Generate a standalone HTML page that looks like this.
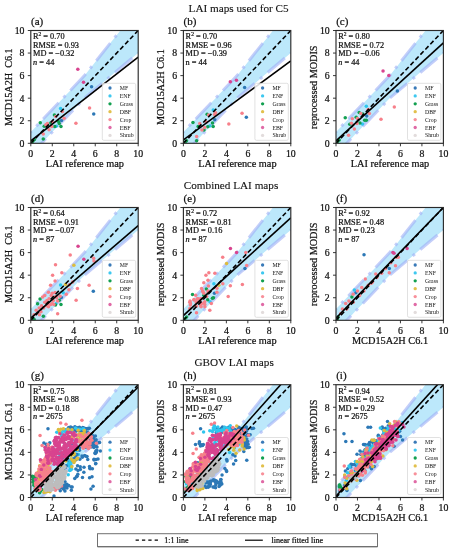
<!DOCTYPE html>
<html><head><meta charset="utf-8"><title>LAI scatter comparison</title>
<style>
html,body{margin:0;padding:0;background:#fff;}
body{width:451px;height:550px;overflow:hidden;}
svg{display:block;filter:blur(0.35px);}
text{font-family:'Liberation Serif', 'DejaVu Serif', serif;fill:#111;stroke:#111;stroke-width:0.22px;}
</style></head><body>
<svg width="451" height="550" viewBox="0 0 451 550">
<rect width="451" height="550" fill="#fff"/>

<text x="188.6" y="11.6" font-size="11.2" style="stroke-width:0.1px">LAI maps used for C5</text>
<text x="183.8" y="188.7" font-size="11.2" style="stroke-width:0.1px">Combined LAI maps</text>
<text x="194.4" y="365.7" font-size="11.2" style="stroke-width:0.1px">GBOV LAI maps</text>
<defs>
<clipPath id="c0"><rect x="30.8" y="30.5" width="107.4" height="112.8"/></clipPath>
<clipPath id="c1"><rect x="183.4" y="30.5" width="107.4" height="112.8"/></clipPath>
<clipPath id="c2"><rect x="336" y="30.5" width="107.4" height="112.8"/></clipPath>
<clipPath id="c3"><rect x="30.8" y="207.5" width="107.4" height="112.8"/></clipPath>
<clipPath id="c4"><rect x="183.4" y="207.5" width="107.4" height="112.8"/></clipPath>
<clipPath id="c5"><rect x="336" y="207.5" width="107.4" height="112.8"/></clipPath>
<clipPath id="c6"><rect x="30.8" y="384.7" width="107.4" height="112.8"/></clipPath>
<clipPath id="c7"><rect x="183.4" y="384.7" width="107.4" height="112.8"/></clipPath>
<clipPath id="c8"><rect x="336" y="384.7" width="107.4" height="112.8"/></clipPath>
</defs>
<g clip-path="url(#c0)">
<polygon points="30.8,132.02 33.48,129.2 36.17,126.38 38.86,123.56 41.54,120.74 44.23,117.92 46.91,115.1 49.59,112.28 52.28,109.46 54.97,106.64 57.65,103.82 60.34,101 63.02,98.18 65.7,95.36 68.39,92.54 71.08,89.72 73.76,86.9 76.45,84.08 79.13,81.26 81.81,78.44 84.5,75.62 87.19,72.24 89.87,68.85 92.56,65.47 95.24,62.08 97.92,58.7 100.61,55.32 103.3,51.93 105.98,48.55 108.67,45.16 111.35,41.78 114.03,38.4 116.72,35.01 119.41,31.63 122.09,28.24 124.77,24.86 127.46,21.48 130.15,18.09 132.83,14.71 135.52,11.32 138.2,7.94 138.2,53.06 135.52,55.32 132.83,57.57 130.15,59.83 127.46,62.08 124.77,64.34 122.09,66.6 119.41,68.85 116.72,71.11 114.03,73.36 111.35,75.62 108.67,77.88 105.98,80.13 103.3,82.39 100.61,84.64 97.92,86.9 95.24,89.16 92.56,91.41 89.87,93.67 87.19,95.92 84.5,98.18 81.81,101 79.13,103.82 76.45,106.64 73.76,109.46 71.08,112.28 68.39,115.1 65.7,117.92 63.02,120.74 60.34,123.56 57.65,126.38 54.97,129.2 52.28,132.02 49.59,134.84 46.91,137.66 44.23,140.48 41.54,143.3 38.86,146.12 36.17,148.94 33.48,151.76 30.8,154.58" fill="#bce8fb"/>
<path d="M30.8,132.02 L84.5,75.62 L138.2,7.94" fill="none" stroke="#9fb0f5" stroke-opacity="0.62" stroke-width="3" stroke-dasharray="22.5 7 3 7" stroke-dashoffset="21.6"/>
<path d="M30.8,154.58 L84.5,98.18 L138.2,53.06" fill="none" stroke="#9fb0f5" stroke-opacity="0.62" stroke-width="3" stroke-dasharray="22.5 7 3 7" stroke-dashoffset="0.7"/>
<circle cx="61.52" cy="120.4" r="1.75" fill="#2c78b6"/>
<circle cx="91.59" cy="86.67" r="1.75" fill="#2c78b6"/>
<circle cx="93.74" cy="114.08" r="1.75" fill="#2c78b6"/>
<circle cx="60.55" cy="108.44" r="1.75" fill="#2ec6ee"/>
<circle cx="56.25" cy="126.15" r="1.75" fill="#2ec6ee"/>
<circle cx="54.43" cy="115.1" r="1.75" fill="#13a052"/>
<circle cx="40.25" cy="122.66" r="1.75" fill="#13a052"/>
<circle cx="50.78" cy="123.11" r="1.75" fill="#13a052"/>
<circle cx="59.26" cy="123.56" r="1.75" fill="#13a052"/>
<circle cx="44.23" cy="126.15" r="1.75" fill="#13a052"/>
<circle cx="54.75" cy="126.61" r="1.75" fill="#13a052"/>
<circle cx="60.98" cy="126.61" r="1.75" fill="#13a052"/>
<circle cx="43.26" cy="139.01" r="1.75" fill="#13a052"/>
<circle cx="34.45" cy="139.46" r="1.75" fill="#13a052"/>
<circle cx="32.73" cy="141.16" r="1.75" fill="#13a052"/>
<circle cx="31.87" cy="142.74" r="1.75" fill="#13a052"/>
<circle cx="58.19" cy="121.3" r="1.75" fill="#13a052"/>
<circle cx="62.38" cy="111.49" r="1.75" fill="#f7808a"/>
<circle cx="55.72" cy="116.45" r="1.75" fill="#f7808a"/>
<circle cx="64.09" cy="118.26" r="1.75" fill="#f7808a"/>
<circle cx="47.34" cy="123.56" r="1.75" fill="#f7808a"/>
<circle cx="51.74" cy="126.61" r="1.75" fill="#f7808a"/>
<circle cx="49.06" cy="129.65" r="1.75" fill="#f7808a"/>
<circle cx="43.26" cy="134.05" r="1.75" fill="#f7808a"/>
<circle cx="89.55" cy="108.11" r="1.75" fill="#f7808a"/>
<circle cx="75.91" cy="123.22" r="1.75" fill="#f7808a"/>
<circle cx="45.84" cy="124.69" r="1.75" fill="#f7808a"/>
<circle cx="52.28" cy="121.87" r="1.75" fill="#f7808a"/>
<circle cx="77.84" cy="69.19" r="1.75" fill="#d8448f"/>
<circle cx="83.53" cy="82.28" r="1.75" fill="#d8448f"/>
<line x1="30.8" y1="143.3" x2="138.2" y2="30.5" stroke="#000" stroke-width="1.6" stroke-dasharray="4.6 2.6"/>
<line x1="30.8" y1="140.93" x2="138.2" y2="57.01" stroke="#000" stroke-width="1.6"/>
</g>
<rect x="102.3" y="83.3" width="33.4" height="57" rx="1.5" fill="#fff" fill-opacity="0.85" stroke="#d4d4d4" stroke-width="0.7"/>
<circle cx="110" cy="88" r="1.65" fill="#3a7ab8"/>
<text x="119.8" y="90" font-size="5.8" style="stroke:none" fill="#333">MF</text>
<circle cx="110" cy="95.9" r="1.65" fill="#3ec8f0"/>
<text x="119.8" y="97.9" font-size="5.8" style="stroke:none" fill="#333">ENF</text>
<circle cx="110" cy="103.8" r="1.65" fill="#12a050"/>
<text x="119.8" y="105.8" font-size="5.8" style="stroke:none" fill="#333">Grass</text>
<circle cx="110" cy="111.7" r="1.65" fill="#e2c04c"/>
<text x="119.8" y="113.7" font-size="5.8" style="stroke:none" fill="#333">DBF</text>
<circle cx="110" cy="119.6" r="1.65" fill="#f8909a"/>
<text x="119.8" y="121.6" font-size="5.8" style="stroke:none" fill="#333">Crop</text>
<circle cx="110" cy="127.5" r="1.65" fill="#e06aa6"/>
<text x="119.8" y="129.5" font-size="5.8" style="stroke:none" fill="#333">EBF</text>
<circle cx="110" cy="135.4" r="1.65" fill="#e2dcdc"/>
<text x="119.8" y="137.4" font-size="5.8" style="stroke:none" fill="#333">Shrub</text>
<text x="33" y="39.3" font-size="8.3">R<tspan font-size="5.5" dy="-3.2">2</tspan><tspan dy="3.2"> = 0.70</tspan></text>
<text x="33" y="47.8" font-size="8.3">RMSE = 0.93</text>
<text x="33" y="56.4" font-size="8.3">MD = −0.32</text>
<text x="33" y="65.1" font-size="8.3"><tspan font-style="italic">n</tspan> = 44</text>
<rect x="30.8" y="30.5" width="107.4" height="112.8" fill="none" stroke="#2a2a2a" stroke-width="1.15"/>
<line x1="30.8" y1="143.3" x2="30.8" y2="146.3" stroke="#222" stroke-width="0.9"/>
<line x1="27.8" y1="143.3" x2="30.8" y2="143.3" stroke="#222" stroke-width="0.9"/>
<text x="30.8" y="156.5" font-size="9.8" text-anchor="middle">0</text>
<text x="24.5" y="146.7" font-size="9.8" text-anchor="end">0</text>
<line x1="52.28" y1="143.3" x2="52.28" y2="146.3" stroke="#222" stroke-width="0.9"/>
<line x1="27.8" y1="120.74" x2="30.8" y2="120.74" stroke="#222" stroke-width="0.9"/>
<text x="52.28" y="156.5" font-size="9.8" text-anchor="middle">2</text>
<text x="24.5" y="124.14" font-size="9.8" text-anchor="end">2</text>
<line x1="73.76" y1="143.3" x2="73.76" y2="146.3" stroke="#222" stroke-width="0.9"/>
<line x1="27.8" y1="98.18" x2="30.8" y2="98.18" stroke="#222" stroke-width="0.9"/>
<text x="73.76" y="156.5" font-size="9.8" text-anchor="middle">4</text>
<text x="24.5" y="101.58" font-size="9.8" text-anchor="end">4</text>
<line x1="95.24" y1="143.3" x2="95.24" y2="146.3" stroke="#222" stroke-width="0.9"/>
<line x1="27.8" y1="75.62" x2="30.8" y2="75.62" stroke="#222" stroke-width="0.9"/>
<text x="95.24" y="156.5" font-size="9.8" text-anchor="middle">6</text>
<text x="24.5" y="79.02" font-size="9.8" text-anchor="end">6</text>
<line x1="116.72" y1="143.3" x2="116.72" y2="146.3" stroke="#222" stroke-width="0.9"/>
<line x1="27.8" y1="53.06" x2="30.8" y2="53.06" stroke="#222" stroke-width="0.9"/>
<text x="116.72" y="156.5" font-size="9.8" text-anchor="middle">8</text>
<text x="24.5" y="56.46" font-size="9.8" text-anchor="end">8</text>
<line x1="138.2" y1="143.3" x2="138.2" y2="146.3" stroke="#222" stroke-width="0.9"/>
<line x1="27.8" y1="30.5" x2="30.8" y2="30.5" stroke="#222" stroke-width="0.9"/>
<text x="138.2" y="156.5" font-size="9.8" text-anchor="middle">10</text>
<text x="24.5" y="33.9" font-size="9.8" text-anchor="end">10</text>
<text x="84.8" y="166.8" font-size="10.3" text-anchor="middle">LAI reference map</text>
<text transform="translate(11.8,87.2) rotate(-90)" font-size="10.2" text-anchor="middle" xml:space="preserve">MCD15A2H  C6.1</text>
<text x="31" y="24.7" font-size="11">(a)</text>
<g clip-path="url(#c1)">
<polygon points="183.4,132.02 186.09,129.2 188.77,126.38 191.46,123.56 194.14,120.74 196.83,117.92 199.51,115.1 202.19,112.28 204.88,109.46 207.56,106.64 210.25,103.82 212.94,101 215.62,98.18 218.31,95.36 220.99,92.54 223.68,89.72 226.36,86.9 229.05,84.08 231.73,81.26 234.42,78.44 237.1,75.62 239.79,72.24 242.47,68.85 245.16,65.47 247.84,62.08 250.53,58.7 253.21,55.32 255.9,51.93 258.58,48.55 261.26,45.16 263.95,41.78 266.63,38.4 269.32,35.01 272,31.63 274.69,28.24 277.38,24.86 280.06,21.48 282.75,18.09 285.43,14.71 288.12,11.32 290.8,7.94 290.8,53.06 288.12,55.32 285.43,57.57 282.75,59.83 280.06,62.08 277.38,64.34 274.69,66.6 272,68.85 269.32,71.11 266.63,73.36 263.95,75.62 261.26,77.88 258.58,80.13 255.9,82.39 253.21,84.64 250.53,86.9 247.84,89.16 245.16,91.41 242.47,93.67 239.79,95.92 237.1,98.18 234.42,101 231.73,103.82 229.05,106.64 226.36,109.46 223.68,112.28 220.99,115.1 218.31,117.92 215.62,120.74 212.94,123.56 210.25,126.38 207.56,129.2 204.88,132.02 202.19,134.84 199.51,137.66 196.83,140.48 194.14,143.3 191.46,146.12 188.77,148.94 186.09,151.76 183.4,154.58" fill="#bce8fb"/>
<path d="M183.4,132.02 L237.1,75.62 L290.8,7.94" fill="none" stroke="#9fb0f5" stroke-opacity="0.62" stroke-width="3" stroke-dasharray="22.5 7 3 7" stroke-dashoffset="21.6"/>
<path d="M183.4,154.58 L237.1,98.18 L290.8,53.06" fill="none" stroke="#9fb0f5" stroke-opacity="0.62" stroke-width="3" stroke-dasharray="22.5 7 3 7" stroke-dashoffset="0.7"/>
<circle cx="244.62" cy="87.58" r="1.75" fill="#2c78b6"/>
<circle cx="246.34" cy="117.36" r="1.75" fill="#2c78b6"/>
<circle cx="214.76" cy="119.84" r="1.75" fill="#2c78b6"/>
<circle cx="213.26" cy="110.02" r="1.75" fill="#2ec6ee"/>
<circle cx="209.82" cy="126.04" r="1.75" fill="#2ec6ee"/>
<circle cx="207.14" cy="114.31" r="1.75" fill="#13a052"/>
<circle cx="192.96" cy="122.43" r="1.75" fill="#13a052"/>
<circle cx="212.51" cy="122.88" r="1.75" fill="#13a052"/>
<circle cx="207.78" cy="126.72" r="1.75" fill="#13a052"/>
<circle cx="213.15" cy="126.38" r="1.75" fill="#13a052"/>
<circle cx="198.11" cy="126.38" r="1.75" fill="#13a052"/>
<circle cx="204.02" cy="129.99" r="1.75" fill="#13a052"/>
<circle cx="196.61" cy="140.71" r="1.75" fill="#13a052"/>
<circle cx="186.51" cy="140.71" r="1.75" fill="#13a052"/>
<circle cx="185.01" cy="142.17" r="1.75" fill="#13a052"/>
<circle cx="242.04" cy="113.18" r="1.75" fill="#f7808a"/>
<circle cx="228.83" cy="124.12" r="1.75" fill="#f7808a"/>
<circle cx="208.64" cy="115.1" r="1.75" fill="#f7808a"/>
<circle cx="215.62" cy="112.84" r="1.75" fill="#f7808a"/>
<circle cx="214.55" cy="114.54" r="1.75" fill="#f7808a"/>
<circle cx="199.72" cy="123.56" r="1.75" fill="#f7808a"/>
<circle cx="206.28" cy="122.09" r="1.75" fill="#f7808a"/>
<circle cx="201.98" cy="129.99" r="1.75" fill="#f7808a"/>
<circle cx="204.67" cy="127.62" r="1.75" fill="#f7808a"/>
<circle cx="196.61" cy="136.42" r="1.75" fill="#f7808a"/>
<circle cx="230.33" cy="81.71" r="1.75" fill="#d8448f"/>
<circle cx="236.46" cy="80.24" r="1.75" fill="#d8448f"/>
<line x1="183.4" y1="143.3" x2="290.8" y2="30.5" stroke="#000" stroke-width="1.6" stroke-dasharray="4.6 2.6"/>
<line x1="183.4" y1="139.92" x2="290.8" y2="60.96" stroke="#000" stroke-width="1.6"/>
</g>
<rect x="254.9" y="83.3" width="33.4" height="57" rx="1.5" fill="#fff" fill-opacity="0.85" stroke="#d4d4d4" stroke-width="0.7"/>
<circle cx="262.6" cy="88" r="1.65" fill="#3a7ab8"/>
<text x="272.4" y="90" font-size="5.8" style="stroke:none" fill="#333">MF</text>
<circle cx="262.6" cy="95.9" r="1.65" fill="#3ec8f0"/>
<text x="272.4" y="97.9" font-size="5.8" style="stroke:none" fill="#333">ENF</text>
<circle cx="262.6" cy="103.8" r="1.65" fill="#12a050"/>
<text x="272.4" y="105.8" font-size="5.8" style="stroke:none" fill="#333">Grass</text>
<circle cx="262.6" cy="111.7" r="1.65" fill="#e2c04c"/>
<text x="272.4" y="113.7" font-size="5.8" style="stroke:none" fill="#333">DBF</text>
<circle cx="262.6" cy="119.6" r="1.65" fill="#f8909a"/>
<text x="272.4" y="121.6" font-size="5.8" style="stroke:none" fill="#333">Crop</text>
<circle cx="262.6" cy="127.5" r="1.65" fill="#e06aa6"/>
<text x="272.4" y="129.5" font-size="5.8" style="stroke:none" fill="#333">EBF</text>
<circle cx="262.6" cy="135.4" r="1.65" fill="#e2dcdc"/>
<text x="272.4" y="137.4" font-size="5.8" style="stroke:none" fill="#333">Shrub</text>
<text x="185.6" y="39.3" font-size="8.3">R<tspan font-size="5.5" dy="-3.2">2</tspan><tspan dy="3.2"> = 0.70</tspan></text>
<text x="185.6" y="47.8" font-size="8.3">RMSE = 0.96</text>
<text x="185.6" y="56.4" font-size="8.3">MD = −0.39</text>
<text x="185.6" y="65.1" font-size="8.3">n = 44</text>
<rect x="183.4" y="30.5" width="107.4" height="112.8" fill="none" stroke="#2a2a2a" stroke-width="1.15"/>
<line x1="183.4" y1="143.3" x2="183.4" y2="146.3" stroke="#222" stroke-width="0.9"/>
<line x1="180.4" y1="143.3" x2="183.4" y2="143.3" stroke="#222" stroke-width="0.9"/>
<text x="183.4" y="156.5" font-size="9.8" text-anchor="middle">0</text>
<text x="177.1" y="146.7" font-size="9.8" text-anchor="end">0</text>
<line x1="204.88" y1="143.3" x2="204.88" y2="146.3" stroke="#222" stroke-width="0.9"/>
<line x1="180.4" y1="120.74" x2="183.4" y2="120.74" stroke="#222" stroke-width="0.9"/>
<text x="204.88" y="156.5" font-size="9.8" text-anchor="middle">2</text>
<text x="177.1" y="124.14" font-size="9.8" text-anchor="end">2</text>
<line x1="226.36" y1="143.3" x2="226.36" y2="146.3" stroke="#222" stroke-width="0.9"/>
<line x1="180.4" y1="98.18" x2="183.4" y2="98.18" stroke="#222" stroke-width="0.9"/>
<text x="226.36" y="156.5" font-size="9.8" text-anchor="middle">4</text>
<text x="177.1" y="101.58" font-size="9.8" text-anchor="end">4</text>
<line x1="247.84" y1="143.3" x2="247.84" y2="146.3" stroke="#222" stroke-width="0.9"/>
<line x1="180.4" y1="75.62" x2="183.4" y2="75.62" stroke="#222" stroke-width="0.9"/>
<text x="247.84" y="156.5" font-size="9.8" text-anchor="middle">6</text>
<text x="177.1" y="79.02" font-size="9.8" text-anchor="end">6</text>
<line x1="269.32" y1="143.3" x2="269.32" y2="146.3" stroke="#222" stroke-width="0.9"/>
<line x1="180.4" y1="53.06" x2="183.4" y2="53.06" stroke="#222" stroke-width="0.9"/>
<text x="269.32" y="156.5" font-size="9.8" text-anchor="middle">8</text>
<text x="177.1" y="56.46" font-size="9.8" text-anchor="end">8</text>
<line x1="290.8" y1="143.3" x2="290.8" y2="146.3" stroke="#222" stroke-width="0.9"/>
<line x1="180.4" y1="30.5" x2="183.4" y2="30.5" stroke="#222" stroke-width="0.9"/>
<text x="290.8" y="156.5" font-size="9.8" text-anchor="middle">10</text>
<text x="177.1" y="33.9" font-size="9.8" text-anchor="end">10</text>
<text x="237.4" y="166.8" font-size="10.3" text-anchor="middle">LAI reference map</text>
<text transform="translate(164.4,87.2) rotate(-90)" font-size="10.2" text-anchor="middle" xml:space="preserve">MOD15A2H C6.1</text>
<text x="183.6" y="24.7" font-size="11">(b)</text>
<g clip-path="url(#c2)">
<polygon points="336,132.02 338.69,129.2 341.37,126.38 344.06,123.56 346.74,120.74 349.43,117.92 352.11,115.1 354.8,112.28 357.48,109.46 360.17,106.64 362.85,103.82 365.54,101 368.22,98.18 370.9,95.36 373.59,92.54 376.27,89.72 378.96,86.9 381.64,84.08 384.33,81.26 387.01,78.44 389.7,75.62 392.38,72.24 395.07,68.85 397.75,65.47 400.44,62.08 403.12,58.7 405.81,55.32 408.5,51.93 411.18,48.55 413.87,45.16 416.55,41.78 419.24,38.4 421.92,35.01 424.61,31.63 427.29,28.24 429.98,24.86 432.66,21.48 435.35,18.09 438.03,14.71 440.72,11.32 443.4,7.94 443.4,53.06 440.72,55.32 438.03,57.57 435.35,59.83 432.66,62.08 429.98,64.34 427.29,66.6 424.61,68.85 421.92,71.11 419.24,73.36 416.55,75.62 413.87,77.88 411.18,80.13 408.5,82.39 405.81,84.64 403.12,86.9 400.44,89.16 397.75,91.41 395.07,93.67 392.38,95.92 389.7,98.18 387.01,101 384.33,103.82 381.64,106.64 378.96,109.46 376.27,112.28 373.59,115.1 370.9,117.92 368.22,120.74 365.54,123.56 362.85,126.38 360.17,129.2 357.48,132.02 354.8,134.84 352.11,137.66 349.43,140.48 346.74,143.3 344.06,146.12 341.37,148.94 338.69,151.76 336,154.58" fill="#bce8fb"/>
<path d="M336,132.02 L389.7,75.62 L443.4,7.94" fill="none" stroke="#9fb0f5" stroke-opacity="0.62" stroke-width="3" stroke-dasharray="22.5 7 3 7" stroke-dashoffset="21.6"/>
<path d="M336,154.58 L389.7,98.18 L443.4,53.06" fill="none" stroke="#9fb0f5" stroke-opacity="0.62" stroke-width="3" stroke-dasharray="22.5 7 3 7" stroke-dashoffset="0.7"/>
<circle cx="397.33" cy="90.96" r="1.75" fill="#2c78b6"/>
<circle cx="366.72" cy="115.89" r="1.75" fill="#2c78b6"/>
<circle cx="366.29" cy="106.3" r="1.75" fill="#2ec6ee"/>
<circle cx="362.42" cy="124.12" r="1.75" fill="#2ec6ee"/>
<circle cx="359.2" cy="112.51" r="1.75" fill="#13a052"/>
<circle cx="356.19" cy="117.36" r="1.75" fill="#13a052"/>
<circle cx="345.24" cy="117.69" r="1.75" fill="#13a052"/>
<circle cx="364.68" cy="120.18" r="1.75" fill="#13a052"/>
<circle cx="366.29" cy="120.18" r="1.75" fill="#13a052"/>
<circle cx="359.95" cy="122.88" r="1.75" fill="#13a052"/>
<circle cx="349.75" cy="124.35" r="1.75" fill="#13a052"/>
<circle cx="339.22" cy="139.92" r="1.75" fill="#13a052"/>
<circle cx="337.61" cy="141.61" r="1.75" fill="#13a052"/>
<circle cx="362.85" cy="113.97" r="1.75" fill="#13a052"/>
<circle cx="394.32" cy="106.98" r="1.75" fill="#f7808a"/>
<circle cx="381" cy="119.27" r="1.75" fill="#f7808a"/>
<circle cx="360.81" cy="113.52" r="1.75" fill="#f7808a"/>
<circle cx="369.4" cy="113.52" r="1.75" fill="#f7808a"/>
<circle cx="352.32" cy="118.71" r="1.75" fill="#f7808a"/>
<circle cx="351.47" cy="123.33" r="1.75" fill="#f7808a"/>
<circle cx="356.94" cy="123.56" r="1.75" fill="#f7808a"/>
<circle cx="354.37" cy="129.09" r="1.75" fill="#f7808a"/>
<circle cx="348.57" cy="135.29" r="1.75" fill="#f7808a"/>
<circle cx="368.22" cy="109.46" r="1.75" fill="#f7808a"/>
<circle cx="357.48" cy="118.48" r="1.75" fill="#f7808a"/>
<circle cx="383.04" cy="70.88" r="1.75" fill="#d8448f"/>
<circle cx="388.84" cy="75.51" r="1.75" fill="#d8448f"/>
<line x1="336" y1="143.3" x2="443.4" y2="30.5" stroke="#000" stroke-width="1.6" stroke-dasharray="4.6 2.6"/>
<line x1="336" y1="140.82" x2="443.4" y2="42.91" stroke="#000" stroke-width="1.6"/>
</g>
<rect x="407.5" y="83.3" width="33.4" height="57" rx="1.5" fill="#fff" fill-opacity="0.85" stroke="#d4d4d4" stroke-width="0.7"/>
<circle cx="415.2" cy="88" r="1.65" fill="#3a7ab8"/>
<text x="425" y="90" font-size="5.8" style="stroke:none" fill="#333">MF</text>
<circle cx="415.2" cy="95.9" r="1.65" fill="#3ec8f0"/>
<text x="425" y="97.9" font-size="5.8" style="stroke:none" fill="#333">ENF</text>
<circle cx="415.2" cy="103.8" r="1.65" fill="#12a050"/>
<text x="425" y="105.8" font-size="5.8" style="stroke:none" fill="#333">Grass</text>
<circle cx="415.2" cy="111.7" r="1.65" fill="#e2c04c"/>
<text x="425" y="113.7" font-size="5.8" style="stroke:none" fill="#333">DBF</text>
<circle cx="415.2" cy="119.6" r="1.65" fill="#f8909a"/>
<text x="425" y="121.6" font-size="5.8" style="stroke:none" fill="#333">Crop</text>
<circle cx="415.2" cy="127.5" r="1.65" fill="#e06aa6"/>
<text x="425" y="129.5" font-size="5.8" style="stroke:none" fill="#333">EBF</text>
<circle cx="415.2" cy="135.4" r="1.65" fill="#e2dcdc"/>
<text x="425" y="137.4" font-size="5.8" style="stroke:none" fill="#333">Shrub</text>
<text x="338.2" y="39.3" font-size="8.3">R<tspan font-size="5.5" dy="-3.2">2</tspan><tspan dy="3.2"> = 0.80</tspan></text>
<text x="338.2" y="47.8" font-size="8.3">RMSE = 0.72</text>
<text x="338.2" y="56.4" font-size="8.3">MD = −0.06</text>
<text x="338.2" y="65.1" font-size="8.3"><tspan font-style="italic">n</tspan> = 44</text>
<rect x="336" y="30.5" width="107.4" height="112.8" fill="none" stroke="#2a2a2a" stroke-width="1.15"/>
<line x1="336" y1="143.3" x2="336" y2="146.3" stroke="#222" stroke-width="0.9"/>
<line x1="333" y1="143.3" x2="336" y2="143.3" stroke="#222" stroke-width="0.9"/>
<text x="336" y="156.5" font-size="9.8" text-anchor="middle">0</text>
<text x="329.7" y="146.7" font-size="9.8" text-anchor="end">0</text>
<line x1="357.48" y1="143.3" x2="357.48" y2="146.3" stroke="#222" stroke-width="0.9"/>
<line x1="333" y1="120.74" x2="336" y2="120.74" stroke="#222" stroke-width="0.9"/>
<text x="357.48" y="156.5" font-size="9.8" text-anchor="middle">2</text>
<text x="329.7" y="124.14" font-size="9.8" text-anchor="end">2</text>
<line x1="378.96" y1="143.3" x2="378.96" y2="146.3" stroke="#222" stroke-width="0.9"/>
<line x1="333" y1="98.18" x2="336" y2="98.18" stroke="#222" stroke-width="0.9"/>
<text x="378.96" y="156.5" font-size="9.8" text-anchor="middle">4</text>
<text x="329.7" y="101.58" font-size="9.8" text-anchor="end">4</text>
<line x1="400.44" y1="143.3" x2="400.44" y2="146.3" stroke="#222" stroke-width="0.9"/>
<line x1="333" y1="75.62" x2="336" y2="75.62" stroke="#222" stroke-width="0.9"/>
<text x="400.44" y="156.5" font-size="9.8" text-anchor="middle">6</text>
<text x="329.7" y="79.02" font-size="9.8" text-anchor="end">6</text>
<line x1="421.92" y1="143.3" x2="421.92" y2="146.3" stroke="#222" stroke-width="0.9"/>
<line x1="333" y1="53.06" x2="336" y2="53.06" stroke="#222" stroke-width="0.9"/>
<text x="421.92" y="156.5" font-size="9.8" text-anchor="middle">8</text>
<text x="329.7" y="56.46" font-size="9.8" text-anchor="end">8</text>
<line x1="443.4" y1="143.3" x2="443.4" y2="146.3" stroke="#222" stroke-width="0.9"/>
<line x1="333" y1="30.5" x2="336" y2="30.5" stroke="#222" stroke-width="0.9"/>
<text x="443.4" y="156.5" font-size="9.8" text-anchor="middle">10</text>
<text x="329.7" y="33.9" font-size="9.8" text-anchor="end">10</text>
<text x="390" y="166.8" font-size="10.3" text-anchor="middle">LAI reference map</text>
<text transform="translate(317,87.2) rotate(-90)" font-size="10.2" text-anchor="middle" xml:space="preserve">reprocessed MODIS</text>
<text x="336.2" y="24.7" font-size="11">(c)</text>
<g clip-path="url(#c3)">
<polygon points="30.8,309.02 33.48,306.2 36.17,303.38 38.86,300.56 41.54,297.74 44.23,294.92 46.91,292.1 49.59,289.28 52.28,286.46 54.97,283.64 57.65,280.82 60.34,278 63.02,275.18 65.7,272.36 68.39,269.54 71.08,266.72 73.76,263.9 76.45,261.08 79.13,258.26 81.81,255.44 84.5,252.62 87.19,249.24 89.87,245.85 92.56,242.47 95.24,239.08 97.92,235.7 100.61,232.32 103.3,228.93 105.98,225.55 108.67,222.16 111.35,218.78 114.03,215.4 116.72,212.01 119.41,208.63 122.09,205.24 124.77,201.86 127.46,198.48 130.15,195.09 132.83,191.71 135.52,188.32 138.2,184.94 138.2,230.06 135.52,232.32 132.83,234.57 130.15,236.83 127.46,239.08 124.77,241.34 122.09,243.6 119.41,245.85 116.72,248.11 114.03,250.36 111.35,252.62 108.67,254.88 105.98,257.13 103.3,259.39 100.61,261.64 97.92,263.9 95.24,266.16 92.56,268.41 89.87,270.67 87.19,272.92 84.5,275.18 81.81,278 79.13,280.82 76.45,283.64 73.76,286.46 71.08,289.28 68.39,292.1 65.7,294.92 63.02,297.74 60.34,300.56 57.65,303.38 54.97,306.2 52.28,309.02 49.59,311.84 46.91,314.66 44.23,317.48 41.54,320.3 38.86,323.12 36.17,325.94 33.48,328.76 30.8,331.58" fill="#bce8fb"/>
<path d="M30.8,309.02 L84.5,252.62 L138.2,184.94" fill="none" stroke="#9fb0f5" stroke-opacity="0.62" stroke-width="3" stroke-dasharray="22.5 7 3 7" stroke-dashoffset="21.6"/>
<path d="M30.8,331.58 L84.5,275.18 L138.2,230.06" fill="none" stroke="#9fb0f5" stroke-opacity="0.62" stroke-width="3" stroke-dasharray="22.5 7 3 7" stroke-dashoffset="0.7"/>
<circle cx="93.31" cy="291.31" r="1.75" fill="#2c78b6"/>
<circle cx="61.3" cy="297.51" r="1.75" fill="#2c78b6"/>
<circle cx="60.55" cy="284.99" r="1.75" fill="#2ec6ee"/>
<circle cx="63.23" cy="292.78" r="1.75" fill="#2ec6ee"/>
<circle cx="56.04" cy="303.72" r="1.75" fill="#2ec6ee"/>
<circle cx="40.04" cy="298.98" r="1.75" fill="#13a052"/>
<circle cx="59.26" cy="300.33" r="1.75" fill="#13a052"/>
<circle cx="60.98" cy="304.51" r="1.75" fill="#13a052"/>
<circle cx="55.5" cy="305.07" r="1.75" fill="#13a052"/>
<circle cx="37.57" cy="303.72" r="1.75" fill="#13a052"/>
<circle cx="43.37" cy="316.35" r="1.75" fill="#13a052"/>
<circle cx="32.41" cy="318.04" r="1.75" fill="#13a052"/>
<circle cx="34.02" cy="319.17" r="1.75" fill="#13a052"/>
<circle cx="73.87" cy="265.25" r="1.75" fill="#dcbc3e"/>
<circle cx="65.49" cy="284.43" r="1.75" fill="#dcbc3e"/>
<circle cx="70.22" cy="255.1" r="1.75" fill="#f7808a"/>
<circle cx="93.63" cy="258.15" r="1.75" fill="#f7808a"/>
<circle cx="93.95" cy="260.97" r="1.75" fill="#f7808a"/>
<circle cx="55.5" cy="264.69" r="1.75" fill="#f7808a"/>
<circle cx="61.84" cy="272.7" r="1.75" fill="#f7808a"/>
<circle cx="52.6" cy="275.18" r="1.75" fill="#f7808a"/>
<circle cx="55.07" cy="281.05" r="1.75" fill="#f7808a"/>
<circle cx="50.56" cy="285.33" r="1.75" fill="#f7808a"/>
<circle cx="69.46" cy="284.77" r="1.75" fill="#f7808a"/>
<circle cx="89.12" cy="285.33" r="1.75" fill="#f7808a"/>
<circle cx="77.41" cy="288.6" r="1.75" fill="#f7808a"/>
<circle cx="68.93" cy="289.84" r="1.75" fill="#f7808a"/>
<circle cx="55.07" cy="292.55" r="1.75" fill="#f7808a"/>
<circle cx="52.28" cy="293.23" r="1.75" fill="#f7808a"/>
<circle cx="48.41" cy="292.33" r="1.75" fill="#f7808a"/>
<circle cx="44.76" cy="295.48" r="1.75" fill="#f7808a"/>
<circle cx="60.12" cy="296.16" r="1.75" fill="#f7808a"/>
<circle cx="55.5" cy="296.61" r="1.75" fill="#f7808a"/>
<circle cx="76.12" cy="300.33" r="1.75" fill="#f7808a"/>
<circle cx="42.61" cy="296.95" r="1.75" fill="#f7808a"/>
<circle cx="52.28" cy="303.38" r="1.75" fill="#f7808a"/>
<circle cx="50.67" cy="304.51" r="1.75" fill="#f7808a"/>
<circle cx="53.89" cy="304.51" r="1.75" fill="#f7808a"/>
<circle cx="48.52" cy="306.76" r="1.75" fill="#f7808a"/>
<circle cx="43.69" cy="307.89" r="1.75" fill="#f7808a"/>
<circle cx="46.37" cy="305.64" r="1.75" fill="#f7808a"/>
<circle cx="39.18" cy="307.89" r="1.75" fill="#f7808a"/>
<circle cx="57.65" cy="313.64" r="1.75" fill="#f7808a"/>
<circle cx="34.02" cy="314.66" r="1.75" fill="#f7808a"/>
<circle cx="46.91" cy="300.56" r="1.75" fill="#f7808a"/>
<circle cx="57.65" cy="301.12" r="1.75" fill="#f7808a"/>
<circle cx="66.24" cy="294.36" r="1.75" fill="#f7808a"/>
<circle cx="72.69" cy="281.95" r="1.75" fill="#f7808a"/>
<circle cx="41" cy="311.84" r="1.75" fill="#f7808a"/>
<circle cx="44.76" cy="302.25" r="1.75" fill="#f7808a"/>
<circle cx="49.06" cy="298.87" r="1.75" fill="#f7808a"/>
<circle cx="53.35" cy="300.56" r="1.75" fill="#f7808a"/>
<circle cx="56.58" cy="297.74" r="1.75" fill="#f7808a"/>
<circle cx="41.54" cy="305.64" r="1.75" fill="#f7808a"/>
<circle cx="36.17" cy="310.15" r="1.75" fill="#f7808a"/>
<circle cx="39.39" cy="314.66" r="1.75" fill="#f7808a"/>
<circle cx="51.21" cy="295.48" r="1.75" fill="#f7808a"/>
<circle cx="47.45" cy="303.94" r="1.75" fill="#f7808a"/>
<circle cx="78.06" cy="246.19" r="1.75" fill="#d8448f"/>
<circle cx="83.86" cy="259.28" r="1.75" fill="#d8448f"/>
<line x1="30.8" y1="320.3" x2="138.2" y2="207.5" stroke="#000" stroke-width="1.6" stroke-dasharray="4.6 2.6"/>
<line x1="30.8" y1="318.04" x2="138.2" y2="225.55" stroke="#000" stroke-width="1.6"/>
</g>
<rect x="102.3" y="260.3" width="33.4" height="57" rx="1.5" fill="#fff" fill-opacity="0.85" stroke="#d4d4d4" stroke-width="0.7"/>
<circle cx="110" cy="265" r="1.65" fill="#3a7ab8"/>
<text x="119.8" y="267" font-size="5.8" style="stroke:none" fill="#333">MF</text>
<circle cx="110" cy="272.9" r="1.65" fill="#3ec8f0"/>
<text x="119.8" y="274.9" font-size="5.8" style="stroke:none" fill="#333">ENF</text>
<circle cx="110" cy="280.8" r="1.65" fill="#12a050"/>
<text x="119.8" y="282.8" font-size="5.8" style="stroke:none" fill="#333">Grass</text>
<circle cx="110" cy="288.7" r="1.65" fill="#e2c04c"/>
<text x="119.8" y="290.7" font-size="5.8" style="stroke:none" fill="#333">DBF</text>
<circle cx="110" cy="296.6" r="1.65" fill="#f8909a"/>
<text x="119.8" y="298.6" font-size="5.8" style="stroke:none" fill="#333">Crop</text>
<circle cx="110" cy="304.5" r="1.65" fill="#e06aa6"/>
<text x="119.8" y="306.5" font-size="5.8" style="stroke:none" fill="#333">EBF</text>
<circle cx="110" cy="312.4" r="1.65" fill="#e2dcdc"/>
<text x="119.8" y="314.4" font-size="5.8" style="stroke:none" fill="#333">Shrub</text>
<text x="33" y="216.3" font-size="8.3">R<tspan font-size="5.5" dy="-3.2">2</tspan><tspan dy="3.2"> = 0.64</tspan></text>
<text x="33" y="224.8" font-size="8.3">RMSE = 0.91</text>
<text x="33" y="233.4" font-size="8.3">MD = −0.07</text>
<text x="33" y="242.1" font-size="8.3"><tspan font-style="italic">n</tspan> = 87</text>
<rect x="30.8" y="207.5" width="107.4" height="112.8" fill="none" stroke="#2a2a2a" stroke-width="1.15"/>
<line x1="30.8" y1="320.3" x2="30.8" y2="323.3" stroke="#222" stroke-width="0.9"/>
<line x1="27.8" y1="320.3" x2="30.8" y2="320.3" stroke="#222" stroke-width="0.9"/>
<text x="30.8" y="333.5" font-size="9.8" text-anchor="middle">0</text>
<text x="24.5" y="323.7" font-size="9.8" text-anchor="end">0</text>
<line x1="52.28" y1="320.3" x2="52.28" y2="323.3" stroke="#222" stroke-width="0.9"/>
<line x1="27.8" y1="297.74" x2="30.8" y2="297.74" stroke="#222" stroke-width="0.9"/>
<text x="52.28" y="333.5" font-size="9.8" text-anchor="middle">2</text>
<text x="24.5" y="301.14" font-size="9.8" text-anchor="end">2</text>
<line x1="73.76" y1="320.3" x2="73.76" y2="323.3" stroke="#222" stroke-width="0.9"/>
<line x1="27.8" y1="275.18" x2="30.8" y2="275.18" stroke="#222" stroke-width="0.9"/>
<text x="73.76" y="333.5" font-size="9.8" text-anchor="middle">4</text>
<text x="24.5" y="278.58" font-size="9.8" text-anchor="end">4</text>
<line x1="95.24" y1="320.3" x2="95.24" y2="323.3" stroke="#222" stroke-width="0.9"/>
<line x1="27.8" y1="252.62" x2="30.8" y2="252.62" stroke="#222" stroke-width="0.9"/>
<text x="95.24" y="333.5" font-size="9.8" text-anchor="middle">6</text>
<text x="24.5" y="256.02" font-size="9.8" text-anchor="end">6</text>
<line x1="116.72" y1="320.3" x2="116.72" y2="323.3" stroke="#222" stroke-width="0.9"/>
<line x1="27.8" y1="230.06" x2="30.8" y2="230.06" stroke="#222" stroke-width="0.9"/>
<text x="116.72" y="333.5" font-size="9.8" text-anchor="middle">8</text>
<text x="24.5" y="233.46" font-size="9.8" text-anchor="end">8</text>
<line x1="138.2" y1="320.3" x2="138.2" y2="323.3" stroke="#222" stroke-width="0.9"/>
<line x1="27.8" y1="207.5" x2="30.8" y2="207.5" stroke="#222" stroke-width="0.9"/>
<text x="138.2" y="333.5" font-size="9.8" text-anchor="middle">10</text>
<text x="24.5" y="210.9" font-size="9.8" text-anchor="end">10</text>
<text x="84.8" y="343.8" font-size="10.3" text-anchor="middle">LAI reference map</text>
<text transform="translate(11.8,264.2) rotate(-90)" font-size="10.2" text-anchor="middle" xml:space="preserve">MCD15A2H  C6.1</text>
<text x="31" y="201.7" font-size="11">(d)</text>
<g clip-path="url(#c4)">
<polygon points="183.4,309.02 186.09,306.2 188.77,303.38 191.46,300.56 194.14,297.74 196.83,294.92 199.51,292.1 202.19,289.28 204.88,286.46 207.56,283.64 210.25,280.82 212.94,278 215.62,275.18 218.31,272.36 220.99,269.54 223.68,266.72 226.36,263.9 229.05,261.08 231.73,258.26 234.42,255.44 237.1,252.62 239.79,249.24 242.47,245.85 245.16,242.47 247.84,239.08 250.53,235.7 253.21,232.32 255.9,228.93 258.58,225.55 261.26,222.16 263.95,218.78 266.63,215.4 269.32,212.01 272,208.63 274.69,205.24 277.38,201.86 280.06,198.48 282.75,195.09 285.43,191.71 288.12,188.32 290.8,184.94 290.8,230.06 288.12,232.32 285.43,234.57 282.75,236.83 280.06,239.08 277.38,241.34 274.69,243.6 272,245.85 269.32,248.11 266.63,250.36 263.95,252.62 261.26,254.88 258.58,257.13 255.9,259.39 253.21,261.64 250.53,263.9 247.84,266.16 245.16,268.41 242.47,270.67 239.79,272.92 237.1,275.18 234.42,278 231.73,280.82 229.05,283.64 226.36,286.46 223.68,289.28 220.99,292.1 218.31,294.92 215.62,297.74 212.94,300.56 210.25,303.38 207.56,306.2 204.88,309.02 202.19,311.84 199.51,314.66 196.83,317.48 194.14,320.3 191.46,323.12 188.77,325.94 186.09,328.76 183.4,331.58" fill="#bce8fb"/>
<path d="M183.4,309.02 L237.1,252.62 L290.8,184.94" fill="none" stroke="#9fb0f5" stroke-opacity="0.62" stroke-width="3" stroke-dasharray="22.5 7 3 7" stroke-dashoffset="21.6"/>
<path d="M183.4,331.58 L237.1,275.18 L290.8,230.06" fill="none" stroke="#9fb0f5" stroke-opacity="0.62" stroke-width="3" stroke-dasharray="22.5 7 3 7" stroke-dashoffset="0.7"/>
<circle cx="244.94" cy="268.52" r="1.75" fill="#2c78b6"/>
<circle cx="214.44" cy="293.34" r="1.75" fill="#2c78b6"/>
<circle cx="213.9" cy="283.64" r="1.75" fill="#2ec6ee"/>
<circle cx="209.93" cy="301.69" r="1.75" fill="#2ec6ee"/>
<circle cx="206.38" cy="288.94" r="1.75" fill="#13a052"/>
<circle cx="192.53" cy="294.47" r="1.75" fill="#13a052"/>
<circle cx="203.91" cy="295.26" r="1.75" fill="#13a052"/>
<circle cx="213.47" cy="297.85" r="1.75" fill="#13a052"/>
<circle cx="212.4" cy="298.3" r="1.75" fill="#13a052"/>
<circle cx="207.67" cy="299.77" r="1.75" fill="#13a052"/>
<circle cx="185.01" cy="318.61" r="1.75" fill="#13a052"/>
<circle cx="186.62" cy="316.92" r="1.75" fill="#13a052"/>
<circle cx="226.57" cy="263.45" r="1.75" fill="#dcbc3e"/>
<circle cx="218.84" cy="285.33" r="1.75" fill="#dcbc3e"/>
<circle cx="245.8" cy="252.62" r="1.75" fill="#f7808a"/>
<circle cx="222.71" cy="257.13" r="1.75" fill="#f7808a"/>
<circle cx="246.66" cy="265.48" r="1.75" fill="#f7808a"/>
<circle cx="208.85" cy="272.7" r="1.75" fill="#f7808a"/>
<circle cx="205.95" cy="275.18" r="1.75" fill="#f7808a"/>
<circle cx="214.87" cy="273.26" r="1.75" fill="#f7808a"/>
<circle cx="207.99" cy="280.14" r="1.75" fill="#f7808a"/>
<circle cx="203.81" cy="282.85" r="1.75" fill="#f7808a"/>
<circle cx="222.82" cy="283.64" r="1.75" fill="#f7808a"/>
<circle cx="242.36" cy="284.43" r="1.75" fill="#f7808a"/>
<circle cx="230.33" cy="285.78" r="1.75" fill="#f7808a"/>
<circle cx="208.53" cy="286.12" r="1.75" fill="#f7808a"/>
<circle cx="201.55" cy="288.6" r="1.75" fill="#f7808a"/>
<circle cx="216.91" cy="288.26" r="1.75" fill="#f7808a"/>
<circle cx="202.73" cy="291.54" r="1.75" fill="#f7808a"/>
<circle cx="208.1" cy="292.1" r="1.75" fill="#f7808a"/>
<circle cx="203.81" cy="293.23" r="1.75" fill="#f7808a"/>
<circle cx="216.91" cy="292.33" r="1.75" fill="#f7808a"/>
<circle cx="195.64" cy="295.26" r="1.75" fill="#f7808a"/>
<circle cx="206.49" cy="296.61" r="1.75" fill="#f7808a"/>
<circle cx="228.19" cy="296.61" r="1.75" fill="#f7808a"/>
<circle cx="197.36" cy="298.87" r="1.75" fill="#f7808a"/>
<circle cx="200.58" cy="298.87" r="1.75" fill="#f7808a"/>
<circle cx="194.14" cy="300" r="1.75" fill="#f7808a"/>
<circle cx="189.84" cy="302.25" r="1.75" fill="#f7808a"/>
<circle cx="196.29" cy="302.82" r="1.75" fill="#f7808a"/>
<circle cx="199.51" cy="302.25" r="1.75" fill="#f7808a"/>
<circle cx="203.81" cy="302.82" r="1.75" fill="#f7808a"/>
<circle cx="190.38" cy="305.07" r="1.75" fill="#f7808a"/>
<circle cx="200.58" cy="305.64" r="1.75" fill="#f7808a"/>
<circle cx="196.29" cy="306.2" r="1.75" fill="#f7808a"/>
<circle cx="189.84" cy="308.46" r="1.75" fill="#f7808a"/>
<circle cx="209.82" cy="310.26" r="1.75" fill="#f7808a"/>
<circle cx="196.5" cy="312.74" r="1.75" fill="#f7808a"/>
<circle cx="204.88" cy="306.76" r="1.75" fill="#f7808a"/>
<circle cx="211.32" cy="303.38" r="1.75" fill="#f7808a"/>
<circle cx="190.06" cy="301.12" r="1.75" fill="#f7808a"/>
<circle cx="196.4" cy="301.69" r="1.75" fill="#f7808a"/>
<circle cx="199.72" cy="302.03" r="1.75" fill="#f7808a"/>
<circle cx="204.77" cy="301.69" r="1.75" fill="#f7808a"/>
<circle cx="190.49" cy="303.72" r="1.75" fill="#f7808a"/>
<circle cx="201.44" cy="303.72" r="1.75" fill="#f7808a"/>
<circle cx="204.77" cy="304.51" r="1.75" fill="#f7808a"/>
<circle cx="201.12" cy="306.65" r="1.75" fill="#f7808a"/>
<circle cx="202.73" cy="291.08" r="1.75" fill="#f7808a"/>
<circle cx="208.1" cy="291.08" r="1.75" fill="#f7808a"/>
<circle cx="198.11" cy="298.64" r="1.75" fill="#f7808a"/>
<circle cx="201.44" cy="298.64" r="1.75" fill="#f7808a"/>
<circle cx="193.93" cy="299.54" r="1.75" fill="#f7808a"/>
<circle cx="206.49" cy="296.16" r="1.75" fill="#f7808a"/>
<circle cx="230.44" cy="248.45" r="1.75" fill="#d8448f"/>
<circle cx="236.56" cy="252.62" r="1.75" fill="#d8448f"/>
<line x1="183.4" y1="320.3" x2="290.8" y2="207.5" stroke="#000" stroke-width="1.6" stroke-dasharray="4.6 2.6"/>
<line x1="183.4" y1="315.56" x2="290.8" y2="217.88" stroke="#000" stroke-width="1.6"/>
</g>
<rect x="254.9" y="260.3" width="33.4" height="57" rx="1.5" fill="#fff" fill-opacity="0.85" stroke="#d4d4d4" stroke-width="0.7"/>
<circle cx="262.6" cy="265" r="1.65" fill="#3a7ab8"/>
<text x="272.4" y="267" font-size="5.8" style="stroke:none" fill="#333">MF</text>
<circle cx="262.6" cy="272.9" r="1.65" fill="#3ec8f0"/>
<text x="272.4" y="274.9" font-size="5.8" style="stroke:none" fill="#333">ENF</text>
<circle cx="262.6" cy="280.8" r="1.65" fill="#12a050"/>
<text x="272.4" y="282.8" font-size="5.8" style="stroke:none" fill="#333">Grass</text>
<circle cx="262.6" cy="288.7" r="1.65" fill="#e2c04c"/>
<text x="272.4" y="290.7" font-size="5.8" style="stroke:none" fill="#333">DBF</text>
<circle cx="262.6" cy="296.6" r="1.65" fill="#f8909a"/>
<text x="272.4" y="298.6" font-size="5.8" style="stroke:none" fill="#333">Crop</text>
<circle cx="262.6" cy="304.5" r="1.65" fill="#e06aa6"/>
<text x="272.4" y="306.5" font-size="5.8" style="stroke:none" fill="#333">EBF</text>
<circle cx="262.6" cy="312.4" r="1.65" fill="#e2dcdc"/>
<text x="272.4" y="314.4" font-size="5.8" style="stroke:none" fill="#333">Shrub</text>
<text x="185.6" y="216.3" font-size="8.3">R<tspan font-size="5.5" dy="-3.2">2</tspan><tspan dy="3.2"> = 0.72</tspan></text>
<text x="185.6" y="224.8" font-size="8.3">RMSE = 0.81</text>
<text x="185.6" y="233.4" font-size="8.3">MD = 0.16</text>
<text x="185.6" y="242.1" font-size="8.3"><tspan font-style="italic">n</tspan> = 87</text>
<rect x="183.4" y="207.5" width="107.4" height="112.8" fill="none" stroke="#2a2a2a" stroke-width="1.15"/>
<line x1="183.4" y1="320.3" x2="183.4" y2="323.3" stroke="#222" stroke-width="0.9"/>
<line x1="180.4" y1="320.3" x2="183.4" y2="320.3" stroke="#222" stroke-width="0.9"/>
<text x="183.4" y="333.5" font-size="9.8" text-anchor="middle">0</text>
<text x="177.1" y="323.7" font-size="9.8" text-anchor="end">0</text>
<line x1="204.88" y1="320.3" x2="204.88" y2="323.3" stroke="#222" stroke-width="0.9"/>
<line x1="180.4" y1="297.74" x2="183.4" y2="297.74" stroke="#222" stroke-width="0.9"/>
<text x="204.88" y="333.5" font-size="9.8" text-anchor="middle">2</text>
<text x="177.1" y="301.14" font-size="9.8" text-anchor="end">2</text>
<line x1="226.36" y1="320.3" x2="226.36" y2="323.3" stroke="#222" stroke-width="0.9"/>
<line x1="180.4" y1="275.18" x2="183.4" y2="275.18" stroke="#222" stroke-width="0.9"/>
<text x="226.36" y="333.5" font-size="9.8" text-anchor="middle">4</text>
<text x="177.1" y="278.58" font-size="9.8" text-anchor="end">4</text>
<line x1="247.84" y1="320.3" x2="247.84" y2="323.3" stroke="#222" stroke-width="0.9"/>
<line x1="180.4" y1="252.62" x2="183.4" y2="252.62" stroke="#222" stroke-width="0.9"/>
<text x="247.84" y="333.5" font-size="9.8" text-anchor="middle">6</text>
<text x="177.1" y="256.02" font-size="9.8" text-anchor="end">6</text>
<line x1="269.32" y1="320.3" x2="269.32" y2="323.3" stroke="#222" stroke-width="0.9"/>
<line x1="180.4" y1="230.06" x2="183.4" y2="230.06" stroke="#222" stroke-width="0.9"/>
<text x="269.32" y="333.5" font-size="9.8" text-anchor="middle">8</text>
<text x="177.1" y="233.46" font-size="9.8" text-anchor="end">8</text>
<line x1="290.8" y1="320.3" x2="290.8" y2="323.3" stroke="#222" stroke-width="0.9"/>
<line x1="180.4" y1="207.5" x2="183.4" y2="207.5" stroke="#222" stroke-width="0.9"/>
<text x="290.8" y="333.5" font-size="9.8" text-anchor="middle">10</text>
<text x="177.1" y="210.9" font-size="9.8" text-anchor="end">10</text>
<text x="237.4" y="343.8" font-size="10.3" text-anchor="middle">LAI reference map</text>
<text transform="translate(164.4,264.2) rotate(-90)" font-size="10.2" text-anchor="middle" xml:space="preserve">reprocessed MODIS</text>
<text x="183.6" y="201.7" font-size="11">(e)</text>
<g clip-path="url(#c5)">
<polygon points="336,309.02 338.69,306.2 341.37,303.38 344.06,300.56 346.74,297.74 349.43,294.92 352.11,292.1 354.8,289.28 357.48,286.46 360.17,283.64 362.85,280.82 365.54,278 368.22,275.18 370.9,272.36 373.59,269.54 376.27,266.72 378.96,263.9 381.64,261.08 384.33,258.26 387.01,255.44 389.7,252.62 392.38,249.24 395.07,245.85 397.75,242.47 400.44,239.08 403.12,235.7 405.81,232.32 408.5,228.93 411.18,225.55 413.87,222.16 416.55,218.78 419.24,215.4 421.92,212.01 424.61,208.63 427.29,205.24 429.98,201.86 432.66,198.48 435.35,195.09 438.03,191.71 440.72,188.32 443.4,184.94 443.4,230.06 440.72,232.32 438.03,234.57 435.35,236.83 432.66,239.08 429.98,241.34 427.29,243.6 424.61,245.85 421.92,248.11 419.24,250.36 416.55,252.62 413.87,254.88 411.18,257.13 408.5,259.39 405.81,261.64 403.12,263.9 400.44,266.16 397.75,268.41 395.07,270.67 392.38,272.92 389.7,275.18 387.01,278 384.33,280.82 381.64,283.64 378.96,286.46 376.27,289.28 373.59,292.1 370.9,294.92 368.22,297.74 365.54,300.56 362.85,303.38 360.17,306.2 357.48,309.02 354.8,311.84 352.11,314.66 349.43,317.48 346.74,320.3 344.06,323.12 341.37,325.94 338.69,328.76 336,331.58" fill="#bce8fb"/>
<path d="M336,309.02 L389.7,252.62 L443.4,184.94" fill="none" stroke="#9fb0f5" stroke-opacity="0.62" stroke-width="3" stroke-dasharray="22.5 7 3 7" stroke-dashoffset="21.6"/>
<path d="M336,331.58 L389.7,275.18 L443.4,230.06" fill="none" stroke="#9fb0f5" stroke-opacity="0.62" stroke-width="3" stroke-dasharray="22.5 7 3 7" stroke-dashoffset="0.7"/>
<circle cx="364.03" cy="254.76" r="1.75" fill="#2c78b6"/>
<circle cx="389.27" cy="268.52" r="1.75" fill="#2c78b6"/>
<circle cx="355.87" cy="292.66" r="1.75" fill="#2c78b6"/>
<circle cx="354.37" cy="289.96" r="1.75" fill="#2ec6ee"/>
<circle cx="351.9" cy="296.95" r="1.75" fill="#13a052"/>
<circle cx="338.15" cy="316.92" r="1.75" fill="#13a052"/>
<circle cx="337.07" cy="319.17" r="1.75" fill="#13a052"/>
<circle cx="398.29" cy="257.13" r="1.75" fill="#f7808a"/>
<circle cx="395.5" cy="265.7" r="1.75" fill="#f7808a"/>
<circle cx="389.27" cy="272.7" r="1.75" fill="#f7808a"/>
<circle cx="381.64" cy="273.15" r="1.75" fill="#f7808a"/>
<circle cx="375.74" cy="274.05" r="1.75" fill="#f7808a"/>
<circle cx="365.32" cy="278.9" r="1.75" fill="#f7808a"/>
<circle cx="371.23" cy="283.3" r="1.75" fill="#f7808a"/>
<circle cx="361.78" cy="287.59" r="1.75" fill="#f7808a"/>
<circle cx="357.48" cy="290.97" r="1.75" fill="#f7808a"/>
<circle cx="353.18" cy="294.36" r="1.75" fill="#f7808a"/>
<circle cx="348.89" cy="301.12" r="1.75" fill="#f7808a"/>
<circle cx="345.67" cy="303.38" r="1.75" fill="#f7808a"/>
<circle cx="351.04" cy="302.82" r="1.75" fill="#f7808a"/>
<circle cx="342.44" cy="309.02" r="1.75" fill="#f7808a"/>
<circle cx="340.83" cy="313.53" r="1.75" fill="#f7808a"/>
<circle cx="368.22" cy="285.33" r="1.75" fill="#f7808a"/>
<circle cx="376.81" cy="277.44" r="1.75" fill="#f7808a"/>
<circle cx="385.4" cy="268.41" r="1.75" fill="#f7808a"/>
<circle cx="359.63" cy="295.48" r="1.75" fill="#f7808a"/>
<circle cx="353.18" cy="302.25" r="1.75" fill="#f7808a"/>
<circle cx="346.74" cy="309.02" r="1.75" fill="#f7808a"/>
<circle cx="390.77" cy="262.77" r="1.75" fill="#f7808a"/>
<circle cx="396.14" cy="257.13" r="1.75" fill="#f7808a"/>
<circle cx="372.52" cy="281.95" r="1.75" fill="#f7808a"/>
<circle cx="363.92" cy="290.97" r="1.75" fill="#f7808a"/>
<circle cx="392.92" cy="252.62" r="1.75" fill="#d8448f"/>
<circle cx="394" cy="253.18" r="1.75" fill="#d8448f"/>
<circle cx="407.1" cy="248.56" r="1.75" fill="#d8448f"/>
<line x1="336" y1="320.3" x2="443.4" y2="207.5" stroke="#000" stroke-width="1.6" stroke-dasharray="4.6 2.6"/>
<line x1="336" y1="318.27" x2="443.4" y2="207.5" stroke="#000" stroke-width="1.6"/>
</g>
<rect x="407.5" y="260.3" width="33.4" height="57" rx="1.5" fill="#fff" fill-opacity="0.85" stroke="#d4d4d4" stroke-width="0.7"/>
<circle cx="415.2" cy="265" r="1.65" fill="#3a7ab8"/>
<text x="425" y="267" font-size="5.8" style="stroke:none" fill="#333">MF</text>
<circle cx="415.2" cy="272.9" r="1.65" fill="#3ec8f0"/>
<text x="425" y="274.9" font-size="5.8" style="stroke:none" fill="#333">ENF</text>
<circle cx="415.2" cy="280.8" r="1.65" fill="#12a050"/>
<text x="425" y="282.8" font-size="5.8" style="stroke:none" fill="#333">Grass</text>
<circle cx="415.2" cy="288.7" r="1.65" fill="#e2c04c"/>
<text x="425" y="290.7" font-size="5.8" style="stroke:none" fill="#333">DBF</text>
<circle cx="415.2" cy="296.6" r="1.65" fill="#f8909a"/>
<text x="425" y="298.6" font-size="5.8" style="stroke:none" fill="#333">Crop</text>
<circle cx="415.2" cy="304.5" r="1.65" fill="#e06aa6"/>
<text x="425" y="306.5" font-size="5.8" style="stroke:none" fill="#333">EBF</text>
<circle cx="415.2" cy="312.4" r="1.65" fill="#e2dcdc"/>
<text x="425" y="314.4" font-size="5.8" style="stroke:none" fill="#333">Shrub</text>
<text x="338.2" y="216.3" font-size="8.3">R<tspan font-size="5.5" dy="-3.2">2</tspan><tspan dy="3.2"> = 0.92</tspan></text>
<text x="338.2" y="224.8" font-size="8.3">RMSE = 0.48</text>
<text x="338.2" y="233.4" font-size="8.3">MD = 0.23</text>
<text x="338.2" y="242.1" font-size="8.3"><tspan font-style="italic">n</tspan> = 87</text>
<rect x="336" y="207.5" width="107.4" height="112.8" fill="none" stroke="#2a2a2a" stroke-width="1.15"/>
<line x1="336" y1="320.3" x2="336" y2="323.3" stroke="#222" stroke-width="0.9"/>
<line x1="333" y1="320.3" x2="336" y2="320.3" stroke="#222" stroke-width="0.9"/>
<text x="336" y="333.5" font-size="9.8" text-anchor="middle">0</text>
<text x="329.7" y="323.7" font-size="9.8" text-anchor="end">0</text>
<line x1="357.48" y1="320.3" x2="357.48" y2="323.3" stroke="#222" stroke-width="0.9"/>
<line x1="333" y1="297.74" x2="336" y2="297.74" stroke="#222" stroke-width="0.9"/>
<text x="357.48" y="333.5" font-size="9.8" text-anchor="middle">2</text>
<text x="329.7" y="301.14" font-size="9.8" text-anchor="end">2</text>
<line x1="378.96" y1="320.3" x2="378.96" y2="323.3" stroke="#222" stroke-width="0.9"/>
<line x1="333" y1="275.18" x2="336" y2="275.18" stroke="#222" stroke-width="0.9"/>
<text x="378.96" y="333.5" font-size="9.8" text-anchor="middle">4</text>
<text x="329.7" y="278.58" font-size="9.8" text-anchor="end">4</text>
<line x1="400.44" y1="320.3" x2="400.44" y2="323.3" stroke="#222" stroke-width="0.9"/>
<line x1="333" y1="252.62" x2="336" y2="252.62" stroke="#222" stroke-width="0.9"/>
<text x="400.44" y="333.5" font-size="9.8" text-anchor="middle">6</text>
<text x="329.7" y="256.02" font-size="9.8" text-anchor="end">6</text>
<line x1="421.92" y1="320.3" x2="421.92" y2="323.3" stroke="#222" stroke-width="0.9"/>
<line x1="333" y1="230.06" x2="336" y2="230.06" stroke="#222" stroke-width="0.9"/>
<text x="421.92" y="333.5" font-size="9.8" text-anchor="middle">8</text>
<text x="329.7" y="233.46" font-size="9.8" text-anchor="end">8</text>
<line x1="443.4" y1="320.3" x2="443.4" y2="323.3" stroke="#222" stroke-width="0.9"/>
<line x1="333" y1="207.5" x2="336" y2="207.5" stroke="#222" stroke-width="0.9"/>
<text x="443.4" y="333.5" font-size="9.8" text-anchor="middle">10</text>
<text x="329.7" y="210.9" font-size="9.8" text-anchor="end">10</text>
<text x="390" y="343.8" font-size="10.3" text-anchor="middle">MCD15A2H C6.1</text>
<text transform="translate(317,264.2) rotate(-90)" font-size="10.2" text-anchor="middle" xml:space="preserve">reprocessed MODIS</text>
<text x="336.2" y="201.7" font-size="11">(f)</text>
<g clip-path="url(#c6)">
<polygon points="30.8,486.22 33.48,483.4 36.17,480.58 38.86,477.76 41.54,474.94 44.23,472.12 46.91,469.3 49.59,466.48 52.28,463.66 54.97,460.84 57.65,458.02 60.34,455.2 63.02,452.38 65.7,449.56 68.39,446.74 71.08,443.92 73.76,441.1 76.45,438.28 79.13,435.46 81.81,432.64 84.5,429.82 87.19,426.44 89.87,423.05 92.56,419.67 95.24,416.28 97.92,412.9 100.61,409.52 103.3,406.13 105.98,402.75 108.67,399.36 111.35,395.98 114.03,392.6 116.72,389.21 119.41,385.83 122.09,382.44 124.77,379.06 127.46,375.68 130.15,372.29 132.83,368.91 135.52,365.52 138.2,362.14 138.2,407.26 135.52,409.52 132.83,411.77 130.15,414.03 127.46,416.28 124.77,418.54 122.09,420.8 119.41,423.05 116.72,425.31 114.03,427.56 111.35,429.82 108.67,432.08 105.98,434.33 103.3,436.59 100.61,438.84 97.92,441.1 95.24,443.36 92.56,445.61 89.87,447.87 87.19,450.12 84.5,452.38 81.81,455.2 79.13,458.02 76.45,460.84 73.76,463.66 71.08,466.48 68.39,469.3 65.7,472.12 63.02,474.94 60.34,477.76 57.65,480.58 54.97,483.4 52.28,486.22 49.59,489.04 46.91,491.86 44.23,494.68 41.54,497.5 38.86,500.32 36.17,503.14 33.48,505.96 30.8,508.78" fill="#bce8fb"/>
<path d="M30.8,486.22 L84.5,429.82 L138.2,362.14" fill="none" stroke="#9fb0f5" stroke-opacity="0.62" stroke-width="3" stroke-dasharray="22.5 7 3 7" stroke-dashoffset="21.6"/>
<path d="M30.8,508.78 L84.5,452.38 L138.2,407.26" fill="none" stroke="#9fb0f5" stroke-opacity="0.62" stroke-width="3" stroke-dasharray="22.5 7 3 7" stroke-dashoffset="0.7"/>
<circle cx="77.48" cy="428.51" r="1.75" fill="#2c78b6"/>
<circle cx="77.67" cy="429.72" r="1.75" fill="#2c78b6"/>
<circle cx="73.14" cy="429.57" r="1.75" fill="#2c78b6"/>
<circle cx="86.3" cy="428.63" r="1.75" fill="#2c78b6"/>
<circle cx="85.81" cy="428.89" r="1.75" fill="#2c78b6"/>
<circle cx="81.67" cy="428.98" r="1.75" fill="#2c78b6"/>
<circle cx="68.39" cy="428" r="1.75" fill="#2c78b6"/>
<circle cx="82.39" cy="428.52" r="1.75" fill="#2c78b6"/>
<circle cx="68.23" cy="431.81" r="1.75" fill="#2c78b6"/>
<circle cx="73.4" cy="429.94" r="1.75" fill="#2c78b6"/>
<circle cx="81.1" cy="429.32" r="1.75" fill="#2c78b6"/>
<circle cx="82.49" cy="430.2" r="1.75" fill="#2c78b6"/>
<circle cx="81.12" cy="428.68" r="1.75" fill="#2c78b6"/>
<circle cx="74.87" cy="426.74" r="1.75" fill="#2c78b6"/>
<circle cx="82.72" cy="427.5" r="1.75" fill="#2c78b6"/>
<circle cx="75.13" cy="430.34" r="1.75" fill="#2c78b6"/>
<circle cx="76.91" cy="429.41" r="1.75" fill="#2c78b6"/>
<circle cx="83.2" cy="428.89" r="1.75" fill="#2c78b6"/>
<circle cx="76.25" cy="430.66" r="1.75" fill="#2c78b6"/>
<circle cx="75.78" cy="427.47" r="1.75" fill="#2c78b6"/>
<circle cx="73.92" cy="428.9" r="1.75" fill="#2c78b6"/>
<circle cx="81.88" cy="431.44" r="1.75" fill="#2c78b6"/>
<circle cx="79.44" cy="427.34" r="1.75" fill="#2c78b6"/>
<circle cx="66.15" cy="429.73" r="1.75" fill="#2c78b6"/>
<circle cx="78.45" cy="430.45" r="1.75" fill="#2c78b6"/>
<circle cx="82.34" cy="429.35" r="1.75" fill="#2c78b6"/>
<circle cx="69.69" cy="428.04" r="1.75" fill="#2c78b6"/>
<circle cx="83.44" cy="427.87" r="1.75" fill="#2c78b6"/>
<circle cx="88.41" cy="428.72" r="1.75" fill="#2c78b6"/>
<circle cx="79.9" cy="431.16" r="1.75" fill="#2c78b6"/>
<circle cx="83.1" cy="430.15" r="1.75" fill="#2c78b6"/>
<circle cx="76.21" cy="431.11" r="1.75" fill="#2c78b6"/>
<circle cx="72.89" cy="430.03" r="1.75" fill="#2c78b6"/>
<circle cx="87.44" cy="432.24" r="1.75" fill="#2c78b6"/>
<circle cx="69.74" cy="428.91" r="1.75" fill="#2c78b6"/>
<circle cx="88.43" cy="428.41" r="1.75" fill="#2c78b6"/>
<circle cx="66.89" cy="432.95" r="1.75" fill="#2c78b6"/>
<circle cx="81.43" cy="430.34" r="1.75" fill="#2c78b6"/>
<circle cx="71.91" cy="427.82" r="1.75" fill="#2c78b6"/>
<circle cx="86.23" cy="429.03" r="1.75" fill="#2c78b6"/>
<circle cx="80.71" cy="428.62" r="1.75" fill="#2c78b6"/>
<circle cx="89.4" cy="428.35" r="1.75" fill="#2c78b6"/>
<circle cx="82.47" cy="428.45" r="1.75" fill="#2c78b6"/>
<circle cx="69.02" cy="427.38" r="1.75" fill="#2c78b6"/>
<circle cx="85.28" cy="428.48" r="1.75" fill="#2c78b6"/>
<circle cx="66.41" cy="430.19" r="1.75" fill="#2c78b6"/>
<circle cx="84.56" cy="431.91" r="1.75" fill="#2c78b6"/>
<circle cx="77.94" cy="427.76" r="1.75" fill="#2c78b6"/>
<circle cx="70.68" cy="426.89" r="1.75" fill="#2c78b6"/>
<circle cx="82.69" cy="429.48" r="1.75" fill="#2c78b6"/>
<circle cx="93.96" cy="440.82" r="1.75" fill="#2c78b6"/>
<circle cx="93.42" cy="438.02" r="1.75" fill="#2c78b6"/>
<circle cx="91.32" cy="446.82" r="1.75" fill="#2c78b6"/>
<circle cx="95.89" cy="444.33" r="1.75" fill="#2c78b6"/>
<circle cx="90.73" cy="439.15" r="1.75" fill="#2c78b6"/>
<circle cx="97.03" cy="446.99" r="1.75" fill="#2c78b6"/>
<circle cx="89.39" cy="445.24" r="1.75" fill="#2c78b6"/>
<circle cx="92.69" cy="446.16" r="1.75" fill="#2c78b6"/>
<circle cx="96.86" cy="450.28" r="1.75" fill="#2c78b6"/>
<circle cx="96.48" cy="451.64" r="1.75" fill="#2c78b6"/>
<circle cx="90.98" cy="440.92" r="1.75" fill="#2c78b6"/>
<circle cx="96.12" cy="439.64" r="1.75" fill="#2c78b6"/>
<circle cx="94.02" cy="443.68" r="1.75" fill="#2c78b6"/>
<circle cx="93.5" cy="441.24" r="1.75" fill="#2c78b6"/>
<circle cx="92.62" cy="442.92" r="1.75" fill="#2c78b6"/>
<circle cx="94.63" cy="444.48" r="1.75" fill="#2c78b6"/>
<circle cx="95.14" cy="441.29" r="1.75" fill="#2c78b6"/>
<circle cx="98.49" cy="442.65" r="1.75" fill="#2c78b6"/>
<circle cx="91.94" cy="446.59" r="1.75" fill="#2c78b6"/>
<circle cx="93.06" cy="439.27" r="1.75" fill="#2c78b6"/>
<circle cx="92.19" cy="442.31" r="1.75" fill="#2c78b6"/>
<circle cx="98.03" cy="458.95" r="1.75" fill="#2c78b6"/>
<circle cx="90.07" cy="443.11" r="1.75" fill="#2c78b6"/>
<circle cx="94.16" cy="443.14" r="1.75" fill="#2c78b6"/>
<circle cx="91.93" cy="440.79" r="1.75" fill="#2c78b6"/>
<circle cx="93.85" cy="447.43" r="1.75" fill="#2c78b6"/>
<circle cx="99.62" cy="442.48" r="1.75" fill="#2c78b6"/>
<circle cx="91.6" cy="445.04" r="1.75" fill="#2c78b6"/>
<circle cx="92.49" cy="444.84" r="1.75" fill="#2c78b6"/>
<circle cx="85.77" cy="447.23" r="1.75" fill="#2c78b6"/>
<circle cx="95.8" cy="451.07" r="1.75" fill="#2c78b6"/>
<circle cx="92.91" cy="439.11" r="1.75" fill="#2c78b6"/>
<circle cx="95.39" cy="436.07" r="1.75" fill="#2c78b6"/>
<circle cx="88.52" cy="446.48" r="1.75" fill="#2c78b6"/>
<circle cx="92.18" cy="440.97" r="1.75" fill="#2c78b6"/>
<circle cx="96.02" cy="459.62" r="1.75" fill="#2c78b6"/>
<circle cx="96.02" cy="452.65" r="1.75" fill="#2c78b6"/>
<circle cx="94.93" cy="452.9" r="1.75" fill="#2c78b6"/>
<circle cx="93.56" cy="437.75" r="1.75" fill="#2c78b6"/>
<circle cx="92.69" cy="443.41" r="1.75" fill="#2c78b6"/>
<circle cx="95.23" cy="443.69" r="1.75" fill="#2c78b6"/>
<circle cx="92.85" cy="435.84" r="1.75" fill="#2c78b6"/>
<circle cx="95.91" cy="446.14" r="1.75" fill="#2c78b6"/>
<circle cx="100.46" cy="450.95" r="1.75" fill="#2c78b6"/>
<circle cx="95.55" cy="445.98" r="1.75" fill="#2c78b6"/>
<circle cx="77.06" cy="476.18" r="1.75" fill="#2c78b6"/>
<circle cx="76.47" cy="476.84" r="1.75" fill="#2c78b6"/>
<circle cx="87.03" cy="456.43" r="1.75" fill="#2c78b6"/>
<circle cx="92.37" cy="468.77" r="1.75" fill="#2c78b6"/>
<circle cx="87.74" cy="459.38" r="1.75" fill="#2c78b6"/>
<circle cx="94.09" cy="459.89" r="1.75" fill="#2c78b6"/>
<circle cx="90.14" cy="468.82" r="1.75" fill="#2c78b6"/>
<circle cx="76.02" cy="459.69" r="1.75" fill="#2c78b6"/>
<circle cx="79.83" cy="459.35" r="1.75" fill="#2c78b6"/>
<circle cx="89.52" cy="477.85" r="1.75" fill="#2c78b6"/>
<circle cx="74.75" cy="478.4" r="1.75" fill="#2c78b6"/>
<circle cx="93.96" cy="459.18" r="1.75" fill="#2c78b6"/>
<circle cx="95.83" cy="463.56" r="1.75" fill="#2c78b6"/>
<circle cx="80.27" cy="466.74" r="1.75" fill="#2c78b6"/>
<circle cx="95.59" cy="463.78" r="1.75" fill="#2c78b6"/>
<circle cx="84.62" cy="455.45" r="1.75" fill="#2c78b6"/>
<circle cx="82.33" cy="457.27" r="1.75" fill="#2c78b6"/>
<circle cx="92.02" cy="476.65" r="1.75" fill="#2c78b6"/>
<circle cx="77.83" cy="474.24" r="1.75" fill="#2c78b6"/>
<circle cx="77.55" cy="465.64" r="1.75" fill="#2c78b6"/>
<circle cx="78.02" cy="470.55" r="1.75" fill="#2c78b6"/>
<circle cx="80.35" cy="469.4" r="1.75" fill="#2c78b6"/>
<circle cx="86.02" cy="456.31" r="1.75" fill="#2c78b6"/>
<circle cx="82" cy="455.92" r="1.75" fill="#2c78b6"/>
<circle cx="84" cy="467.24" r="1.75" fill="#2c78b6"/>
<circle cx="82.48" cy="477.47" r="1.75" fill="#2c78b6"/>
<circle cx="75.87" cy="468.95" r="1.75" fill="#2c78b6"/>
<circle cx="89.53" cy="466.52" r="1.75" fill="#2c78b6"/>
<circle cx="60.63" cy="484.6" r="1.75" fill="#2c78b6"/>
<circle cx="55.95" cy="488" r="1.75" fill="#2c78b6"/>
<circle cx="67.35" cy="485.17" r="1.75" fill="#2c78b6"/>
<circle cx="63.05" cy="485.15" r="1.75" fill="#2c78b6"/>
<circle cx="63.73" cy="489.18" r="1.75" fill="#2c78b6"/>
<circle cx="56.3" cy="488.08" r="1.75" fill="#2c78b6"/>
<circle cx="66.98" cy="487.93" r="1.75" fill="#2c78b6"/>
<circle cx="59.14" cy="488.35" r="1.75" fill="#2c78b6"/>
<circle cx="56.44" cy="487.02" r="1.75" fill="#2c78b6"/>
<circle cx="57.95" cy="486.04" r="1.75" fill="#2c78b6"/>
<circle cx="52.88" cy="486.12" r="1.75" fill="#2c78b6"/>
<circle cx="60.26" cy="490.73" r="1.75" fill="#2c78b6"/>
<circle cx="66.13" cy="487.34" r="1.75" fill="#2c78b6"/>
<circle cx="53.44" cy="488.56" r="1.75" fill="#2c78b6"/>
<circle cx="64.27" cy="487.72" r="1.75" fill="#2c78b6"/>
<circle cx="66.37" cy="485.27" r="1.75" fill="#2c78b6"/>
<circle cx="65.88" cy="486.12" r="1.75" fill="#2c78b6"/>
<circle cx="68.75" cy="485.44" r="1.75" fill="#2c78b6"/>
<circle cx="64.96" cy="491.02" r="1.75" fill="#2c78b6"/>
<circle cx="66.87" cy="484.13" r="1.75" fill="#2c78b6"/>
<circle cx="61.74" cy="487.74" r="1.75" fill="#2c78b6"/>
<circle cx="71.36" cy="490.35" r="1.75" fill="#2c78b6"/>
<circle cx="65.03" cy="481.86" r="1.75" fill="#2c78b6"/>
<circle cx="59.04" cy="485.38" r="1.75" fill="#2c78b6"/>
<circle cx="71.12" cy="487.03" r="1.75" fill="#2c78b6"/>
<circle cx="65.43" cy="484.95" r="1.75" fill="#2c78b6"/>
<circle cx="59.13" cy="486.96" r="1.75" fill="#2c78b6"/>
<circle cx="64.28" cy="485.11" r="1.75" fill="#2c78b6"/>
<circle cx="62.87" cy="487.18" r="1.75" fill="#2c78b6"/>
<circle cx="58.65" cy="487.51" r="1.75" fill="#2c78b6"/>
<circle cx="47.52" cy="445.36" r="1.75" fill="#2c78b6"/>
<circle cx="45.27" cy="447.7" r="1.75" fill="#2c78b6"/>
<circle cx="49.81" cy="442.78" r="1.75" fill="#2c78b6"/>
<circle cx="47.19" cy="452.05" r="1.75" fill="#2c78b6"/>
<circle cx="47.17" cy="444.42" r="1.75" fill="#2c78b6"/>
<circle cx="48.54" cy="444.55" r="1.75" fill="#2c78b6"/>
<circle cx="46.29" cy="444.32" r="1.75" fill="#2c78b6"/>
<circle cx="43.87" cy="443.05" r="1.75" fill="#2c78b6"/>
<circle cx="72.15" cy="487.12" r="1.75" fill="#2c78b6"/>
<circle cx="54" cy="496.03" r="1.75" fill="#2c78b6"/>
<circle cx="89.87" cy="468.17" r="1.75" fill="#2c78b6"/>
<circle cx="83.86" cy="472.23" r="1.75" fill="#2c78b6"/>
<circle cx="93.09" cy="486.22" r="1.75" fill="#2c78b6"/>
<circle cx="90.94" cy="489.04" r="1.75" fill="#2c78b6"/>
<circle cx="95.24" cy="453.51" r="1.75" fill="#2c78b6"/>
<circle cx="47.98" cy="428.69" r="1.75" fill="#2c78b6"/>
<circle cx="70.13" cy="432.14" r="1.75" fill="#2ec6ee"/>
<circle cx="75.51" cy="427.89" r="1.75" fill="#2ec6ee"/>
<circle cx="60.86" cy="432.08" r="1.75" fill="#2ec6ee"/>
<circle cx="69.95" cy="430.64" r="1.75" fill="#2ec6ee"/>
<circle cx="66.25" cy="432.6" r="1.75" fill="#2ec6ee"/>
<circle cx="79.78" cy="429.19" r="1.75" fill="#2ec6ee"/>
<circle cx="61.98" cy="433.22" r="1.75" fill="#2ec6ee"/>
<circle cx="77.54" cy="429.27" r="1.75" fill="#2ec6ee"/>
<circle cx="78.17" cy="429.58" r="1.75" fill="#2ec6ee"/>
<circle cx="63.71" cy="430.51" r="1.75" fill="#2ec6ee"/>
<circle cx="56.79" cy="432.21" r="1.75" fill="#2ec6ee"/>
<circle cx="68.07" cy="430.06" r="1.75" fill="#2ec6ee"/>
<circle cx="64.48" cy="431.16" r="1.75" fill="#2ec6ee"/>
<circle cx="70.85" cy="430.31" r="1.75" fill="#2ec6ee"/>
<circle cx="71.82" cy="430.59" r="1.75" fill="#2ec6ee"/>
<circle cx="66.65" cy="429.61" r="1.75" fill="#2ec6ee"/>
<circle cx="70.64" cy="468.71" r="1.75" fill="#2ec6ee"/>
<circle cx="69.19" cy="465.92" r="1.75" fill="#2ec6ee"/>
<circle cx="70.3" cy="465.38" r="1.75" fill="#2ec6ee"/>
<circle cx="70.54" cy="465.32" r="1.75" fill="#2ec6ee"/>
<circle cx="70.25" cy="470.17" r="1.75" fill="#2ec6ee"/>
<circle cx="71.44" cy="462.35" r="1.75" fill="#2ec6ee"/>
<circle cx="71.47" cy="466.56" r="1.75" fill="#2ec6ee"/>
<circle cx="71.5" cy="469.18" r="1.75" fill="#2ec6ee"/>
<circle cx="66.47" cy="465.71" r="1.75" fill="#2ec6ee"/>
<circle cx="68.54" cy="463.41" r="1.75" fill="#2ec6ee"/>
<circle cx="68.21" cy="474.81" r="1.75" fill="#2ec6ee"/>
<circle cx="68.31" cy="460.58" r="1.75" fill="#2ec6ee"/>
<circle cx="69.72" cy="470.55" r="1.75" fill="#2ec6ee"/>
<circle cx="68.9" cy="464.15" r="1.75" fill="#2ec6ee"/>
<circle cx="85.03" cy="437.12" r="1.75" fill="#2ec6ee"/>
<circle cx="88.21" cy="435.33" r="1.75" fill="#2ec6ee"/>
<circle cx="83.36" cy="435.7" r="1.75" fill="#2ec6ee"/>
<circle cx="88.76" cy="434.43" r="1.75" fill="#2ec6ee"/>
<circle cx="86.72" cy="441.38" r="1.75" fill="#2ec6ee"/>
<circle cx="82.95" cy="435.25" r="1.75" fill="#2ec6ee"/>
<circle cx="82.47" cy="434.1" r="1.75" fill="#2ec6ee"/>
<circle cx="85.35" cy="434.64" r="1.75" fill="#2ec6ee"/>
<circle cx="82.74" cy="429.1" r="1.75" fill="#2ec6ee"/>
<circle cx="87.42" cy="438.45" r="1.75" fill="#2ec6ee"/>
<circle cx="83.72" cy="428.93" r="1.75" fill="#2ec6ee"/>
<circle cx="82.32" cy="434.76" r="1.75" fill="#2ec6ee"/>
<circle cx="60.89" cy="468.66" r="1.75" fill="#2c78b6"/>
<circle cx="66.26" cy="465.78" r="1.75" fill="#2c78b6"/>
<circle cx="70.63" cy="455.55" r="1.75" fill="#dcbc3e"/>
<circle cx="76.67" cy="450.78" r="1.75" fill="#2ec6ee"/>
<circle cx="68.49" cy="460.34" r="1.75" fill="#2c78b6"/>
<circle cx="62.51" cy="472.25" r="1.75" fill="#2c78b6"/>
<circle cx="73.58" cy="459.02" r="1.75" fill="#2c78b6"/>
<circle cx="75.65" cy="457" r="1.75" fill="#2c78b6"/>
<circle cx="63.76" cy="468.89" r="1.75" fill="#2c78b6"/>
<circle cx="61.72" cy="471.93" r="1.75" fill="#2c78b6"/>
<circle cx="75.06" cy="458.41" r="1.75" fill="#2c78b6"/>
<circle cx="78.46" cy="454.48" r="1.75" fill="#2ec6ee"/>
<circle cx="76.85" cy="454.57" r="1.75" fill="#2c78b6"/>
<circle cx="62.52" cy="463.98" r="1.75" fill="#dcbc3e"/>
<circle cx="79.42" cy="450.13" r="1.75" fill="#2c78b6"/>
<circle cx="71.67" cy="460.13" r="1.75" fill="#2c78b6"/>
<circle cx="70.33" cy="455.83" r="1.75" fill="#2ec6ee"/>
<circle cx="75.34" cy="455.34" r="1.75" fill="#2ec6ee"/>
<circle cx="73.62" cy="453.12" r="1.75" fill="#2c78b6"/>
<circle cx="65.75" cy="461.05" r="1.75" fill="#dcbc3e"/>
<circle cx="65.41" cy="467.54" r="1.75" fill="#2c78b6"/>
<circle cx="75.17" cy="459.77" r="1.75" fill="#2c78b6"/>
<circle cx="77.22" cy="449.62" r="1.75" fill="#dcbc3e"/>
<circle cx="75.7" cy="456.01" r="1.75" fill="#2c78b6"/>
<circle cx="62.37" cy="465.08" r="1.75" fill="#dcbc3e"/>
<circle cx="73.47" cy="458.92" r="1.75" fill="#2c78b6"/>
<circle cx="61.11" cy="465.55" r="1.75" fill="#dcbc3e"/>
<circle cx="79.67" cy="447.38" r="1.75" fill="#2c78b6"/>
<circle cx="73.93" cy="454.83" r="1.75" fill="#dcbc3e"/>
<circle cx="69.85" cy="460.48" r="1.75" fill="#2ec6ee"/>
<circle cx="59.74" cy="463.01" r="1.75" fill="#2ec6ee"/>
<circle cx="64.16" cy="456.12" r="1.75" fill="#2ec6ee"/>
<circle cx="53.3" cy="448.77" r="1.75" fill="#2ec6ee"/>
<circle cx="61.8" cy="434.9" r="1.75" fill="#2ec6ee"/>
<circle cx="58.38" cy="453.75" r="1.75" fill="#2ec6ee"/>
<circle cx="67.73" cy="444.54" r="1.75" fill="#2ec6ee"/>
<circle cx="58.86" cy="462.1" r="1.75" fill="#2ec6ee"/>
<circle cx="61.21" cy="449.07" r="1.75" fill="#2ec6ee"/>
<circle cx="69.87" cy="452.2" r="1.75" fill="#2ec6ee"/>
<circle cx="71.12" cy="451.83" r="1.75" fill="#2ec6ee"/>
<circle cx="61.51" cy="461.82" r="1.75" fill="#2ec6ee"/>
<circle cx="60.28" cy="454.93" r="1.75" fill="#2ec6ee"/>
<circle cx="60.47" cy="452.44" r="1.75" fill="#2ec6ee"/>
<circle cx="58.14" cy="463.72" r="1.75" fill="#2ec6ee"/>
<circle cx="61.89" cy="436.48" r="1.75" fill="#2ec6ee"/>
<circle cx="71.9" cy="437.01" r="1.75" fill="#2c78b6"/>
<circle cx="58.89" cy="464.17" r="1.75" fill="#2c78b6"/>
<circle cx="69.34" cy="444.43" r="1.75" fill="#2c78b6"/>
<circle cx="63.15" cy="455.24" r="1.75" fill="#2c78b6"/>
<circle cx="72.38" cy="439.35" r="1.75" fill="#2c78b6"/>
<circle cx="72.07" cy="452.38" r="1.75" fill="#2c78b6"/>
<circle cx="75.19" cy="447.16" r="1.75" fill="#2c78b6"/>
<circle cx="56.78" cy="463.19" r="1.75" fill="#2c78b6"/>
<circle cx="75.02" cy="449.48" r="1.75" fill="#2c78b6"/>
<circle cx="76.18" cy="447.3" r="1.75" fill="#2c78b6"/>
<circle cx="55.88" cy="451.88" r="1.75" fill="#2c78b6"/>
<circle cx="58.92" cy="457.26" r="1.75" fill="#2c78b6"/>
<circle cx="71.44" cy="443.82" r="1.75" fill="#2c78b6"/>
<circle cx="62.33" cy="457.84" r="1.75" fill="#2c78b6"/>
<circle cx="64.44" cy="443.28" r="1.75" fill="#2c78b6"/>
<circle cx="36.25" cy="476.71" r="1.75" fill="#13a052"/>
<circle cx="36.25" cy="478.46" r="1.75" fill="#13a052"/>
<circle cx="35.33" cy="485.2" r="1.75" fill="#13a052"/>
<circle cx="33.17" cy="479.55" r="1.75" fill="#13a052"/>
<circle cx="34.66" cy="484.74" r="1.75" fill="#13a052"/>
<circle cx="33.41" cy="481.45" r="1.75" fill="#13a052"/>
<circle cx="35.49" cy="476.1" r="1.75" fill="#13a052"/>
<circle cx="33.91" cy="477.15" r="1.75" fill="#13a052"/>
<circle cx="34.95" cy="483.05" r="1.75" fill="#13a052"/>
<circle cx="37.79" cy="479.58" r="1.75" fill="#13a052"/>
<circle cx="32.58" cy="476.19" r="1.75" fill="#13a052"/>
<circle cx="34.88" cy="477.54" r="1.75" fill="#13a052"/>
<circle cx="34.58" cy="485.22" r="1.75" fill="#13a052"/>
<circle cx="33.2" cy="482.26" r="1.75" fill="#13a052"/>
<circle cx="33.79" cy="485.05" r="1.75" fill="#13a052"/>
<circle cx="35.34" cy="488.01" r="1.75" fill="#13a052"/>
<circle cx="37.43" cy="475.96" r="1.75" fill="#13a052"/>
<circle cx="32.82" cy="476.81" r="1.75" fill="#13a052"/>
<circle cx="33.29" cy="479.16" r="1.75" fill="#13a052"/>
<circle cx="36.22" cy="490.11" r="1.75" fill="#13a052"/>
<circle cx="40.18" cy="489.88" r="1.75" fill="#13a052"/>
<circle cx="39.56" cy="492.76" r="1.75" fill="#13a052"/>
<circle cx="40.61" cy="490.99" r="1.75" fill="#13a052"/>
<circle cx="41.61" cy="489.58" r="1.75" fill="#13a052"/>
<circle cx="83.16" cy="436.67" r="1.75" fill="#dcbc3e"/>
<circle cx="77.33" cy="434.97" r="1.75" fill="#dcbc3e"/>
<circle cx="80.6" cy="437.03" r="1.75" fill="#dcbc3e"/>
<circle cx="84.35" cy="430.54" r="1.75" fill="#dcbc3e"/>
<circle cx="84.09" cy="432.8" r="1.75" fill="#dcbc3e"/>
<circle cx="78.63" cy="439.62" r="1.75" fill="#dcbc3e"/>
<circle cx="81.1" cy="436.04" r="1.75" fill="#dcbc3e"/>
<circle cx="80.23" cy="435.58" r="1.75" fill="#dcbc3e"/>
<circle cx="82.66" cy="433.38" r="1.75" fill="#dcbc3e"/>
<circle cx="84.34" cy="434.62" r="1.75" fill="#dcbc3e"/>
<circle cx="83.87" cy="436.2" r="1.75" fill="#dcbc3e"/>
<circle cx="77.37" cy="435.89" r="1.75" fill="#dcbc3e"/>
<circle cx="80.31" cy="436.49" r="1.75" fill="#dcbc3e"/>
<circle cx="78.2" cy="430.32" r="1.75" fill="#dcbc3e"/>
<circle cx="80.95" cy="433.82" r="1.75" fill="#dcbc3e"/>
<circle cx="80.24" cy="435.56" r="1.75" fill="#dcbc3e"/>
<circle cx="71.45" cy="437.22" r="1.75" fill="#dcbc3e"/>
<circle cx="79.79" cy="433.52" r="1.75" fill="#dcbc3e"/>
<circle cx="81.27" cy="436.88" r="1.75" fill="#dcbc3e"/>
<circle cx="76.87" cy="435.93" r="1.75" fill="#dcbc3e"/>
<circle cx="77.57" cy="458.19" r="1.75" fill="#dcbc3e"/>
<circle cx="73.01" cy="460.53" r="1.75" fill="#dcbc3e"/>
<circle cx="76.45" cy="449.24" r="1.75" fill="#dcbc3e"/>
<circle cx="72.83" cy="460.81" r="1.75" fill="#dcbc3e"/>
<circle cx="74.31" cy="453.87" r="1.75" fill="#dcbc3e"/>
<circle cx="70.76" cy="454.84" r="1.75" fill="#dcbc3e"/>
<circle cx="71.76" cy="466.76" r="1.75" fill="#dcbc3e"/>
<circle cx="71.31" cy="455.27" r="1.75" fill="#dcbc3e"/>
<circle cx="76.88" cy="458.97" r="1.75" fill="#dcbc3e"/>
<circle cx="74.55" cy="460.72" r="1.75" fill="#dcbc3e"/>
<circle cx="71.25" cy="459.06" r="1.75" fill="#dcbc3e"/>
<circle cx="74.01" cy="462.46" r="1.75" fill="#dcbc3e"/>
<circle cx="46.34" cy="490.5" r="1.75" fill="#dcbc3e"/>
<circle cx="48.78" cy="491.15" r="1.75" fill="#dcbc3e"/>
<circle cx="45.88" cy="492.03" r="1.75" fill="#dcbc3e"/>
<circle cx="49.95" cy="491.68" r="1.75" fill="#dcbc3e"/>
<circle cx="48.6" cy="490.98" r="1.75" fill="#dcbc3e"/>
<circle cx="43.97" cy="492.45" r="1.75" fill="#dcbc3e"/>
<circle cx="48.43" cy="490.63" r="1.75" fill="#dcbc3e"/>
<circle cx="46.15" cy="491.53" r="1.75" fill="#dcbc3e"/>
<circle cx="47.64" cy="491.57" r="1.75" fill="#dcbc3e"/>
<circle cx="44.76" cy="490.07" r="1.75" fill="#dcbc3e"/>
<circle cx="46.5" cy="468.9" r="1.75" fill="#dcbc3e"/>
<circle cx="48.05" cy="469.45" r="1.75" fill="#dcbc3e"/>
<circle cx="48.05" cy="465.85" r="1.75" fill="#dcbc3e"/>
<circle cx="44.53" cy="471.02" r="1.75" fill="#dcbc3e"/>
<circle cx="45.6" cy="465.39" r="1.75" fill="#dcbc3e"/>
<circle cx="50.22" cy="478.74" r="1.75" fill="#dcbc3e"/>
<circle cx="45.94" cy="469.85" r="1.75" fill="#dcbc3e"/>
<circle cx="47.69" cy="469.77" r="1.75" fill="#dcbc3e"/>
<circle cx="58.4" cy="429.59" r="1.75" fill="#dcbc3e"/>
<circle cx="59.52" cy="431.8" r="1.75" fill="#dcbc3e"/>
<circle cx="60.88" cy="429.36" r="1.75" fill="#dcbc3e"/>
<circle cx="63.45" cy="428.67" r="1.75" fill="#dcbc3e"/>
<circle cx="71.96" cy="429.84" r="1.75" fill="#dcbc3e"/>
<circle cx="68.04" cy="429.35" r="1.75" fill="#dcbc3e"/>
<circle cx="43.72" cy="476.18" r="1.75" fill="#2c78b6"/>
<circle cx="49.35" cy="468.84" r="1.75" fill="#2c78b6"/>
<circle cx="47.19" cy="472.23" r="1.75" fill="#2c78b6"/>
<circle cx="42.36" cy="469.35" r="1.75" fill="#2c78b6"/>
<circle cx="38.86" cy="488.81" r="1.75" fill="#2c78b6"/>
<circle cx="46.8" cy="474.25" r="1.75" fill="#2c78b6"/>
<circle cx="48.43" cy="447.03" r="1.75" fill="#2c78b6"/>
<circle cx="46.61" cy="452.78" r="1.75" fill="#2c78b6"/>
<circle cx="48.93" cy="469.27" r="1.75" fill="#2c78b6"/>
<circle cx="50.1" cy="453.55" r="1.75" fill="#2c78b6"/>
<circle cx="52.76" cy="452.34" r="1.75" fill="#dcbc3e"/>
<circle cx="38.02" cy="480.41" r="1.75" fill="#dcbc3e"/>
<circle cx="50.25" cy="462.97" r="1.75" fill="#dcbc3e"/>
<circle cx="44.99" cy="472.86" r="1.75" fill="#dcbc3e"/>
<circle cx="38.19" cy="472.08" r="1.75" fill="#dcbc3e"/>
<circle cx="47.65" cy="468.5" r="1.75" fill="#dcbc3e"/>
<circle cx="39.12" cy="471.44" r="1.75" fill="#dcbc3e"/>
<circle cx="38.44" cy="485.41" r="1.75" fill="#dcbc3e"/>
<circle cx="39.64" cy="465.74" r="1.75" fill="#dcbc3e"/>
<circle cx="50.06" cy="455.02" r="1.75" fill="#dcbc3e"/>
<circle cx="40.5" cy="478.88" r="1.75" fill="#dcbc3e"/>
<circle cx="40.01" cy="479.23" r="1.75" fill="#dcbc3e"/>
<circle cx="43.59" cy="482.85" r="1.75" fill="#dcbc3e"/>
<circle cx="39.65" cy="478.21" r="1.75" fill="#dcbc3e"/>
<circle cx="36.35" cy="479.65" r="1.75" fill="#f7808a"/>
<circle cx="39.85" cy="466.33" r="1.75" fill="#f7808a"/>
<circle cx="39.56" cy="470.12" r="1.75" fill="#f7808a"/>
<circle cx="39.6" cy="489.42" r="1.75" fill="#f7808a"/>
<circle cx="46.7" cy="451.7" r="1.75" fill="#f7808a"/>
<circle cx="38.85" cy="488.22" r="1.75" fill="#f7808a"/>
<circle cx="45.01" cy="483.24" r="1.75" fill="#f7808a"/>
<circle cx="46.75" cy="454.27" r="1.75" fill="#f7808a"/>
<circle cx="47.42" cy="457.44" r="1.75" fill="#f7808a"/>
<circle cx="49.25" cy="447.53" r="1.75" fill="#f7808a"/>
<circle cx="50.85" cy="452.14" r="1.75" fill="#f7808a"/>
<circle cx="43" cy="473.83" r="1.75" fill="#f7808a"/>
<circle cx="44.44" cy="472.06" r="1.75" fill="#f7808a"/>
<circle cx="50.48" cy="459.65" r="1.75" fill="#f7808a"/>
<circle cx="47.72" cy="472.57" r="1.75" fill="#f7808a"/>
<circle cx="48.01" cy="471.59" r="1.75" fill="#f7808a"/>
<circle cx="50.6" cy="460.6" r="1.75" fill="#f7808a"/>
<circle cx="42.65" cy="472.22" r="1.75" fill="#f7808a"/>
<circle cx="38.12" cy="486.35" r="1.75" fill="#f7808a"/>
<circle cx="37.61" cy="489.35" r="1.75" fill="#f7808a"/>
<circle cx="42.77" cy="464.07" r="1.75" fill="#f7808a"/>
<circle cx="53.02" cy="456.1" r="1.75" fill="#f7808a"/>
<circle cx="38.42" cy="474.98" r="1.75" fill="#f7808a"/>
<circle cx="38.22" cy="483.53" r="1.75" fill="#f7808a"/>
<circle cx="36.39" cy="473.25" r="1.75" fill="#f7808a"/>
<circle cx="49.66" cy="453.44" r="1.75" fill="#f7808a"/>
<circle cx="46.84" cy="460.99" r="1.75" fill="#f7808a"/>
<circle cx="48.4" cy="448.64" r="1.75" fill="#f7808a"/>
<circle cx="47.47" cy="450.31" r="1.75" fill="#f7808a"/>
<circle cx="47.1" cy="462.04" r="1.75" fill="#f7808a"/>
<circle cx="38.89" cy="468.92" r="1.75" fill="#f7808a"/>
<circle cx="42.04" cy="484.61" r="1.75" fill="#f7808a"/>
<circle cx="53.86" cy="452.3" r="1.75" fill="#f7808a"/>
<circle cx="51.38" cy="459.25" r="1.75" fill="#f7808a"/>
<circle cx="48.01" cy="476.13" r="1.75" fill="#f7808a"/>
<circle cx="42.63" cy="469.76" r="1.75" fill="#f7808a"/>
<circle cx="51.51" cy="454.12" r="1.75" fill="#f7808a"/>
<circle cx="47.64" cy="476.91" r="1.75" fill="#f7808a"/>
<circle cx="39.91" cy="472.98" r="1.75" fill="#f7808a"/>
<circle cx="42.2" cy="467.43" r="1.75" fill="#f7808a"/>
<circle cx="43.73" cy="461.86" r="1.75" fill="#f7808a"/>
<circle cx="50.93" cy="451.28" r="1.75" fill="#f7808a"/>
<circle cx="36.39" cy="474.47" r="1.75" fill="#f7808a"/>
<circle cx="44.85" cy="459.99" r="1.75" fill="#f7808a"/>
<circle cx="35.88" cy="485.54" r="1.75" fill="#f7808a"/>
<circle cx="49.63" cy="448.46" r="1.75" fill="#f7808a"/>
<circle cx="47.71" cy="453.82" r="1.75" fill="#f7808a"/>
<circle cx="35.6" cy="488.64" r="1.75" fill="#f7808a"/>
<circle cx="46.97" cy="458.27" r="1.75" fill="#f7808a"/>
<circle cx="37.21" cy="485.48" r="1.75" fill="#f7808a"/>
<circle cx="50.77" cy="453.3" r="1.75" fill="#f7808a"/>
<circle cx="48.36" cy="456.88" r="1.75" fill="#f7808a"/>
<circle cx="41.36" cy="462.1" r="1.75" fill="#f7808a"/>
<circle cx="44.38" cy="463.15" r="1.75" fill="#f7808a"/>
<circle cx="42.29" cy="482.21" r="1.75" fill="#f7808a"/>
<circle cx="42.9" cy="460.98" r="1.75" fill="#f7808a"/>
<circle cx="40.47" cy="475.96" r="1.75" fill="#f7808a"/>
<circle cx="45.18" cy="458.45" r="1.75" fill="#f7808a"/>
<circle cx="45.45" cy="450.31" r="1.75" fill="#f7808a"/>
<circle cx="49.36" cy="473.84" r="1.75" fill="#f7808a"/>
<circle cx="42.36" cy="473.96" r="1.75" fill="#f7808a"/>
<circle cx="37.92" cy="475.81" r="1.75" fill="#f7808a"/>
<circle cx="36.67" cy="480.7" r="1.75" fill="#f7808a"/>
<circle cx="40.83" cy="466.83" r="1.75" fill="#f7808a"/>
<circle cx="52.41" cy="456.3" r="1.75" fill="#f7808a"/>
<circle cx="40.72" cy="461.52" r="1.75" fill="#f7808a"/>
<circle cx="43.17" cy="474.2" r="1.75" fill="#f7808a"/>
<circle cx="40.97" cy="466.49" r="1.75" fill="#f7808a"/>
<circle cx="45.42" cy="471.82" r="1.75" fill="#f7808a"/>
<circle cx="40.92" cy="485.37" r="1.75" fill="#f7808a"/>
<circle cx="50.59" cy="457.54" r="1.75" fill="#f7808a"/>
<circle cx="50.97" cy="448.56" r="1.75" fill="#f7808a"/>
<circle cx="46.59" cy="463.8" r="1.75" fill="#f7808a"/>
<circle cx="46.73" cy="466.76" r="1.75" fill="#f7808a"/>
<circle cx="44.62" cy="483.85" r="1.75" fill="#f7808a"/>
<circle cx="35.1" cy="488.88" r="1.75" fill="#f7808a"/>
<circle cx="35.58" cy="482.85" r="1.75" fill="#f7808a"/>
<circle cx="43.08" cy="466.72" r="1.75" fill="#f7808a"/>
<circle cx="47.52" cy="460.45" r="1.75" fill="#f7808a"/>
<circle cx="43.12" cy="462.12" r="1.75" fill="#f7808a"/>
<circle cx="49.1" cy="468.68" r="1.75" fill="#f7808a"/>
<circle cx="45.5" cy="473.66" r="1.75" fill="#f7808a"/>
<circle cx="40.19" cy="489.31" r="1.75" fill="#f7808a"/>
<circle cx="47.39" cy="458.91" r="1.75" fill="#f7808a"/>
<circle cx="48.35" cy="447.37" r="1.75" fill="#f7808a"/>
<circle cx="38.81" cy="473.01" r="1.75" fill="#f7808a"/>
<circle cx="46.72" cy="473.46" r="1.75" fill="#f7808a"/>
<circle cx="51.57" cy="447.15" r="1.75" fill="#f7808a"/>
<circle cx="45.46" cy="468.96" r="1.75" fill="#f7808a"/>
<circle cx="46.41" cy="464.45" r="1.75" fill="#f7808a"/>
<circle cx="38.41" cy="490.26" r="1.75" fill="#f7808a"/>
<circle cx="35.92" cy="488.57" r="1.75" fill="#f7808a"/>
<circle cx="47.94" cy="449.19" r="1.75" fill="#f7808a"/>
<circle cx="49.71" cy="457.36" r="1.75" fill="#f7808a"/>
<circle cx="42.52" cy="479.9" r="1.75" fill="#f7808a"/>
<circle cx="39.02" cy="490.22" r="1.75" fill="#f7808a"/>
<circle cx="49.62" cy="461.19" r="1.75" fill="#f7808a"/>
<circle cx="50.41" cy="460.51" r="1.75" fill="#f7808a"/>
<circle cx="40.79" cy="475.54" r="1.75" fill="#f7808a"/>
<circle cx="40.14" cy="474.84" r="1.75" fill="#f7808a"/>
<circle cx="49.79" cy="447.71" r="1.75" fill="#f7808a"/>
<circle cx="49.97" cy="462.66" r="1.75" fill="#f7808a"/>
<circle cx="44.3" cy="477.91" r="1.75" fill="#f7808a"/>
<circle cx="49.51" cy="453.59" r="1.75" fill="#f7808a"/>
<circle cx="48.91" cy="451.71" r="1.75" fill="#f7808a"/>
<circle cx="46.2" cy="477.93" r="1.75" fill="#f7808a"/>
<circle cx="43.53" cy="466.47" r="1.75" fill="#f7808a"/>
<circle cx="36.14" cy="474.99" r="1.75" fill="#f7808a"/>
<circle cx="45.05" cy="463.82" r="1.75" fill="#f7808a"/>
<circle cx="49.92" cy="468.08" r="1.75" fill="#f7808a"/>
<circle cx="37.12" cy="476.02" r="1.75" fill="#f7808a"/>
<circle cx="52.34" cy="455.71" r="1.75" fill="#f7808a"/>
<circle cx="43.26" cy="460.53" r="1.75" fill="#f7808a"/>
<circle cx="42.29" cy="477.16" r="1.75" fill="#f7808a"/>
<circle cx="43.37" cy="465.43" r="1.75" fill="#f7808a"/>
<circle cx="48.42" cy="462.5" r="1.75" fill="#d8448f"/>
<circle cx="45.18" cy="449.76" r="1.75" fill="#d8448f"/>
<circle cx="43.8" cy="465" r="1.75" fill="#d8448f"/>
<circle cx="41.35" cy="469.4" r="1.75" fill="#d8448f"/>
<circle cx="39.56" cy="475.66" r="1.75" fill="#d8448f"/>
<circle cx="47.52" cy="458.07" r="1.75" fill="#d8448f"/>
<circle cx="44.91" cy="478.89" r="1.75" fill="#d8448f"/>
<circle cx="49.69" cy="451.77" r="1.75" fill="#d8448f"/>
<circle cx="47.03" cy="456.78" r="1.75" fill="#d8448f"/>
<circle cx="46.75" cy="474.95" r="1.75" fill="#d8448f"/>
<circle cx="38.01" cy="484.67" r="1.75" fill="#d8448f"/>
<circle cx="40.94" cy="477.43" r="1.75" fill="#d8448f"/>
<circle cx="40.39" cy="486.56" r="1.75" fill="#d8448f"/>
<circle cx="43.53" cy="481.07" r="1.75" fill="#d8448f"/>
<circle cx="35.52" cy="479.38" r="1.75" fill="#d8448f"/>
<circle cx="48.65" cy="463.37" r="1.75" fill="#d8448f"/>
<circle cx="47.61" cy="450.83" r="1.75" fill="#d8448f"/>
<circle cx="48.01" cy="460.21" r="1.75" fill="#d8448f"/>
<circle cx="52.06" cy="460.74" r="1.75" fill="#d8448f"/>
<circle cx="38.6" cy="485.84" r="1.75" fill="#d8448f"/>
<circle cx="43.46" cy="479.26" r="1.75" fill="#d8448f"/>
<circle cx="48.64" cy="448.46" r="1.75" fill="#d8448f"/>
<circle cx="84.68" cy="437.11" r="1.75" fill="#f7808a"/>
<circle cx="83.99" cy="443.34" r="1.75" fill="#f7808a"/>
<circle cx="87.02" cy="444.78" r="1.75" fill="#f7808a"/>
<circle cx="91.88" cy="440.14" r="1.75" fill="#f7808a"/>
<circle cx="79.01" cy="441.76" r="1.75" fill="#f7808a"/>
<circle cx="90.07" cy="447.09" r="1.75" fill="#f7808a"/>
<circle cx="84.24" cy="440.59" r="1.75" fill="#f7808a"/>
<circle cx="88.54" cy="448.61" r="1.75" fill="#f7808a"/>
<circle cx="86.74" cy="439.24" r="1.75" fill="#f7808a"/>
<circle cx="85.7" cy="434.96" r="1.75" fill="#f7808a"/>
<circle cx="86.89" cy="441.89" r="1.75" fill="#f7808a"/>
<circle cx="80.28" cy="434.86" r="1.75" fill="#f7808a"/>
<circle cx="82.05" cy="440.38" r="1.75" fill="#f7808a"/>
<circle cx="83.83" cy="440.99" r="1.75" fill="#f7808a"/>
<circle cx="85.45" cy="444.76" r="1.75" fill="#f7808a"/>
<circle cx="81.09" cy="435.68" r="1.75" fill="#f7808a"/>
<circle cx="73.47" cy="437.89" r="1.75" fill="#f7808a"/>
<circle cx="86.32" cy="436.76" r="1.75" fill="#f7808a"/>
<circle cx="90.04" cy="443.72" r="1.75" fill="#f7808a"/>
<circle cx="80.46" cy="444.79" r="1.75" fill="#f7808a"/>
<circle cx="84.44" cy="437.23" r="1.75" fill="#f7808a"/>
<circle cx="85.88" cy="440.51" r="1.75" fill="#f7808a"/>
<circle cx="89.06" cy="443.92" r="1.75" fill="#f7808a"/>
<circle cx="82.25" cy="445.73" r="1.75" fill="#f7808a"/>
<circle cx="86.97" cy="438.97" r="1.75" fill="#f7808a"/>
<circle cx="76.95" cy="435.37" r="1.75" fill="#f7808a"/>
<circle cx="96.38" cy="443.36" r="1.75" fill="#f7808a"/>
<circle cx="88.56" cy="442.17" r="1.75" fill="#f7808a"/>
<circle cx="88.93" cy="433.29" r="1.75" fill="#f7808a"/>
<circle cx="90.61" cy="438.14" r="1.75" fill="#f7808a"/>
<circle cx="86.38" cy="435.8" r="1.75" fill="#f7808a"/>
<circle cx="83.24" cy="448.23" r="1.75" fill="#f7808a"/>
<circle cx="87.88" cy="436.45" r="1.75" fill="#f7808a"/>
<circle cx="87.75" cy="447.25" r="1.75" fill="#f7808a"/>
<circle cx="73.78" cy="434.28" r="1.75" fill="#f7808a"/>
<circle cx="84.84" cy="446.81" r="1.75" fill="#f7808a"/>
<circle cx="85.29" cy="445.47" r="1.75" fill="#f7808a"/>
<circle cx="85.07" cy="443.89" r="1.75" fill="#f7808a"/>
<circle cx="82.87" cy="446.87" r="1.75" fill="#f7808a"/>
<circle cx="90.13" cy="441.74" r="1.75" fill="#f7808a"/>
<circle cx="77.74" cy="440.27" r="1.75" fill="#f7808a"/>
<circle cx="85.57" cy="444.64" r="1.75" fill="#f7808a"/>
<circle cx="82.63" cy="443.96" r="1.75" fill="#f7808a"/>
<circle cx="79.27" cy="440.58" r="1.75" fill="#f7808a"/>
<circle cx="91.39" cy="436.8" r="1.75" fill="#f7808a"/>
<circle cx="86.33" cy="438.35" r="1.75" fill="#f7808a"/>
<circle cx="83.31" cy="440" r="1.75" fill="#f7808a"/>
<circle cx="81.44" cy="442.48" r="1.75" fill="#f7808a"/>
<circle cx="88.83" cy="442.81" r="1.75" fill="#f7808a"/>
<circle cx="81.7" cy="436.79" r="1.75" fill="#f7808a"/>
<circle cx="56.84" cy="487.99" r="1.75" fill="#f7808a"/>
<circle cx="59.26" cy="486.94" r="1.75" fill="#f7808a"/>
<circle cx="55.45" cy="488.28" r="1.75" fill="#f7808a"/>
<circle cx="58.49" cy="487.92" r="1.75" fill="#f7808a"/>
<circle cx="54.05" cy="486.76" r="1.75" fill="#f7808a"/>
<circle cx="58.21" cy="486.24" r="1.75" fill="#f7808a"/>
<circle cx="54.77" cy="487.68" r="1.75" fill="#f7808a"/>
<circle cx="55.41" cy="490.22" r="1.75" fill="#f7808a"/>
<circle cx="61.55" cy="486.04" r="1.75" fill="#f7808a"/>
<circle cx="54.73" cy="487.83" r="1.75" fill="#f7808a"/>
<circle cx="60.66" cy="423.05" r="1.75" fill="#f7808a"/>
<circle cx="66.03" cy="424.29" r="1.75" fill="#f7808a"/>
<circle cx="81.92" cy="420.34" r="1.75" fill="#f7808a"/>
<circle cx="42.08" cy="445.61" r="1.75" fill="#f7808a"/>
<circle cx="47.98" cy="444.48" r="1.75" fill="#f7808a"/>
<circle cx="40.04" cy="435.46" r="1.75" fill="#f7808a"/>
<circle cx="59.34" cy="449.18" r="1.75" fill="#d8448f"/>
<circle cx="57.04" cy="463.26" r="1.75" fill="#d8448f"/>
<circle cx="74.19" cy="443.2" r="1.75" fill="#d8448f"/>
<circle cx="54.41" cy="461.91" r="1.75" fill="#d8448f"/>
<circle cx="62.68" cy="437.93" r="1.75" fill="#d8448f"/>
<circle cx="64.17" cy="447.06" r="1.75" fill="#d8448f"/>
<circle cx="64.47" cy="435.28" r="1.75" fill="#d8448f"/>
<circle cx="55.71" cy="445.63" r="1.75" fill="#d8448f"/>
<circle cx="59.99" cy="442.37" r="1.75" fill="#d8448f"/>
<circle cx="64.83" cy="455.87" r="1.75" fill="#d8448f"/>
<circle cx="63.96" cy="451.51" r="1.75" fill="#d8448f"/>
<circle cx="56.15" cy="453.72" r="1.75" fill="#d8448f"/>
<circle cx="53.78" cy="449.53" r="1.75" fill="#d8448f"/>
<circle cx="57.05" cy="451.85" r="1.75" fill="#d8448f"/>
<circle cx="54.68" cy="462.72" r="1.75" fill="#d8448f"/>
<circle cx="69.25" cy="454.37" r="1.75" fill="#d8448f"/>
<circle cx="72.53" cy="447.16" r="1.75" fill="#d8448f"/>
<circle cx="60.57" cy="457.4" r="1.75" fill="#d8448f"/>
<circle cx="52.65" cy="456.13" r="1.75" fill="#d8448f"/>
<circle cx="60.93" cy="449.21" r="1.75" fill="#d8448f"/>
<circle cx="56.78" cy="449.26" r="1.75" fill="#d8448f"/>
<circle cx="54.44" cy="459.41" r="1.75" fill="#d8448f"/>
<circle cx="66.39" cy="452.18" r="1.75" fill="#d8448f"/>
<circle cx="66.93" cy="452.43" r="1.75" fill="#d8448f"/>
<circle cx="54.18" cy="464.35" r="1.75" fill="#d8448f"/>
<circle cx="73.72" cy="449.84" r="1.75" fill="#d8448f"/>
<circle cx="64.92" cy="447.52" r="1.75" fill="#d8448f"/>
<circle cx="61.5" cy="460.94" r="1.75" fill="#d8448f"/>
<circle cx="69.66" cy="442.6" r="1.75" fill="#d8448f"/>
<circle cx="69.38" cy="436.5" r="1.75" fill="#d8448f"/>
<circle cx="59.68" cy="441.89" r="1.75" fill="#d8448f"/>
<circle cx="66.72" cy="446.35" r="1.75" fill="#d8448f"/>
<circle cx="65.51" cy="438.01" r="1.75" fill="#d8448f"/>
<circle cx="72.4" cy="451.67" r="1.75" fill="#d8448f"/>
<circle cx="70.26" cy="452.22" r="1.75" fill="#d8448f"/>
<circle cx="67.47" cy="432.31" r="1.75" fill="#d8448f"/>
<circle cx="72.29" cy="447.34" r="1.75" fill="#d8448f"/>
<circle cx="53.48" cy="449.94" r="1.75" fill="#d8448f"/>
<circle cx="75.74" cy="444.7" r="1.75" fill="#d8448f"/>
<circle cx="69.54" cy="432.53" r="1.75" fill="#d8448f"/>
<circle cx="54.53" cy="449.93" r="1.75" fill="#d8448f"/>
<circle cx="58.75" cy="446.66" r="1.75" fill="#d8448f"/>
<circle cx="63.55" cy="440.73" r="1.75" fill="#d8448f"/>
<circle cx="71.67" cy="442.4" r="1.75" fill="#d8448f"/>
<circle cx="55.17" cy="440.22" r="1.75" fill="#d8448f"/>
<circle cx="59.23" cy="447.05" r="1.75" fill="#d8448f"/>
<circle cx="64.85" cy="443.26" r="1.75" fill="#d8448f"/>
<circle cx="75.58" cy="435" r="1.75" fill="#d8448f"/>
<circle cx="70.01" cy="445" r="1.75" fill="#d8448f"/>
<circle cx="61.86" cy="455.34" r="1.75" fill="#d8448f"/>
<circle cx="67.64" cy="433.51" r="1.75" fill="#d8448f"/>
<circle cx="74.07" cy="445.31" r="1.75" fill="#d8448f"/>
<circle cx="59.87" cy="433.81" r="1.75" fill="#d8448f"/>
<circle cx="71.14" cy="450.02" r="1.75" fill="#d8448f"/>
<circle cx="55.7" cy="438.78" r="1.75" fill="#d8448f"/>
<circle cx="64.27" cy="439.59" r="1.75" fill="#d8448f"/>
<circle cx="63.61" cy="456.71" r="1.75" fill="#d8448f"/>
<circle cx="58.87" cy="444.87" r="1.75" fill="#d8448f"/>
<circle cx="69.03" cy="438.78" r="1.75" fill="#d8448f"/>
<circle cx="67.64" cy="436.49" r="1.75" fill="#d8448f"/>
<circle cx="55.34" cy="437.74" r="1.75" fill="#d8448f"/>
<circle cx="67.22" cy="432.88" r="1.75" fill="#d8448f"/>
<circle cx="57.95" cy="452.81" r="1.75" fill="#d8448f"/>
<circle cx="61.51" cy="439.81" r="1.75" fill="#d8448f"/>
<circle cx="57.62" cy="450.65" r="1.75" fill="#d8448f"/>
<circle cx="58.55" cy="460.59" r="1.75" fill="#d8448f"/>
<circle cx="76.42" cy="440.09" r="1.75" fill="#d8448f"/>
<circle cx="66.21" cy="439.62" r="1.75" fill="#d8448f"/>
<circle cx="64.9" cy="447.83" r="1.75" fill="#d8448f"/>
<circle cx="65.99" cy="449.51" r="1.75" fill="#d8448f"/>
<circle cx="61.66" cy="439.26" r="1.75" fill="#d8448f"/>
<circle cx="70.98" cy="432.68" r="1.75" fill="#d8448f"/>
<circle cx="59.68" cy="463.97" r="1.75" fill="#d8448f"/>
<circle cx="62.04" cy="441.95" r="1.75" fill="#d8448f"/>
<circle cx="76.57" cy="446.07" r="1.75" fill="#d8448f"/>
<circle cx="66.01" cy="447.77" r="1.75" fill="#d8448f"/>
<circle cx="62.11" cy="448.28" r="1.75" fill="#d8448f"/>
<circle cx="58.31" cy="437.72" r="1.75" fill="#d8448f"/>
<circle cx="60" cy="448.79" r="1.75" fill="#d8448f"/>
<circle cx="56.73" cy="458.72" r="1.75" fill="#d8448f"/>
<circle cx="59.14" cy="446.36" r="1.75" fill="#d8448f"/>
<circle cx="61.03" cy="439.53" r="1.75" fill="#d8448f"/>
<circle cx="58.89" cy="445.37" r="1.75" fill="#d8448f"/>
<circle cx="53.78" cy="458.99" r="1.75" fill="#d8448f"/>
<circle cx="75.05" cy="446.78" r="1.75" fill="#d8448f"/>
<circle cx="53.87" cy="450.79" r="1.75" fill="#d8448f"/>
<circle cx="67.45" cy="445.32" r="1.75" fill="#d8448f"/>
<circle cx="52.16" cy="453.41" r="1.75" fill="#d8448f"/>
<circle cx="70.53" cy="449.44" r="1.75" fill="#d8448f"/>
<circle cx="74.36" cy="435.64" r="1.75" fill="#d8448f"/>
<circle cx="74.84" cy="444.26" r="1.75" fill="#d8448f"/>
<circle cx="76.46" cy="442.01" r="1.75" fill="#d8448f"/>
<circle cx="53.67" cy="455.13" r="1.75" fill="#d8448f"/>
<circle cx="57.59" cy="462.88" r="1.75" fill="#d8448f"/>
<circle cx="56.21" cy="437.16" r="1.75" fill="#d8448f"/>
<circle cx="61.36" cy="457.96" r="1.75" fill="#d8448f"/>
<circle cx="52.83" cy="447.21" r="1.75" fill="#d8448f"/>
<circle cx="58.27" cy="448.54" r="1.75" fill="#d8448f"/>
<circle cx="71.46" cy="440.14" r="1.75" fill="#d8448f"/>
<circle cx="56.65" cy="440.6" r="1.75" fill="#d8448f"/>
<circle cx="67.36" cy="450.98" r="1.75" fill="#d8448f"/>
<circle cx="69.08" cy="449.99" r="1.75" fill="#d8448f"/>
<circle cx="61.39" cy="452.72" r="1.75" fill="#d8448f"/>
<circle cx="61.48" cy="453.07" r="1.75" fill="#d8448f"/>
<circle cx="63.29" cy="438.59" r="1.75" fill="#d8448f"/>
<circle cx="64.02" cy="435.03" r="1.75" fill="#d8448f"/>
<circle cx="68.15" cy="453.29" r="1.75" fill="#d8448f"/>
<circle cx="71.72" cy="439.58" r="1.75" fill="#d8448f"/>
<circle cx="60.04" cy="458" r="1.75" fill="#d8448f"/>
<circle cx="54.37" cy="453.53" r="1.75" fill="#d8448f"/>
<circle cx="60.3" cy="441.01" r="1.75" fill="#d8448f"/>
<circle cx="56.14" cy="450.64" r="1.75" fill="#d8448f"/>
<circle cx="55.3" cy="451.76" r="1.75" fill="#d8448f"/>
<circle cx="57.96" cy="465.06" r="1.75" fill="#d8448f"/>
<circle cx="66.84" cy="455.88" r="1.75" fill="#d8448f"/>
<circle cx="54.2" cy="450.48" r="1.75" fill="#d8448f"/>
<circle cx="65.27" cy="444.56" r="1.75" fill="#d8448f"/>
<circle cx="72.78" cy="434.61" r="1.75" fill="#d8448f"/>
<circle cx="66.54" cy="437.65" r="1.75" fill="#d8448f"/>
<circle cx="54.47" cy="440.37" r="1.75" fill="#d8448f"/>
<circle cx="58.37" cy="457.84" r="1.75" fill="#d8448f"/>
<circle cx="57.73" cy="452.71" r="1.75" fill="#d8448f"/>
<circle cx="62.59" cy="460.43" r="1.75" fill="#d8448f"/>
<circle cx="74" cy="432.8" r="1.75" fill="#d8448f"/>
<circle cx="55.16" cy="444.26" r="1.75" fill="#d8448f"/>
<circle cx="63.31" cy="448.73" r="1.75" fill="#d8448f"/>
<circle cx="65.19" cy="450.92" r="1.75" fill="#d8448f"/>
<circle cx="72.83" cy="433.98" r="1.75" fill="#d8448f"/>
<circle cx="59.05" cy="453.73" r="1.75" fill="#d8448f"/>
<circle cx="52.32" cy="452.08" r="1.75" fill="#d8448f"/>
<circle cx="58.79" cy="459.8" r="1.75" fill="#d8448f"/>
<circle cx="74.3" cy="448.26" r="1.75" fill="#d8448f"/>
<circle cx="57.52" cy="459.97" r="1.75" fill="#d8448f"/>
<circle cx="67.66" cy="437.86" r="1.75" fill="#d8448f"/>
<circle cx="75.56" cy="441.18" r="1.75" fill="#d8448f"/>
<circle cx="54.96" cy="443.25" r="1.75" fill="#d8448f"/>
<circle cx="70.16" cy="448.33" r="1.75" fill="#d8448f"/>
<circle cx="74.24" cy="434.91" r="1.75" fill="#d8448f"/>
<circle cx="65.41" cy="454.15" r="1.75" fill="#d8448f"/>
<circle cx="58.92" cy="444.29" r="1.75" fill="#d8448f"/>
<circle cx="62.42" cy="440.1" r="1.75" fill="#d8448f"/>
<circle cx="54.86" cy="443.4" r="1.75" fill="#d8448f"/>
<circle cx="58.01" cy="446.86" r="1.75" fill="#d8448f"/>
<circle cx="70.44" cy="446.46" r="1.75" fill="#d8448f"/>
<circle cx="53.16" cy="453.84" r="1.75" fill="#d8448f"/>
<circle cx="57.91" cy="437.83" r="1.75" fill="#d8448f"/>
<circle cx="76.2" cy="439.55" r="1.75" fill="#d8448f"/>
<circle cx="74.98" cy="446.41" r="1.75" fill="#d8448f"/>
<circle cx="54.16" cy="441.18" r="1.75" fill="#d8448f"/>
<circle cx="57.88" cy="462.92" r="1.75" fill="#d8448f"/>
<circle cx="59.75" cy="447.12" r="1.75" fill="#d8448f"/>
<circle cx="76.57" cy="440.92" r="1.75" fill="#d8448f"/>
<circle cx="58.37" cy="437.58" r="1.75" fill="#d8448f"/>
<circle cx="68.65" cy="450.22" r="1.75" fill="#d8448f"/>
<circle cx="57.73" cy="450.88" r="1.75" fill="#d8448f"/>
<circle cx="60.81" cy="462.74" r="1.75" fill="#d8448f"/>
<circle cx="56.11" cy="456.68" r="1.75" fill="#d8448f"/>
<circle cx="63.94" cy="446.09" r="1.75" fill="#d8448f"/>
<circle cx="66.04" cy="458.22" r="1.75" fill="#d8448f"/>
<circle cx="57.42" cy="443.28" r="1.75" fill="#d8448f"/>
<circle cx="63.86" cy="452.49" r="1.75" fill="#d8448f"/>
<circle cx="68.6" cy="442.44" r="1.75" fill="#d8448f"/>
<circle cx="67.56" cy="445.52" r="1.75" fill="#d8448f"/>
<circle cx="52.63" cy="453.62" r="1.75" fill="#d8448f"/>
<circle cx="62.18" cy="437.54" r="1.75" fill="#d8448f"/>
<circle cx="47.73" cy="463.12" r="1.75" fill="#d8448f"/>
<circle cx="40.42" cy="459.82" r="1.75" fill="#d8448f"/>
<circle cx="47.66" cy="450.51" r="1.75" fill="#d8448f"/>
<circle cx="46.41" cy="456.13" r="1.75" fill="#d8448f"/>
<circle cx="52" cy="449.21" r="1.75" fill="#d8448f"/>
<circle cx="45.12" cy="447.37" r="1.75" fill="#d8448f"/>
<circle cx="48.8" cy="455.22" r="1.75" fill="#d8448f"/>
<circle cx="50.67" cy="452.8" r="1.75" fill="#d8448f"/>
<circle cx="48.09" cy="451.94" r="1.75" fill="#d8448f"/>
<circle cx="47.94" cy="457.45" r="1.75" fill="#d8448f"/>
<circle cx="46.21" cy="452.47" r="1.75" fill="#d8448f"/>
<circle cx="52.6" cy="454.71" r="1.75" fill="#d8448f"/>
<circle cx="57.69" cy="450.98" r="1.75" fill="#d8448f"/>
<circle cx="49.97" cy="454.85" r="1.75" fill="#d8448f"/>
<circle cx="52.04" cy="459.33" r="1.75" fill="#d8448f"/>
<circle cx="64.21" cy="472.8" r="1.75" fill="#bdbdbd"/>
<circle cx="47.39" cy="489.6" r="1.75" fill="#bdbdbd"/>
<circle cx="45.66" cy="489" r="1.75" fill="#bdbdbd"/>
<circle cx="52.41" cy="476.02" r="1.75" fill="#bdbdbd"/>
<circle cx="63.41" cy="464.4" r="1.75" fill="#bdbdbd"/>
<circle cx="55.8" cy="482.85" r="1.75" fill="#bdbdbd"/>
<circle cx="59.72" cy="469.44" r="1.75" fill="#bdbdbd"/>
<circle cx="48.63" cy="477.67" r="1.75" fill="#bdbdbd"/>
<circle cx="58.7" cy="484.36" r="1.75" fill="#bdbdbd"/>
<circle cx="51.09" cy="474.95" r="1.75" fill="#bdbdbd"/>
<circle cx="49.04" cy="476.99" r="1.75" fill="#bdbdbd"/>
<circle cx="49.78" cy="485.3" r="1.75" fill="#bdbdbd"/>
<circle cx="49.54" cy="481.37" r="1.75" fill="#bdbdbd"/>
<circle cx="46.88" cy="489.1" r="1.75" fill="#bdbdbd"/>
<circle cx="56.51" cy="480.72" r="1.75" fill="#bdbdbd"/>
<circle cx="57.79" cy="475.86" r="1.75" fill="#bdbdbd"/>
<circle cx="62.15" cy="480.55" r="1.75" fill="#bdbdbd"/>
<circle cx="60.38" cy="475.75" r="1.75" fill="#bdbdbd"/>
<circle cx="65.98" cy="471.24" r="1.75" fill="#bdbdbd"/>
<circle cx="64.61" cy="478.74" r="1.75" fill="#bdbdbd"/>
<circle cx="58.05" cy="486.7" r="1.75" fill="#bdbdbd"/>
<circle cx="57.15" cy="470.5" r="1.75" fill="#bdbdbd"/>
<circle cx="51.74" cy="487.76" r="1.75" fill="#bdbdbd"/>
<circle cx="51.68" cy="474.91" r="1.75" fill="#bdbdbd"/>
<circle cx="62.54" cy="482.7" r="1.75" fill="#bdbdbd"/>
<circle cx="56.89" cy="487.54" r="1.75" fill="#bdbdbd"/>
<circle cx="62.58" cy="470.81" r="1.75" fill="#bdbdbd"/>
<circle cx="48.66" cy="480.59" r="1.75" fill="#bdbdbd"/>
<circle cx="50.26" cy="475.6" r="1.75" fill="#bdbdbd"/>
<circle cx="56.25" cy="472.09" r="1.75" fill="#bdbdbd"/>
<circle cx="61.37" cy="478.2" r="1.75" fill="#bdbdbd"/>
<circle cx="50.85" cy="484.06" r="1.75" fill="#bdbdbd"/>
<circle cx="61.84" cy="481.24" r="1.75" fill="#bdbdbd"/>
<circle cx="65.48" cy="473.24" r="1.75" fill="#bdbdbd"/>
<circle cx="47.53" cy="481.36" r="1.75" fill="#bdbdbd"/>
<circle cx="59.5" cy="478.36" r="1.75" fill="#bdbdbd"/>
<circle cx="53.01" cy="489.56" r="1.75" fill="#bdbdbd"/>
<circle cx="58.24" cy="477.7" r="1.75" fill="#bdbdbd"/>
<circle cx="47.2" cy="478.95" r="1.75" fill="#bdbdbd"/>
<circle cx="53.91" cy="472.08" r="1.75" fill="#bdbdbd"/>
<circle cx="63.75" cy="473.84" r="1.75" fill="#bdbdbd"/>
<circle cx="58.62" cy="469.26" r="1.75" fill="#bdbdbd"/>
<circle cx="50.6" cy="488.57" r="1.75" fill="#bdbdbd"/>
<circle cx="49.21" cy="485.68" r="1.75" fill="#bdbdbd"/>
<circle cx="57.74" cy="482.25" r="1.75" fill="#bdbdbd"/>
<circle cx="57.13" cy="475.66" r="1.75" fill="#bdbdbd"/>
<circle cx="63.6" cy="478.87" r="1.75" fill="#bdbdbd"/>
<circle cx="57.13" cy="469.94" r="1.75" fill="#bdbdbd"/>
<circle cx="51.36" cy="487.9" r="1.75" fill="#bdbdbd"/>
<circle cx="63.66" cy="475.94" r="1.75" fill="#bdbdbd"/>
<circle cx="45.09" cy="485.02" r="1.75" fill="#bdbdbd"/>
<circle cx="56.4" cy="486.55" r="1.75" fill="#bdbdbd"/>
<circle cx="54.35" cy="476.08" r="1.75" fill="#bdbdbd"/>
<circle cx="64.95" cy="476.63" r="1.75" fill="#bdbdbd"/>
<circle cx="53.09" cy="478.35" r="1.75" fill="#bdbdbd"/>
<circle cx="61.31" cy="472.03" r="1.75" fill="#bdbdbd"/>
<circle cx="58.45" cy="474.08" r="1.75" fill="#bdbdbd"/>
<circle cx="45.1" cy="483.88" r="1.75" fill="#bdbdbd"/>
<circle cx="48.34" cy="489.79" r="1.75" fill="#bdbdbd"/>
<circle cx="42.02" cy="484.4" r="1.75" fill="#bdbdbd"/>
<circle cx="47.43" cy="484.32" r="1.75" fill="#bdbdbd"/>
<circle cx="45.83" cy="490.55" r="1.75" fill="#bdbdbd"/>
<circle cx="62.96" cy="477.63" r="1.75" fill="#bdbdbd"/>
<circle cx="51.87" cy="483.48" r="1.75" fill="#bdbdbd"/>
<circle cx="58.21" cy="473.91" r="1.75" fill="#bdbdbd"/>
<circle cx="51.75" cy="479.27" r="1.75" fill="#bdbdbd"/>
<circle cx="45.74" cy="479.83" r="1.75" fill="#bdbdbd"/>
<circle cx="51.32" cy="480.29" r="1.75" fill="#bdbdbd"/>
<circle cx="64.09" cy="474.8" r="1.75" fill="#bdbdbd"/>
<circle cx="51.11" cy="477.3" r="1.75" fill="#bdbdbd"/>
<circle cx="50.05" cy="478.2" r="1.75" fill="#bdbdbd"/>
<circle cx="48.44" cy="490" r="1.75" fill="#bdbdbd"/>
<circle cx="61.42" cy="483.78" r="1.75" fill="#bdbdbd"/>
<circle cx="44.75" cy="485.09" r="1.75" fill="#bdbdbd"/>
<circle cx="55.25" cy="477.3" r="1.75" fill="#bdbdbd"/>
<circle cx="61.18" cy="483.82" r="1.75" fill="#bdbdbd"/>
<circle cx="50.63" cy="484.51" r="1.75" fill="#bdbdbd"/>
<circle cx="55.89" cy="482.18" r="1.75" fill="#bdbdbd"/>
<circle cx="53.3" cy="484.85" r="1.75" fill="#bdbdbd"/>
<circle cx="62.74" cy="471.31" r="1.75" fill="#bdbdbd"/>
<circle cx="56.26" cy="478.07" r="1.75" fill="#bdbdbd"/>
<circle cx="51.52" cy="476.06" r="1.75" fill="#bdbdbd"/>
<circle cx="62.58" cy="469.56" r="1.75" fill="#bdbdbd"/>
<circle cx="59.28" cy="486.56" r="1.75" fill="#bdbdbd"/>
<circle cx="58.7" cy="468.41" r="1.75" fill="#bdbdbd"/>
<circle cx="47.26" cy="485.32" r="1.75" fill="#bdbdbd"/>
<circle cx="64.11" cy="467.57" r="1.75" fill="#bdbdbd"/>
<circle cx="60.28" cy="485.19" r="1.75" fill="#bdbdbd"/>
<circle cx="51.4" cy="480.49" r="1.75" fill="#bdbdbd"/>
<circle cx="62.4" cy="477.37" r="1.75" fill="#bdbdbd"/>
<circle cx="57.05" cy="472.65" r="1.75" fill="#bdbdbd"/>
<circle cx="62.86" cy="463.79" r="1.75" fill="#bdbdbd"/>
<circle cx="45.9" cy="480.19" r="1.75" fill="#bdbdbd"/>
<circle cx="61.29" cy="470.86" r="1.75" fill="#bdbdbd"/>
<circle cx="58.92" cy="477.43" r="1.75" fill="#bdbdbd"/>
<circle cx="48.74" cy="482.94" r="1.75" fill="#bdbdbd"/>
<circle cx="56.58" cy="484.43" r="1.75" fill="#bdbdbd"/>
<circle cx="58.27" cy="479.09" r="1.75" fill="#bdbdbd"/>
<circle cx="56.57" cy="478.34" r="1.75" fill="#bdbdbd"/>
<circle cx="59.78" cy="474.84" r="1.75" fill="#bdbdbd"/>
<circle cx="55.49" cy="484.18" r="1.75" fill="#bdbdbd"/>
<circle cx="53.84" cy="475.75" r="1.75" fill="#bdbdbd"/>
<circle cx="64.41" cy="471.46" r="1.75" fill="#bdbdbd"/>
<circle cx="63.16" cy="473.9" r="1.75" fill="#bdbdbd"/>
<circle cx="52.47" cy="480.94" r="1.75" fill="#bdbdbd"/>
<circle cx="62.26" cy="472.73" r="1.75" fill="#bdbdbd"/>
<circle cx="62.45" cy="468.35" r="1.75" fill="#bdbdbd"/>
<circle cx="53.63" cy="485.29" r="1.75" fill="#bdbdbd"/>
<circle cx="65.06" cy="467" r="1.75" fill="#bdbdbd"/>
<circle cx="55.35" cy="485.71" r="1.75" fill="#bdbdbd"/>
<circle cx="47.37" cy="483.25" r="1.75" fill="#bdbdbd"/>
<circle cx="50.12" cy="488.07" r="1.75" fill="#bdbdbd"/>
<circle cx="57.26" cy="486.79" r="1.75" fill="#bdbdbd"/>
<circle cx="58.49" cy="476.74" r="1.75" fill="#bdbdbd"/>
<circle cx="58.78" cy="486.89" r="1.75" fill="#bdbdbd"/>
<circle cx="59.02" cy="473.83" r="1.75" fill="#bdbdbd"/>
<circle cx="64.79" cy="471.26" r="1.75" fill="#bdbdbd"/>
<circle cx="62.28" cy="479.05" r="1.75" fill="#bdbdbd"/>
<circle cx="49.05" cy="487.55" r="1.75" fill="#bdbdbd"/>
<circle cx="55.6" cy="482.4" r="1.75" fill="#bdbdbd"/>
<circle cx="60.9" cy="481.48" r="1.75" fill="#bdbdbd"/>
<circle cx="50.42" cy="488.12" r="1.75" fill="#bdbdbd"/>
<circle cx="59.59" cy="470.62" r="1.75" fill="#bdbdbd"/>
<circle cx="51.3" cy="486.56" r="1.75" fill="#bdbdbd"/>
<circle cx="59.3" cy="481.81" r="1.75" fill="#bdbdbd"/>
<circle cx="56.78" cy="479.82" r="1.75" fill="#bdbdbd"/>
<circle cx="57.53" cy="480.48" r="1.75" fill="#bdbdbd"/>
<circle cx="47.23" cy="486.81" r="1.75" fill="#bdbdbd"/>
<circle cx="64.26" cy="466.63" r="1.75" fill="#bdbdbd"/>
<circle cx="47.8" cy="489.07" r="1.75" fill="#bdbdbd"/>
<circle cx="51.5" cy="489.28" r="1.75" fill="#bdbdbd"/>
<circle cx="46.89" cy="478.57" r="1.75" fill="#bdbdbd"/>
<circle cx="56.43" cy="472.71" r="1.75" fill="#bdbdbd"/>
<circle cx="45.04" cy="484.19" r="1.75" fill="#bdbdbd"/>
<circle cx="62.55" cy="476.94" r="1.75" fill="#bdbdbd"/>
<circle cx="46.93" cy="480.02" r="1.75" fill="#bdbdbd"/>
<circle cx="62.13" cy="476.03" r="1.75" fill="#bdbdbd"/>
<circle cx="45.08" cy="488.66" r="1.75" fill="#bdbdbd"/>
<circle cx="50.9" cy="490.61" r="1.75" fill="#bdbdbd"/>
<circle cx="61.4" cy="471.31" r="1.75" fill="#bdbdbd"/>
<circle cx="44.38" cy="477.39" r="1.75" fill="#f7808a"/>
<circle cx="43.93" cy="477.52" r="1.75" fill="#f7808a"/>
<circle cx="41.84" cy="479.48" r="1.75" fill="#f7808a"/>
<circle cx="45.45" cy="478.46" r="1.75" fill="#f7808a"/>
<circle cx="41.35" cy="479.47" r="1.75" fill="#f7808a"/>
<circle cx="35.51" cy="483.94" r="1.75" fill="#f7808a"/>
<circle cx="47.22" cy="475.49" r="1.75" fill="#f7808a"/>
<circle cx="46.04" cy="475.08" r="1.75" fill="#f7808a"/>
<circle cx="41.71" cy="480.73" r="1.75" fill="#f7808a"/>
<circle cx="46.01" cy="478.02" r="1.75" fill="#f7808a"/>
<circle cx="49.82" cy="471.55" r="1.75" fill="#f7808a"/>
<circle cx="45.59" cy="473.62" r="1.75" fill="#f7808a"/>
<circle cx="38.08" cy="481.84" r="1.75" fill="#f7808a"/>
<circle cx="46.64" cy="477.31" r="1.75" fill="#f7808a"/>
<circle cx="44.59" cy="476.6" r="1.75" fill="#f7808a"/>
<circle cx="51.24" cy="471.28" r="1.75" fill="#f7808a"/>
<circle cx="38.41" cy="483.54" r="1.75" fill="#f7808a"/>
<circle cx="38.79" cy="484.61" r="1.75" fill="#f7808a"/>
<circle cx="51.71" cy="471.88" r="1.75" fill="#f7808a"/>
<circle cx="47.71" cy="475.74" r="1.75" fill="#f7808a"/>
<circle cx="49.31" cy="471.25" r="1.75" fill="#f7808a"/>
<circle cx="37.45" cy="482.95" r="1.75" fill="#f7808a"/>
<circle cx="46.97" cy="476.45" r="1.75" fill="#f7808a"/>
<circle cx="42.39" cy="478.89" r="1.75" fill="#f7808a"/>
<circle cx="46.74" cy="473.23" r="1.75" fill="#f7808a"/>
<line x1="30.8" y1="497.5" x2="138.2" y2="384.7" stroke="#000" stroke-width="1.6" stroke-dasharray="4.6 2.6"/>
<line x1="30.8" y1="494.12" x2="138.2" y2="386.96" stroke="#000" stroke-width="1.6"/>
</g>
<rect x="102.3" y="437.5" width="33.4" height="57" rx="1.5" fill="#fff" fill-opacity="0.85" stroke="#d4d4d4" stroke-width="0.7"/>
<circle cx="110" cy="442.2" r="1.65" fill="#3a7ab8"/>
<text x="119.8" y="444.2" font-size="5.8" style="stroke:none" fill="#333">MF</text>
<circle cx="110" cy="450.1" r="1.65" fill="#3ec8f0"/>
<text x="119.8" y="452.1" font-size="5.8" style="stroke:none" fill="#333">ENF</text>
<circle cx="110" cy="458" r="1.65" fill="#12a050"/>
<text x="119.8" y="460" font-size="5.8" style="stroke:none" fill="#333">Grass</text>
<circle cx="110" cy="465.9" r="1.65" fill="#e2c04c"/>
<text x="119.8" y="467.9" font-size="5.8" style="stroke:none" fill="#333">DBF</text>
<circle cx="110" cy="473.8" r="1.65" fill="#f8909a"/>
<text x="119.8" y="475.8" font-size="5.8" style="stroke:none" fill="#333">Crop</text>
<circle cx="110" cy="481.7" r="1.65" fill="#e06aa6"/>
<text x="119.8" y="483.7" font-size="5.8" style="stroke:none" fill="#333">EBF</text>
<circle cx="110" cy="489.6" r="1.65" fill="#e2dcdc"/>
<text x="119.8" y="491.6" font-size="5.8" style="stroke:none" fill="#333">Shrub</text>
<text x="33" y="393.5" font-size="8.3">R<tspan font-size="5.5" dy="-3.2">2</tspan><tspan dy="3.2"> = 0.75</tspan></text>
<text x="33" y="402" font-size="8.3">RMSE = 0.88</text>
<text x="33" y="410.6" font-size="8.3">MD = 0.18</text>
<text x="33" y="419.3" font-size="8.3"><tspan font-style="italic">n</tspan> = 2675</text>
<rect x="30.8" y="384.7" width="107.4" height="112.8" fill="none" stroke="#2a2a2a" stroke-width="1.15"/>
<line x1="30.8" y1="497.5" x2="30.8" y2="500.5" stroke="#222" stroke-width="0.9"/>
<line x1="27.8" y1="497.5" x2="30.8" y2="497.5" stroke="#222" stroke-width="0.9"/>
<text x="30.8" y="510.7" font-size="9.8" text-anchor="middle">0</text>
<text x="24.5" y="500.9" font-size="9.8" text-anchor="end">0</text>
<line x1="52.28" y1="497.5" x2="52.28" y2="500.5" stroke="#222" stroke-width="0.9"/>
<line x1="27.8" y1="474.94" x2="30.8" y2="474.94" stroke="#222" stroke-width="0.9"/>
<text x="52.28" y="510.7" font-size="9.8" text-anchor="middle">2</text>
<text x="24.5" y="478.34" font-size="9.8" text-anchor="end">2</text>
<line x1="73.76" y1="497.5" x2="73.76" y2="500.5" stroke="#222" stroke-width="0.9"/>
<line x1="27.8" y1="452.38" x2="30.8" y2="452.38" stroke="#222" stroke-width="0.9"/>
<text x="73.76" y="510.7" font-size="9.8" text-anchor="middle">4</text>
<text x="24.5" y="455.78" font-size="9.8" text-anchor="end">4</text>
<line x1="95.24" y1="497.5" x2="95.24" y2="500.5" stroke="#222" stroke-width="0.9"/>
<line x1="27.8" y1="429.82" x2="30.8" y2="429.82" stroke="#222" stroke-width="0.9"/>
<text x="95.24" y="510.7" font-size="9.8" text-anchor="middle">6</text>
<text x="24.5" y="433.22" font-size="9.8" text-anchor="end">6</text>
<line x1="116.72" y1="497.5" x2="116.72" y2="500.5" stroke="#222" stroke-width="0.9"/>
<line x1="27.8" y1="407.26" x2="30.8" y2="407.26" stroke="#222" stroke-width="0.9"/>
<text x="116.72" y="510.7" font-size="9.8" text-anchor="middle">8</text>
<text x="24.5" y="410.66" font-size="9.8" text-anchor="end">8</text>
<line x1="138.2" y1="497.5" x2="138.2" y2="500.5" stroke="#222" stroke-width="0.9"/>
<line x1="27.8" y1="384.7" x2="30.8" y2="384.7" stroke="#222" stroke-width="0.9"/>
<text x="138.2" y="510.7" font-size="9.8" text-anchor="middle">10</text>
<text x="24.5" y="388.1" font-size="9.8" text-anchor="end">10</text>
<text x="84.8" y="521" font-size="10.3" text-anchor="middle">LAI reference map</text>
<text transform="translate(11.8,441.4) rotate(-90)" font-size="10.2" text-anchor="middle" xml:space="preserve">MCD15A2H  C6.1</text>
<text x="31" y="378.9" font-size="11">(g)</text>
<g clip-path="url(#c7)">
<polygon points="183.4,486.22 186.09,483.4 188.77,480.58 191.46,477.76 194.14,474.94 196.83,472.12 199.51,469.3 202.19,466.48 204.88,463.66 207.56,460.84 210.25,458.02 212.94,455.2 215.62,452.38 218.31,449.56 220.99,446.74 223.68,443.92 226.36,441.1 229.05,438.28 231.73,435.46 234.42,432.64 237.1,429.82 239.79,426.44 242.47,423.05 245.16,419.67 247.84,416.28 250.53,412.9 253.21,409.52 255.9,406.13 258.58,402.75 261.26,399.36 263.95,395.98 266.63,392.6 269.32,389.21 272,385.83 274.69,382.44 277.38,379.06 280.06,375.68 282.75,372.29 285.43,368.91 288.12,365.52 290.8,362.14 290.8,407.26 288.12,409.52 285.43,411.77 282.75,414.03 280.06,416.28 277.38,418.54 274.69,420.8 272,423.05 269.32,425.31 266.63,427.56 263.95,429.82 261.26,432.08 258.58,434.33 255.9,436.59 253.21,438.84 250.53,441.1 247.84,443.36 245.16,445.61 242.47,447.87 239.79,450.12 237.1,452.38 234.42,455.2 231.73,458.02 229.05,460.84 226.36,463.66 223.68,466.48 220.99,469.3 218.31,472.12 215.62,474.94 212.94,477.76 210.25,480.58 207.56,483.4 204.88,486.22 202.19,489.04 199.51,491.86 196.83,494.68 194.14,497.5 191.46,500.32 188.77,503.14 186.09,505.96 183.4,508.78" fill="#bce8fb"/>
<path d="M183.4,486.22 L237.1,429.82 L290.8,362.14" fill="none" stroke="#9fb0f5" stroke-opacity="0.62" stroke-width="3" stroke-dasharray="22.5 7 3 7" stroke-dashoffset="21.6"/>
<path d="M183.4,508.78 L237.1,452.38 L290.8,407.26" fill="none" stroke="#9fb0f5" stroke-opacity="0.62" stroke-width="3" stroke-dasharray="22.5 7 3 7" stroke-dashoffset="0.7"/>
<circle cx="237.77" cy="430.52" r="1.75" fill="#2c78b6"/>
<circle cx="236.34" cy="431.44" r="1.75" fill="#2c78b6"/>
<circle cx="230.84" cy="430.18" r="1.75" fill="#2c78b6"/>
<circle cx="220.64" cy="429.3" r="1.75" fill="#2c78b6"/>
<circle cx="239.24" cy="432.98" r="1.75" fill="#2c78b6"/>
<circle cx="216.21" cy="432.53" r="1.75" fill="#2c78b6"/>
<circle cx="221.27" cy="429.45" r="1.75" fill="#2c78b6"/>
<circle cx="225.89" cy="431.34" r="1.75" fill="#2c78b6"/>
<circle cx="234.39" cy="429.49" r="1.75" fill="#2c78b6"/>
<circle cx="226.3" cy="429.13" r="1.75" fill="#2c78b6"/>
<circle cx="222.28" cy="427.47" r="1.75" fill="#2c78b6"/>
<circle cx="227.65" cy="428.94" r="1.75" fill="#2c78b6"/>
<circle cx="240.88" cy="428.53" r="1.75" fill="#2c78b6"/>
<circle cx="237.6" cy="429.81" r="1.75" fill="#2c78b6"/>
<circle cx="232.53" cy="428.59" r="1.75" fill="#2c78b6"/>
<circle cx="232.29" cy="429.68" r="1.75" fill="#2c78b6"/>
<circle cx="234.61" cy="429.34" r="1.75" fill="#2c78b6"/>
<circle cx="238.7" cy="427.33" r="1.75" fill="#2c78b6"/>
<circle cx="225.19" cy="427.89" r="1.75" fill="#2c78b6"/>
<circle cx="236.96" cy="431.99" r="1.75" fill="#2c78b6"/>
<circle cx="229.48" cy="429.53" r="1.75" fill="#2c78b6"/>
<circle cx="229.39" cy="427.92" r="1.75" fill="#2c78b6"/>
<circle cx="220.44" cy="429.44" r="1.75" fill="#2c78b6"/>
<circle cx="224.16" cy="427.62" r="1.75" fill="#2c78b6"/>
<circle cx="232.43" cy="430.8" r="1.75" fill="#2c78b6"/>
<circle cx="225.45" cy="427.99" r="1.75" fill="#2c78b6"/>
<circle cx="228" cy="429.54" r="1.75" fill="#2c78b6"/>
<circle cx="234.32" cy="429.98" r="1.75" fill="#2c78b6"/>
<circle cx="222.53" cy="427.05" r="1.75" fill="#2c78b6"/>
<circle cx="251.9" cy="428.54" r="1.75" fill="#2c78b6"/>
<circle cx="217.21" cy="428.08" r="1.75" fill="#2c78b6"/>
<circle cx="226.65" cy="429.2" r="1.75" fill="#2c78b6"/>
<circle cx="229.36" cy="428.23" r="1.75" fill="#2c78b6"/>
<circle cx="243.47" cy="430.8" r="1.75" fill="#2c78b6"/>
<circle cx="222.66" cy="432.26" r="1.75" fill="#2c78b6"/>
<circle cx="224.73" cy="429.98" r="1.75" fill="#2c78b6"/>
<circle cx="242.31" cy="429.31" r="1.75" fill="#2c78b6"/>
<circle cx="228.63" cy="427.31" r="1.75" fill="#2c78b6"/>
<circle cx="253.53" cy="428.35" r="1.75" fill="#2c78b6"/>
<circle cx="220.96" cy="429.09" r="1.75" fill="#2c78b6"/>
<circle cx="243.62" cy="428.58" r="1.75" fill="#2c78b6"/>
<circle cx="238.92" cy="428.12" r="1.75" fill="#2c78b6"/>
<circle cx="223.33" cy="431.18" r="1.75" fill="#2c78b6"/>
<circle cx="240.44" cy="433.2" r="1.75" fill="#2c78b6"/>
<circle cx="226.7" cy="431.1" r="1.75" fill="#2c78b6"/>
<circle cx="246.33" cy="427.02" r="1.75" fill="#2c78b6"/>
<circle cx="243.87" cy="441.67" r="1.75" fill="#2c78b6"/>
<circle cx="244.05" cy="441.96" r="1.75" fill="#2c78b6"/>
<circle cx="247.53" cy="435.31" r="1.75" fill="#2c78b6"/>
<circle cx="246.55" cy="430.97" r="1.75" fill="#2c78b6"/>
<circle cx="245.44" cy="446.11" r="1.75" fill="#2c78b6"/>
<circle cx="241.23" cy="438.48" r="1.75" fill="#2c78b6"/>
<circle cx="245" cy="436.41" r="1.75" fill="#2c78b6"/>
<circle cx="244.31" cy="440.68" r="1.75" fill="#2c78b6"/>
<circle cx="245.72" cy="429.57" r="1.75" fill="#2c78b6"/>
<circle cx="243.57" cy="446.12" r="1.75" fill="#2c78b6"/>
<circle cx="245.54" cy="444.21" r="1.75" fill="#2c78b6"/>
<circle cx="245.17" cy="439.74" r="1.75" fill="#2c78b6"/>
<circle cx="247.51" cy="441.39" r="1.75" fill="#2c78b6"/>
<circle cx="243.4" cy="444.43" r="1.75" fill="#2c78b6"/>
<circle cx="247.61" cy="434.4" r="1.75" fill="#2c78b6"/>
<circle cx="249.28" cy="447.29" r="1.75" fill="#2c78b6"/>
<circle cx="246.76" cy="438.98" r="1.75" fill="#2c78b6"/>
<circle cx="243.44" cy="437.82" r="1.75" fill="#2c78b6"/>
<circle cx="248.48" cy="435.28" r="1.75" fill="#2c78b6"/>
<circle cx="246.07" cy="445.11" r="1.75" fill="#2c78b6"/>
<circle cx="246" cy="444.08" r="1.75" fill="#2c78b6"/>
<circle cx="250.16" cy="434.77" r="1.75" fill="#2c78b6"/>
<circle cx="244.69" cy="436.61" r="1.75" fill="#2c78b6"/>
<circle cx="246.57" cy="444.47" r="1.75" fill="#2c78b6"/>
<circle cx="247.83" cy="447.51" r="1.75" fill="#2c78b6"/>
<circle cx="244.17" cy="433.51" r="1.75" fill="#2c78b6"/>
<circle cx="243.8" cy="451.41" r="1.75" fill="#2c78b6"/>
<circle cx="246.16" cy="447.64" r="1.75" fill="#2c78b6"/>
<circle cx="248.46" cy="447.43" r="1.75" fill="#2c78b6"/>
<circle cx="246.8" cy="441.17" r="1.75" fill="#2c78b6"/>
<circle cx="246.81" cy="429.74" r="1.75" fill="#2c78b6"/>
<circle cx="244.76" cy="446.16" r="1.75" fill="#2c78b6"/>
<circle cx="243.05" cy="435.2" r="1.75" fill="#2c78b6"/>
<circle cx="248.01" cy="444.31" r="1.75" fill="#2c78b6"/>
<circle cx="208.41" cy="482.43" r="1.75" fill="#2c78b6"/>
<circle cx="205.15" cy="486.09" r="1.75" fill="#2c78b6"/>
<circle cx="220.69" cy="482.3" r="1.75" fill="#2c78b6"/>
<circle cx="209.36" cy="484.52" r="1.75" fill="#2c78b6"/>
<circle cx="216.41" cy="481" r="1.75" fill="#2c78b6"/>
<circle cx="220.64" cy="479.87" r="1.75" fill="#2c78b6"/>
<circle cx="209.63" cy="486.23" r="1.75" fill="#2c78b6"/>
<circle cx="220.2" cy="482.67" r="1.75" fill="#2c78b6"/>
<circle cx="217.65" cy="481.91" r="1.75" fill="#2c78b6"/>
<circle cx="220.11" cy="485.2" r="1.75" fill="#2c78b6"/>
<circle cx="212.97" cy="486.96" r="1.75" fill="#2c78b6"/>
<circle cx="208.22" cy="487.37" r="1.75" fill="#2c78b6"/>
<circle cx="206.16" cy="487.45" r="1.75" fill="#2c78b6"/>
<circle cx="214.31" cy="481.02" r="1.75" fill="#2c78b6"/>
<circle cx="215.54" cy="487.77" r="1.75" fill="#2c78b6"/>
<circle cx="214.94" cy="480.24" r="1.75" fill="#2c78b6"/>
<circle cx="214.99" cy="480.47" r="1.75" fill="#2c78b6"/>
<circle cx="221.84" cy="484.08" r="1.75" fill="#2c78b6"/>
<circle cx="220.97" cy="479.54" r="1.75" fill="#2c78b6"/>
<circle cx="215.75" cy="484.91" r="1.75" fill="#2c78b6"/>
<circle cx="211.39" cy="481.1" r="1.75" fill="#2c78b6"/>
<circle cx="219.05" cy="486.41" r="1.75" fill="#2c78b6"/>
<circle cx="213.47" cy="479.85" r="1.75" fill="#2c78b6"/>
<circle cx="210.34" cy="484.44" r="1.75" fill="#2c78b6"/>
<circle cx="210.09" cy="481.39" r="1.75" fill="#2c78b6"/>
<circle cx="208.01" cy="481.98" r="1.75" fill="#2c78b6"/>
<circle cx="218.66" cy="483.33" r="1.75" fill="#2c78b6"/>
<circle cx="215.7" cy="482.64" r="1.75" fill="#2c78b6"/>
<circle cx="216.7" cy="482.55" r="1.75" fill="#2c78b6"/>
<circle cx="210.4" cy="482.83" r="1.75" fill="#2c78b6"/>
<circle cx="208.81" cy="485.49" r="1.75" fill="#2c78b6"/>
<circle cx="214" cy="486.96" r="1.75" fill="#2c78b6"/>
<circle cx="206.56" cy="481.88" r="1.75" fill="#2c78b6"/>
<circle cx="220.91" cy="481.92" r="1.75" fill="#2c78b6"/>
<circle cx="206.04" cy="482.7" r="1.75" fill="#2c78b6"/>
<circle cx="232.87" cy="454.79" r="1.75" fill="#2c78b6"/>
<circle cx="235.02" cy="455.96" r="1.75" fill="#2c78b6"/>
<circle cx="233.54" cy="464.08" r="1.75" fill="#2c78b6"/>
<circle cx="226.64" cy="459.59" r="1.75" fill="#2c78b6"/>
<circle cx="235.71" cy="460.46" r="1.75" fill="#2c78b6"/>
<circle cx="226.64" cy="471.54" r="1.75" fill="#2c78b6"/>
<circle cx="227.04" cy="460.89" r="1.75" fill="#2c78b6"/>
<circle cx="224.89" cy="468.4" r="1.75" fill="#2c78b6"/>
<circle cx="199.27" cy="443.22" r="1.75" fill="#2c78b6"/>
<circle cx="199.45" cy="441.74" r="1.75" fill="#2c78b6"/>
<circle cx="195.5" cy="444.45" r="1.75" fill="#2c78b6"/>
<circle cx="200.51" cy="445.98" r="1.75" fill="#2c78b6"/>
<circle cx="202.57" cy="445.42" r="1.75" fill="#2c78b6"/>
<circle cx="200.88" cy="444.69" r="1.75" fill="#2c78b6"/>
<circle cx="199.83" cy="443.93" r="1.75" fill="#2c78b6"/>
<circle cx="203.31" cy="444.42" r="1.75" fill="#2c78b6"/>
<circle cx="191.18" cy="480.1" r="1.75" fill="#2c78b6"/>
<circle cx="197.76" cy="462.65" r="1.75" fill="#2c78b6"/>
<circle cx="190.49" cy="485.1" r="1.75" fill="#2c78b6"/>
<circle cx="200.9" cy="460.79" r="1.75" fill="#2c78b6"/>
<circle cx="200.05" cy="474.47" r="1.75" fill="#2c78b6"/>
<circle cx="200.75" cy="467.47" r="1.75" fill="#2c78b6"/>
<circle cx="194.56" cy="479.15" r="1.75" fill="#2c78b6"/>
<circle cx="203.72" cy="460.26" r="1.75" fill="#2c78b6"/>
<circle cx="201.32" cy="471.37" r="1.75" fill="#2c78b6"/>
<circle cx="203.29" cy="469.46" r="1.75" fill="#2c78b6"/>
<circle cx="200.58" cy="428.69" r="1.75" fill="#2c78b6"/>
<circle cx="246.77" cy="460.28" r="1.75" fill="#2c78b6"/>
<circle cx="222.06" cy="474.94" r="1.75" fill="#2c78b6"/>
<circle cx="226.36" cy="470.43" r="1.75" fill="#2c78b6"/>
<circle cx="217.85" cy="427.05" r="1.75" fill="#2ec6ee"/>
<circle cx="214.57" cy="426.5" r="1.75" fill="#2ec6ee"/>
<circle cx="214.65" cy="429.27" r="1.75" fill="#2ec6ee"/>
<circle cx="213.31" cy="427.99" r="1.75" fill="#2ec6ee"/>
<circle cx="217.18" cy="431.97" r="1.75" fill="#2ec6ee"/>
<circle cx="214.07" cy="425.3" r="1.75" fill="#2ec6ee"/>
<circle cx="216.82" cy="430.67" r="1.75" fill="#2ec6ee"/>
<circle cx="219.26" cy="430.13" r="1.75" fill="#2ec6ee"/>
<circle cx="224.7" cy="427.32" r="1.75" fill="#2ec6ee"/>
<circle cx="212.5" cy="431.56" r="1.75" fill="#2ec6ee"/>
<circle cx="219.69" cy="430.59" r="1.75" fill="#2ec6ee"/>
<circle cx="221.46" cy="430.38" r="1.75" fill="#2ec6ee"/>
<circle cx="230.28" cy="425.84" r="1.75" fill="#2ec6ee"/>
<circle cx="226.36" cy="430.38" r="1.75" fill="#2ec6ee"/>
<circle cx="223.74" cy="429.79" r="1.75" fill="#2ec6ee"/>
<circle cx="212.55" cy="430.7" r="1.75" fill="#2ec6ee"/>
<circle cx="203.59" cy="432.04" r="1.75" fill="#2ec6ee"/>
<circle cx="209.82" cy="430.71" r="1.75" fill="#2ec6ee"/>
<circle cx="221.99" cy="430.08" r="1.75" fill="#2ec6ee"/>
<circle cx="230.25" cy="430.72" r="1.75" fill="#2ec6ee"/>
<circle cx="223.68" cy="430.13" r="1.75" fill="#2ec6ee"/>
<circle cx="227.44" cy="428.12" r="1.75" fill="#2ec6ee"/>
<circle cx="224.15" cy="429.63" r="1.75" fill="#2ec6ee"/>
<circle cx="223.39" cy="430.16" r="1.75" fill="#2ec6ee"/>
<circle cx="228.97" cy="428.52" r="1.75" fill="#2ec6ee"/>
<circle cx="235.77" cy="439.9" r="1.75" fill="#2ec6ee"/>
<circle cx="231.01" cy="437.68" r="1.75" fill="#2ec6ee"/>
<circle cx="227.54" cy="437.79" r="1.75" fill="#2ec6ee"/>
<circle cx="229.05" cy="434.79" r="1.75" fill="#2ec6ee"/>
<circle cx="240.6" cy="439.16" r="1.75" fill="#2ec6ee"/>
<circle cx="231.07" cy="434.15" r="1.75" fill="#2ec6ee"/>
<circle cx="226.62" cy="439.95" r="1.75" fill="#2ec6ee"/>
<circle cx="237.01" cy="432.63" r="1.75" fill="#2ec6ee"/>
<circle cx="238.86" cy="444.36" r="1.75" fill="#2ec6ee"/>
<circle cx="237.84" cy="442.67" r="1.75" fill="#2ec6ee"/>
<circle cx="232.16" cy="433.54" r="1.75" fill="#2ec6ee"/>
<circle cx="239.97" cy="439.34" r="1.75" fill="#2ec6ee"/>
<circle cx="229.66" cy="452.59" r="1.75" fill="#2ec6ee"/>
<circle cx="235.35" cy="444.77" r="1.75" fill="#2ec6ee"/>
<circle cx="238.12" cy="435.58" r="1.75" fill="#2ec6ee"/>
<circle cx="240.07" cy="437.34" r="1.75" fill="#2ec6ee"/>
<circle cx="226.03" cy="435.63" r="1.75" fill="#2ec6ee"/>
<circle cx="229.42" cy="443.32" r="1.75" fill="#2ec6ee"/>
<circle cx="228.81" cy="443.17" r="1.75" fill="#2ec6ee"/>
<circle cx="226.36" cy="441.24" r="1.75" fill="#2ec6ee"/>
<circle cx="228.09" cy="442.91" r="1.75" fill="#2ec6ee"/>
<circle cx="228.03" cy="434.1" r="1.75" fill="#2ec6ee"/>
<circle cx="224.43" cy="433.07" r="1.75" fill="#2ec6ee"/>
<circle cx="234.52" cy="447.64" r="1.75" fill="#2ec6ee"/>
<circle cx="230.53" cy="437.55" r="1.75" fill="#2ec6ee"/>
<circle cx="225.79" cy="437.44" r="1.75" fill="#2ec6ee"/>
<circle cx="225.93" cy="434.74" r="1.75" fill="#2ec6ee"/>
<circle cx="231.25" cy="436.57" r="1.75" fill="#2ec6ee"/>
<circle cx="216.41" cy="443.98" r="1.75" fill="#2ec6ee"/>
<circle cx="216.9" cy="454.62" r="1.75" fill="#2ec6ee"/>
<circle cx="211.04" cy="450.17" r="1.75" fill="#2ec6ee"/>
<circle cx="234.44" cy="436.63" r="1.75" fill="#2ec6ee"/>
<circle cx="225.56" cy="435.11" r="1.75" fill="#2ec6ee"/>
<circle cx="215.64" cy="450.28" r="1.75" fill="#2ec6ee"/>
<circle cx="218.28" cy="440.86" r="1.75" fill="#2ec6ee"/>
<circle cx="217.24" cy="450.2" r="1.75" fill="#2ec6ee"/>
<circle cx="225.89" cy="445.83" r="1.75" fill="#2ec6ee"/>
<circle cx="215.05" cy="441.97" r="1.75" fill="#2ec6ee"/>
<circle cx="214.22" cy="452.25" r="1.75" fill="#2ec6ee"/>
<circle cx="225.04" cy="440.08" r="1.75" fill="#2ec6ee"/>
<circle cx="211.2" cy="445.98" r="1.75" fill="#2ec6ee"/>
<circle cx="220.65" cy="442.03" r="1.75" fill="#2ec6ee"/>
<circle cx="224.68" cy="445.81" r="1.75" fill="#2ec6ee"/>
<circle cx="213.76" cy="443.95" r="1.75" fill="#2ec6ee"/>
<circle cx="215.17" cy="445.22" r="1.75" fill="#2ec6ee"/>
<circle cx="213.94" cy="448.17" r="1.75" fill="#2ec6ee"/>
<circle cx="221.75" cy="446.64" r="1.75" fill="#2ec6ee"/>
<circle cx="208.63" cy="456.73" r="1.75" fill="#2ec6ee"/>
<circle cx="229.44" cy="434.84" r="1.75" fill="#2ec6ee"/>
<circle cx="213.13" cy="436.79" r="1.75" fill="#2ec6ee"/>
<circle cx="190.31" cy="474.91" r="1.75" fill="#13a052"/>
<circle cx="191.89" cy="479.25" r="1.75" fill="#13a052"/>
<circle cx="188.26" cy="478.92" r="1.75" fill="#13a052"/>
<circle cx="189.7" cy="471.9" r="1.75" fill="#13a052"/>
<circle cx="190.3" cy="476.55" r="1.75" fill="#13a052"/>
<circle cx="187.46" cy="476.15" r="1.75" fill="#13a052"/>
<circle cx="190.9" cy="480.23" r="1.75" fill="#13a052"/>
<circle cx="188.97" cy="479.89" r="1.75" fill="#13a052"/>
<circle cx="185.3" cy="481.4" r="1.75" fill="#13a052"/>
<circle cx="188.25" cy="481.78" r="1.75" fill="#13a052"/>
<circle cx="189.77" cy="478.39" r="1.75" fill="#13a052"/>
<circle cx="190.26" cy="476.97" r="1.75" fill="#13a052"/>
<circle cx="190.55" cy="474.07" r="1.75" fill="#13a052"/>
<circle cx="189.94" cy="478.18" r="1.75" fill="#13a052"/>
<circle cx="189.39" cy="474.3" r="1.75" fill="#13a052"/>
<circle cx="189.97" cy="479.59" r="1.75" fill="#13a052"/>
<circle cx="188" cy="475.39" r="1.75" fill="#13a052"/>
<circle cx="188.09" cy="477.96" r="1.75" fill="#13a052"/>
<circle cx="189.98" cy="481.92" r="1.75" fill="#13a052"/>
<circle cx="190.65" cy="477.94" r="1.75" fill="#13a052"/>
<circle cx="189.42" cy="480.25" r="1.75" fill="#13a052"/>
<circle cx="185.89" cy="476.54" r="1.75" fill="#13a052"/>
<circle cx="189.22" cy="475.41" r="1.75" fill="#13a052"/>
<circle cx="190.1" cy="481.57" r="1.75" fill="#13a052"/>
<circle cx="188.73" cy="484.84" r="1.75" fill="#13a052"/>
<circle cx="187.46" cy="487.83" r="1.75" fill="#13a052"/>
<circle cx="188.34" cy="488.62" r="1.75" fill="#13a052"/>
<circle cx="186.26" cy="488.28" r="1.75" fill="#13a052"/>
<circle cx="187.44" cy="489.77" r="1.75" fill="#13a052"/>
<circle cx="185.11" cy="490.27" r="1.75" fill="#13a052"/>
<circle cx="187.71" cy="488.45" r="1.75" fill="#13a052"/>
<circle cx="194.82" cy="477.7" r="1.75" fill="#13a052"/>
<circle cx="191.06" cy="475.3" r="1.75" fill="#13a052"/>
<circle cx="195.06" cy="477.34" r="1.75" fill="#13a052"/>
<circle cx="189.02" cy="483.29" r="1.75" fill="#13a052"/>
<circle cx="191.64" cy="478.56" r="1.75" fill="#13a052"/>
<circle cx="189.81" cy="485.21" r="1.75" fill="#13a052"/>
<circle cx="188.45" cy="480.87" r="1.75" fill="#13a052"/>
<circle cx="198.57" cy="469.46" r="1.75" fill="#13a052"/>
<circle cx="198.68" cy="488.55" r="1.75" fill="#dcbc3e"/>
<circle cx="200.75" cy="488.22" r="1.75" fill="#dcbc3e"/>
<circle cx="195.73" cy="486.39" r="1.75" fill="#dcbc3e"/>
<circle cx="197.18" cy="490.47" r="1.75" fill="#dcbc3e"/>
<circle cx="199.78" cy="487.3" r="1.75" fill="#dcbc3e"/>
<circle cx="202.79" cy="488.61" r="1.75" fill="#dcbc3e"/>
<circle cx="200.45" cy="487" r="1.75" fill="#dcbc3e"/>
<circle cx="197.64" cy="486.78" r="1.75" fill="#dcbc3e"/>
<circle cx="200.43" cy="481.48" r="1.75" fill="#dcbc3e"/>
<circle cx="197.29" cy="488.82" r="1.75" fill="#dcbc3e"/>
<circle cx="198.77" cy="488.86" r="1.75" fill="#dcbc3e"/>
<circle cx="199.37" cy="485.99" r="1.75" fill="#dcbc3e"/>
<circle cx="199.67" cy="488.25" r="1.75" fill="#dcbc3e"/>
<circle cx="201.86" cy="483.83" r="1.75" fill="#dcbc3e"/>
<circle cx="199.96" cy="489.78" r="1.75" fill="#dcbc3e"/>
<circle cx="189.04" cy="480.05" r="1.75" fill="#dcbc3e"/>
<circle cx="203.02" cy="471.89" r="1.75" fill="#dcbc3e"/>
<circle cx="193.04" cy="475.57" r="1.75" fill="#dcbc3e"/>
<circle cx="203.24" cy="463.01" r="1.75" fill="#dcbc3e"/>
<circle cx="199.1" cy="476.37" r="1.75" fill="#dcbc3e"/>
<circle cx="203.8" cy="463.56" r="1.75" fill="#dcbc3e"/>
<circle cx="198.75" cy="472.61" r="1.75" fill="#dcbc3e"/>
<circle cx="192.67" cy="484.5" r="1.75" fill="#dcbc3e"/>
<circle cx="189.74" cy="486" r="1.75" fill="#dcbc3e"/>
<circle cx="204.88" cy="462.47" r="1.75" fill="#dcbc3e"/>
<circle cx="197.32" cy="474.77" r="1.75" fill="#dcbc3e"/>
<circle cx="205.55" cy="458.77" r="1.75" fill="#dcbc3e"/>
<circle cx="191.35" cy="485.05" r="1.75" fill="#dcbc3e"/>
<circle cx="197.4" cy="470.17" r="1.75" fill="#dcbc3e"/>
<circle cx="205.68" cy="460.34" r="1.75" fill="#dcbc3e"/>
<circle cx="202.44" cy="465.04" r="1.75" fill="#dcbc3e"/>
<circle cx="194.75" cy="479.91" r="1.75" fill="#dcbc3e"/>
<circle cx="199.38" cy="475.3" r="1.75" fill="#dcbc3e"/>
<circle cx="242.44" cy="443.9" r="1.75" fill="#dcbc3e"/>
<circle cx="236.7" cy="425.96" r="1.75" fill="#dcbc3e"/>
<circle cx="233.49" cy="438.2" r="1.75" fill="#dcbc3e"/>
<circle cx="232.95" cy="433.15" r="1.75" fill="#dcbc3e"/>
<circle cx="233.73" cy="444.62" r="1.75" fill="#dcbc3e"/>
<circle cx="236.98" cy="438.21" r="1.75" fill="#dcbc3e"/>
<circle cx="232.24" cy="436.15" r="1.75" fill="#dcbc3e"/>
<circle cx="239.8" cy="439.83" r="1.75" fill="#dcbc3e"/>
<circle cx="232.92" cy="444.34" r="1.75" fill="#dcbc3e"/>
<circle cx="231.31" cy="446.81" r="1.75" fill="#dcbc3e"/>
<circle cx="240.54" cy="438.2" r="1.75" fill="#dcbc3e"/>
<circle cx="244.26" cy="440" r="1.75" fill="#dcbc3e"/>
<circle cx="244.07" cy="449.08" r="1.75" fill="#dcbc3e"/>
<circle cx="236.28" cy="436.75" r="1.75" fill="#dcbc3e"/>
<circle cx="232.63" cy="434.04" r="1.75" fill="#dcbc3e"/>
<circle cx="235.09" cy="444.88" r="1.75" fill="#dcbc3e"/>
<circle cx="225.93" cy="439.32" r="1.75" fill="#dcbc3e"/>
<circle cx="236.05" cy="453.26" r="1.75" fill="#dcbc3e"/>
<circle cx="230.96" cy="443.36" r="1.75" fill="#dcbc3e"/>
<circle cx="232.79" cy="442.35" r="1.75" fill="#dcbc3e"/>
<circle cx="238.48" cy="441.07" r="1.75" fill="#dcbc3e"/>
<circle cx="237.57" cy="437.21" r="1.75" fill="#dcbc3e"/>
<circle cx="237.3" cy="436.48" r="1.75" fill="#dcbc3e"/>
<circle cx="230.18" cy="440.5" r="1.75" fill="#dcbc3e"/>
<circle cx="233.25" cy="439.05" r="1.75" fill="#dcbc3e"/>
<circle cx="239.77" cy="450.03" r="1.75" fill="#dcbc3e"/>
<circle cx="233.98" cy="447.23" r="1.75" fill="#dcbc3e"/>
<circle cx="234.9" cy="443.86" r="1.75" fill="#dcbc3e"/>
<circle cx="237.79" cy="436.31" r="1.75" fill="#dcbc3e"/>
<circle cx="236.44" cy="440.74" r="1.75" fill="#dcbc3e"/>
<circle cx="230.08" cy="443.88" r="1.75" fill="#dcbc3e"/>
<circle cx="233.12" cy="446.62" r="1.75" fill="#dcbc3e"/>
<circle cx="236.07" cy="443.02" r="1.75" fill="#dcbc3e"/>
<circle cx="233.73" cy="450.19" r="1.75" fill="#dcbc3e"/>
<circle cx="229.93" cy="434.67" r="1.75" fill="#dcbc3e"/>
<circle cx="235.4" cy="440.8" r="1.75" fill="#dcbc3e"/>
<circle cx="228.67" cy="449.58" r="1.75" fill="#dcbc3e"/>
<circle cx="233.58" cy="436.96" r="1.75" fill="#dcbc3e"/>
<circle cx="238.06" cy="438.52" r="1.75" fill="#dcbc3e"/>
<circle cx="237.39" cy="437.43" r="1.75" fill="#dcbc3e"/>
<circle cx="230.35" cy="442.37" r="1.75" fill="#dcbc3e"/>
<circle cx="235.13" cy="433.79" r="1.75" fill="#dcbc3e"/>
<circle cx="238.94" cy="439.97" r="1.75" fill="#dcbc3e"/>
<circle cx="239.12" cy="442.54" r="1.75" fill="#dcbc3e"/>
<circle cx="219.93" cy="446.81" r="1.75" fill="#dcbc3e"/>
<circle cx="242.21" cy="446.04" r="1.75" fill="#dcbc3e"/>
<circle cx="231.07" cy="442.01" r="1.75" fill="#dcbc3e"/>
<circle cx="237.05" cy="439.6" r="1.75" fill="#dcbc3e"/>
<circle cx="243.93" cy="437.8" r="1.75" fill="#dcbc3e"/>
<circle cx="233.84" cy="444.8" r="1.75" fill="#dcbc3e"/>
<circle cx="189.8" cy="489.68" r="1.75" fill="#f7808a"/>
<circle cx="192.29" cy="483.72" r="1.75" fill="#f7808a"/>
<circle cx="192.66" cy="488.51" r="1.75" fill="#f7808a"/>
<circle cx="188.92" cy="489.43" r="1.75" fill="#f7808a"/>
<circle cx="188.61" cy="489.08" r="1.75" fill="#f7808a"/>
<circle cx="188.88" cy="490.17" r="1.75" fill="#f7808a"/>
<circle cx="190.03" cy="483.61" r="1.75" fill="#f7808a"/>
<circle cx="184.89" cy="488.9" r="1.75" fill="#f7808a"/>
<circle cx="190.3" cy="489.47" r="1.75" fill="#f7808a"/>
<circle cx="189.21" cy="487.38" r="1.75" fill="#f7808a"/>
<circle cx="190.86" cy="483.74" r="1.75" fill="#f7808a"/>
<circle cx="190.88" cy="486.34" r="1.75" fill="#f7808a"/>
<circle cx="193.76" cy="486.08" r="1.75" fill="#f7808a"/>
<circle cx="188.41" cy="489.45" r="1.75" fill="#f7808a"/>
<circle cx="187.29" cy="482.53" r="1.75" fill="#f7808a"/>
<circle cx="204.02" cy="470.12" r="1.75" fill="#2c78b6"/>
<circle cx="204.07" cy="467.85" r="1.75" fill="#2c78b6"/>
<circle cx="197.37" cy="475" r="1.75" fill="#2c78b6"/>
<circle cx="204.29" cy="455.67" r="1.75" fill="#2c78b6"/>
<circle cx="189.93" cy="468.82" r="1.75" fill="#2c78b6"/>
<circle cx="201.59" cy="459.88" r="1.75" fill="#2c78b6"/>
<circle cx="186.63" cy="490.21" r="1.75" fill="#2c78b6"/>
<circle cx="206.29" cy="467.46" r="1.75" fill="#2c78b6"/>
<circle cx="197.71" cy="471.49" r="1.75" fill="#2c78b6"/>
<circle cx="186.68" cy="478.64" r="1.75" fill="#2c78b6"/>
<circle cx="186.52" cy="473.76" r="1.75" fill="#2ec6ee"/>
<circle cx="186.23" cy="483.71" r="1.75" fill="#2ec6ee"/>
<circle cx="194.95" cy="468.44" r="1.75" fill="#2ec6ee"/>
<circle cx="208.48" cy="454.55" r="1.75" fill="#2ec6ee"/>
<circle cx="204.42" cy="460.84" r="1.75" fill="#2ec6ee"/>
<circle cx="203.67" cy="461.62" r="1.75" fill="#2ec6ee"/>
<circle cx="191.28" cy="471.74" r="1.75" fill="#2ec6ee"/>
<circle cx="192.33" cy="482.85" r="1.75" fill="#2ec6ee"/>
<circle cx="196.28" cy="464.31" r="1.75" fill="#dcbc3e"/>
<circle cx="201.45" cy="470.47" r="1.75" fill="#dcbc3e"/>
<circle cx="194.33" cy="469.35" r="1.75" fill="#dcbc3e"/>
<circle cx="207.67" cy="456.81" r="1.75" fill="#dcbc3e"/>
<circle cx="203.09" cy="460.4" r="1.75" fill="#dcbc3e"/>
<circle cx="200.84" cy="462.18" r="1.75" fill="#dcbc3e"/>
<circle cx="186.65" cy="475.22" r="1.75" fill="#dcbc3e"/>
<circle cx="204.4" cy="455.92" r="1.75" fill="#dcbc3e"/>
<circle cx="205.49" cy="464.48" r="1.75" fill="#dcbc3e"/>
<circle cx="199.21" cy="465.37" r="1.75" fill="#dcbc3e"/>
<circle cx="206.22" cy="457.25" r="1.75" fill="#dcbc3e"/>
<circle cx="207.56" cy="449.7" r="1.75" fill="#dcbc3e"/>
<circle cx="186.22" cy="477.99" r="1.75" fill="#f7808a"/>
<circle cx="194.55" cy="469.35" r="1.75" fill="#f7808a"/>
<circle cx="203.71" cy="464.51" r="1.75" fill="#f7808a"/>
<circle cx="194.17" cy="463.62" r="1.75" fill="#f7808a"/>
<circle cx="190.53" cy="473" r="1.75" fill="#f7808a"/>
<circle cx="204.14" cy="457.88" r="1.75" fill="#f7808a"/>
<circle cx="206.86" cy="459.37" r="1.75" fill="#f7808a"/>
<circle cx="192.38" cy="478.05" r="1.75" fill="#f7808a"/>
<circle cx="199.6" cy="457.46" r="1.75" fill="#f7808a"/>
<circle cx="206.23" cy="459.14" r="1.75" fill="#f7808a"/>
<circle cx="194.94" cy="475.19" r="1.75" fill="#f7808a"/>
<circle cx="188.53" cy="477.67" r="1.75" fill="#f7808a"/>
<circle cx="187.02" cy="482.27" r="1.75" fill="#f7808a"/>
<circle cx="196.27" cy="478.82" r="1.75" fill="#f7808a"/>
<circle cx="193.13" cy="463.94" r="1.75" fill="#f7808a"/>
<circle cx="189.54" cy="469.94" r="1.75" fill="#f7808a"/>
<circle cx="194.86" cy="470.71" r="1.75" fill="#f7808a"/>
<circle cx="190.85" cy="481.38" r="1.75" fill="#f7808a"/>
<circle cx="200.17" cy="467.86" r="1.75" fill="#f7808a"/>
<circle cx="206.68" cy="460.29" r="1.75" fill="#f7808a"/>
<circle cx="193.05" cy="480.16" r="1.75" fill="#f7808a"/>
<circle cx="189.06" cy="480.8" r="1.75" fill="#f7808a"/>
<circle cx="204.73" cy="453.03" r="1.75" fill="#f7808a"/>
<circle cx="208.22" cy="460.1" r="1.75" fill="#f7808a"/>
<circle cx="192.71" cy="466.64" r="1.75" fill="#f7808a"/>
<circle cx="204.12" cy="459" r="1.75" fill="#f7808a"/>
<circle cx="205.71" cy="450.27" r="1.75" fill="#f7808a"/>
<circle cx="194.46" cy="481.3" r="1.75" fill="#f7808a"/>
<circle cx="205.64" cy="466.94" r="1.75" fill="#f7808a"/>
<circle cx="190.95" cy="474.57" r="1.75" fill="#f7808a"/>
<circle cx="200.89" cy="460.13" r="1.75" fill="#f7808a"/>
<circle cx="201.35" cy="454.86" r="1.75" fill="#f7808a"/>
<circle cx="202.76" cy="457.71" r="1.75" fill="#f7808a"/>
<circle cx="201.11" cy="471.42" r="1.75" fill="#f7808a"/>
<circle cx="203.22" cy="466.78" r="1.75" fill="#f7808a"/>
<circle cx="195.06" cy="470.93" r="1.75" fill="#f7808a"/>
<circle cx="193.01" cy="477.99" r="1.75" fill="#f7808a"/>
<circle cx="192.16" cy="478.2" r="1.75" fill="#f7808a"/>
<circle cx="202.15" cy="459.68" r="1.75" fill="#f7808a"/>
<circle cx="207.67" cy="451.13" r="1.75" fill="#f7808a"/>
<circle cx="186.45" cy="477.91" r="1.75" fill="#f7808a"/>
<circle cx="196.93" cy="465.43" r="1.75" fill="#f7808a"/>
<circle cx="185.45" cy="474.81" r="1.75" fill="#f7808a"/>
<circle cx="206.47" cy="465.7" r="1.75" fill="#f7808a"/>
<circle cx="194.13" cy="475.88" r="1.75" fill="#f7808a"/>
<circle cx="197.4" cy="475.26" r="1.75" fill="#f7808a"/>
<circle cx="199.68" cy="466.81" r="1.75" fill="#f7808a"/>
<circle cx="207.92" cy="457.1" r="1.75" fill="#f7808a"/>
<circle cx="185.18" cy="473.93" r="1.75" fill="#f7808a"/>
<circle cx="191.57" cy="481.12" r="1.75" fill="#f7808a"/>
<circle cx="207.19" cy="457.43" r="1.75" fill="#f7808a"/>
<circle cx="209.12" cy="461.68" r="1.75" fill="#f7808a"/>
<circle cx="199.26" cy="457.25" r="1.75" fill="#f7808a"/>
<circle cx="200.17" cy="470.43" r="1.75" fill="#f7808a"/>
<circle cx="203.69" cy="470.62" r="1.75" fill="#f7808a"/>
<circle cx="198.26" cy="469.39" r="1.75" fill="#f7808a"/>
<circle cx="187.05" cy="471.58" r="1.75" fill="#f7808a"/>
<circle cx="200.46" cy="465.28" r="1.75" fill="#f7808a"/>
<circle cx="208.56" cy="458.73" r="1.75" fill="#f7808a"/>
<circle cx="206.83" cy="461.37" r="1.75" fill="#f7808a"/>
<circle cx="205.15" cy="459.96" r="1.75" fill="#f7808a"/>
<circle cx="186.18" cy="480.56" r="1.75" fill="#f7808a"/>
<circle cx="206.61" cy="463.98" r="1.75" fill="#f7808a"/>
<circle cx="204.52" cy="468.99" r="1.75" fill="#f7808a"/>
<circle cx="192.45" cy="473.74" r="1.75" fill="#f7808a"/>
<circle cx="201.48" cy="456.19" r="1.75" fill="#f7808a"/>
<circle cx="199.2" cy="457.52" r="1.75" fill="#f7808a"/>
<circle cx="203.79" cy="464.09" r="1.75" fill="#f7808a"/>
<circle cx="201.77" cy="468.04" r="1.75" fill="#f7808a"/>
<circle cx="206.55" cy="458.8" r="1.75" fill="#f7808a"/>
<circle cx="200.01" cy="457.44" r="1.75" fill="#f7808a"/>
<circle cx="194.75" cy="468.08" r="1.75" fill="#f7808a"/>
<circle cx="193.75" cy="476.14" r="1.75" fill="#f7808a"/>
<circle cx="204.18" cy="461.5" r="1.75" fill="#f7808a"/>
<circle cx="187.73" cy="471.28" r="1.75" fill="#f7808a"/>
<circle cx="200.06" cy="465.57" r="1.75" fill="#f7808a"/>
<circle cx="194.88" cy="477.94" r="1.75" fill="#f7808a"/>
<circle cx="206.58" cy="467.03" r="1.75" fill="#f7808a"/>
<circle cx="191.75" cy="474.24" r="1.75" fill="#f7808a"/>
<circle cx="200.99" cy="457.87" r="1.75" fill="#f7808a"/>
<circle cx="194.96" cy="479.44" r="1.75" fill="#f7808a"/>
<circle cx="194.48" cy="467.7" r="1.75" fill="#f7808a"/>
<circle cx="194.57" cy="465.8" r="1.75" fill="#f7808a"/>
<circle cx="205.59" cy="466.66" r="1.75" fill="#f7808a"/>
<circle cx="195.88" cy="479.66" r="1.75" fill="#f7808a"/>
<circle cx="197.87" cy="464.26" r="1.75" fill="#f7808a"/>
<circle cx="192.4" cy="472.24" r="1.75" fill="#f7808a"/>
<circle cx="193.71" cy="463.52" r="1.75" fill="#f7808a"/>
<circle cx="206.42" cy="451.26" r="1.75" fill="#f7808a"/>
<circle cx="187.34" cy="477.91" r="1.75" fill="#f7808a"/>
<circle cx="205.03" cy="453.61" r="1.75" fill="#f7808a"/>
<circle cx="202.21" cy="454.94" r="1.75" fill="#f7808a"/>
<circle cx="189.02" cy="484.2" r="1.75" fill="#f7808a"/>
<circle cx="202.48" cy="458.23" r="1.75" fill="#f7808a"/>
<circle cx="187.86" cy="481.14" r="1.75" fill="#f7808a"/>
<circle cx="205.35" cy="454.1" r="1.75" fill="#f7808a"/>
<circle cx="205.29" cy="461.64" r="1.75" fill="#f7808a"/>
<circle cx="197.09" cy="472.06" r="1.75" fill="#f7808a"/>
<circle cx="205.91" cy="454.96" r="1.75" fill="#f7808a"/>
<circle cx="188.48" cy="474.08" r="1.75" fill="#f7808a"/>
<circle cx="195.01" cy="463.08" r="1.75" fill="#f7808a"/>
<circle cx="191.99" cy="480.16" r="1.75" fill="#f7808a"/>
<circle cx="201.49" cy="455.85" r="1.75" fill="#f7808a"/>
<circle cx="186.62" cy="490.21" r="1.75" fill="#f7808a"/>
<circle cx="198.88" cy="472" r="1.75" fill="#f7808a"/>
<circle cx="232.97" cy="436.43" r="1.75" fill="#f7808a"/>
<circle cx="234.9" cy="445.56" r="1.75" fill="#f7808a"/>
<circle cx="231.97" cy="445.7" r="1.75" fill="#f7808a"/>
<circle cx="238.33" cy="435.35" r="1.75" fill="#f7808a"/>
<circle cx="238.12" cy="440.42" r="1.75" fill="#f7808a"/>
<circle cx="238.81" cy="435.12" r="1.75" fill="#f7808a"/>
<circle cx="248.54" cy="435.22" r="1.75" fill="#f7808a"/>
<circle cx="240.31" cy="439.59" r="1.75" fill="#f7808a"/>
<circle cx="234.4" cy="431.38" r="1.75" fill="#f7808a"/>
<circle cx="239.4" cy="440.85" r="1.75" fill="#f7808a"/>
<circle cx="242.09" cy="442.03" r="1.75" fill="#f7808a"/>
<circle cx="236.91" cy="443.81" r="1.75" fill="#f7808a"/>
<circle cx="229.43" cy="438.07" r="1.75" fill="#f7808a"/>
<circle cx="239.45" cy="439.92" r="1.75" fill="#f7808a"/>
<circle cx="232.04" cy="433.2" r="1.75" fill="#f7808a"/>
<circle cx="237.52" cy="438.89" r="1.75" fill="#f7808a"/>
<circle cx="241.8" cy="436.92" r="1.75" fill="#f7808a"/>
<circle cx="244.67" cy="429.96" r="1.75" fill="#f7808a"/>
<circle cx="237.08" cy="432.82" r="1.75" fill="#f7808a"/>
<circle cx="236.49" cy="442.61" r="1.75" fill="#f7808a"/>
<circle cx="222.73" cy="437.98" r="1.75" fill="#f7808a"/>
<circle cx="230.54" cy="440.98" r="1.75" fill="#f7808a"/>
<circle cx="241.91" cy="436.59" r="1.75" fill="#f7808a"/>
<circle cx="230.58" cy="436.67" r="1.75" fill="#f7808a"/>
<circle cx="232.92" cy="427.53" r="1.75" fill="#f7808a"/>
<circle cx="241.83" cy="438.94" r="1.75" fill="#f7808a"/>
<circle cx="236.79" cy="432.01" r="1.75" fill="#f7808a"/>
<circle cx="237.71" cy="441.03" r="1.75" fill="#f7808a"/>
<circle cx="242.29" cy="438.68" r="1.75" fill="#f7808a"/>
<circle cx="235.24" cy="440.84" r="1.75" fill="#f7808a"/>
<circle cx="240.13" cy="430.43" r="1.75" fill="#f7808a"/>
<circle cx="235.5" cy="433.37" r="1.75" fill="#f7808a"/>
<circle cx="239.73" cy="438.73" r="1.75" fill="#f7808a"/>
<circle cx="238.02" cy="436.54" r="1.75" fill="#f7808a"/>
<circle cx="226.75" cy="430.58" r="1.75" fill="#f7808a"/>
<circle cx="230" cy="434.1" r="1.75" fill="#f7808a"/>
<circle cx="237.22" cy="438.74" r="1.75" fill="#f7808a"/>
<circle cx="231.92" cy="433.7" r="1.75" fill="#f7808a"/>
<circle cx="234.01" cy="440.59" r="1.75" fill="#f7808a"/>
<circle cx="232.05" cy="442.31" r="1.75" fill="#f7808a"/>
<circle cx="224.44" cy="432.74" r="1.75" fill="#f7808a"/>
<circle cx="240.92" cy="441.99" r="1.75" fill="#f7808a"/>
<circle cx="238.46" cy="431.9" r="1.75" fill="#f7808a"/>
<circle cx="238.24" cy="435.96" r="1.75" fill="#f7808a"/>
<circle cx="236.14" cy="439.51" r="1.75" fill="#f7808a"/>
<circle cx="236.73" cy="438.21" r="1.75" fill="#f7808a"/>
<circle cx="237.49" cy="445.57" r="1.75" fill="#f7808a"/>
<circle cx="235.66" cy="445.48" r="1.75" fill="#f7808a"/>
<circle cx="238.48" cy="430.5" r="1.75" fill="#f7808a"/>
<circle cx="238.15" cy="440.93" r="1.75" fill="#f7808a"/>
<circle cx="236.26" cy="438.66" r="1.75" fill="#f7808a"/>
<circle cx="235.58" cy="443.92" r="1.75" fill="#f7808a"/>
<circle cx="240.52" cy="437.3" r="1.75" fill="#f7808a"/>
<circle cx="228.04" cy="433.49" r="1.75" fill="#f7808a"/>
<circle cx="230.98" cy="443.53" r="1.75" fill="#f7808a"/>
<circle cx="230.03" cy="439.07" r="1.75" fill="#f7808a"/>
<circle cx="231.69" cy="441.9" r="1.75" fill="#f7808a"/>
<circle cx="234.21" cy="433.85" r="1.75" fill="#f7808a"/>
<circle cx="242.28" cy="433.17" r="1.75" fill="#f7808a"/>
<circle cx="234.21" cy="442.12" r="1.75" fill="#f7808a"/>
<circle cx="192.74" cy="433.32" r="1.75" fill="#f7808a"/>
<circle cx="211.32" cy="424.18" r="1.75" fill="#f7808a"/>
<circle cx="214.55" cy="423.05" r="1.75" fill="#f7808a"/>
<circle cx="193.07" cy="453.51" r="1.75" fill="#f7808a"/>
<circle cx="196.29" cy="449" r="1.75" fill="#f7808a"/>
<circle cx="208.44" cy="450.95" r="1.75" fill="#d8448f"/>
<circle cx="215.53" cy="435.48" r="1.75" fill="#d8448f"/>
<circle cx="217.65" cy="450.5" r="1.75" fill="#d8448f"/>
<circle cx="225.69" cy="434.37" r="1.75" fill="#d8448f"/>
<circle cx="211.76" cy="452.58" r="1.75" fill="#d8448f"/>
<circle cx="229.24" cy="440.22" r="1.75" fill="#d8448f"/>
<circle cx="209.3" cy="440.16" r="1.75" fill="#d8448f"/>
<circle cx="230.41" cy="433.38" r="1.75" fill="#d8448f"/>
<circle cx="212.09" cy="444.45" r="1.75" fill="#d8448f"/>
<circle cx="233.44" cy="436.55" r="1.75" fill="#d8448f"/>
<circle cx="216.13" cy="444.81" r="1.75" fill="#d8448f"/>
<circle cx="219.84" cy="439.03" r="1.75" fill="#d8448f"/>
<circle cx="212.1" cy="450.48" r="1.75" fill="#d8448f"/>
<circle cx="232.35" cy="434.16" r="1.75" fill="#d8448f"/>
<circle cx="219.19" cy="444.47" r="1.75" fill="#d8448f"/>
<circle cx="223.1" cy="440.4" r="1.75" fill="#d8448f"/>
<circle cx="225.56" cy="436.46" r="1.75" fill="#d8448f"/>
<circle cx="220.07" cy="435.94" r="1.75" fill="#d8448f"/>
<circle cx="220.93" cy="449.73" r="1.75" fill="#d8448f"/>
<circle cx="227" cy="438.17" r="1.75" fill="#d8448f"/>
<circle cx="222.98" cy="439.68" r="1.75" fill="#d8448f"/>
<circle cx="212.7" cy="439.87" r="1.75" fill="#d8448f"/>
<circle cx="218.04" cy="434.27" r="1.75" fill="#d8448f"/>
<circle cx="207.28" cy="444.91" r="1.75" fill="#d8448f"/>
<circle cx="207.2" cy="447.34" r="1.75" fill="#d8448f"/>
<circle cx="220.35" cy="433.84" r="1.75" fill="#d8448f"/>
<circle cx="228.79" cy="435.89" r="1.75" fill="#d8448f"/>
<circle cx="208.86" cy="456.32" r="1.75" fill="#d8448f"/>
<circle cx="221.87" cy="443.25" r="1.75" fill="#d8448f"/>
<circle cx="215.68" cy="446.19" r="1.75" fill="#d8448f"/>
<circle cx="208.53" cy="444.75" r="1.75" fill="#d8448f"/>
<circle cx="224.38" cy="438.39" r="1.75" fill="#d8448f"/>
<circle cx="222.12" cy="440.77" r="1.75" fill="#d8448f"/>
<circle cx="225.84" cy="443.28" r="1.75" fill="#d8448f"/>
<circle cx="219.7" cy="441.74" r="1.75" fill="#d8448f"/>
<circle cx="211.59" cy="446.26" r="1.75" fill="#d8448f"/>
<circle cx="227.25" cy="439.95" r="1.75" fill="#d8448f"/>
<circle cx="226.15" cy="433.1" r="1.75" fill="#d8448f"/>
<circle cx="221.58" cy="441.55" r="1.75" fill="#d8448f"/>
<circle cx="208.6" cy="453.67" r="1.75" fill="#d8448f"/>
<circle cx="208.65" cy="452.7" r="1.75" fill="#d8448f"/>
<circle cx="215.25" cy="452.1" r="1.75" fill="#d8448f"/>
<circle cx="220.81" cy="444.35" r="1.75" fill="#d8448f"/>
<circle cx="216.02" cy="454.97" r="1.75" fill="#d8448f"/>
<circle cx="226.49" cy="439.07" r="1.75" fill="#d8448f"/>
<circle cx="212.39" cy="449.63" r="1.75" fill="#d8448f"/>
<circle cx="228.77" cy="439.49" r="1.75" fill="#d8448f"/>
<circle cx="233.35" cy="438.14" r="1.75" fill="#d8448f"/>
<circle cx="207.6" cy="443.18" r="1.75" fill="#d8448f"/>
<circle cx="214.78" cy="453.22" r="1.75" fill="#d8448f"/>
<circle cx="209.99" cy="438.51" r="1.75" fill="#d8448f"/>
<circle cx="224.69" cy="439.46" r="1.75" fill="#d8448f"/>
<circle cx="209.62" cy="447.62" r="1.75" fill="#d8448f"/>
<circle cx="212.31" cy="458.8" r="1.75" fill="#d8448f"/>
<circle cx="233.54" cy="434.54" r="1.75" fill="#d8448f"/>
<circle cx="221.56" cy="438.82" r="1.75" fill="#d8448f"/>
<circle cx="224.94" cy="442.37" r="1.75" fill="#d8448f"/>
<circle cx="212.51" cy="439.41" r="1.75" fill="#d8448f"/>
<circle cx="217.71" cy="450.83" r="1.75" fill="#d8448f"/>
<circle cx="224.55" cy="442.15" r="1.75" fill="#d8448f"/>
<circle cx="222.71" cy="440.31" r="1.75" fill="#d8448f"/>
<circle cx="225.45" cy="446.17" r="1.75" fill="#d8448f"/>
<circle cx="232.35" cy="434.83" r="1.75" fill="#d8448f"/>
<circle cx="219.49" cy="435.41" r="1.75" fill="#d8448f"/>
<circle cx="213.62" cy="449.37" r="1.75" fill="#d8448f"/>
<circle cx="215.66" cy="454.58" r="1.75" fill="#d8448f"/>
<circle cx="217.62" cy="438.6" r="1.75" fill="#d8448f"/>
<circle cx="209.16" cy="454.5" r="1.75" fill="#d8448f"/>
<circle cx="216.5" cy="451" r="1.75" fill="#d8448f"/>
<circle cx="224.75" cy="436.91" r="1.75" fill="#d8448f"/>
<circle cx="229.48" cy="441.99" r="1.75" fill="#d8448f"/>
<circle cx="215.34" cy="453.01" r="1.75" fill="#d8448f"/>
<circle cx="207.33" cy="446.97" r="1.75" fill="#d8448f"/>
<circle cx="213.59" cy="457.82" r="1.75" fill="#d8448f"/>
<circle cx="214.85" cy="452.86" r="1.75" fill="#d8448f"/>
<circle cx="233.94" cy="434.41" r="1.75" fill="#d8448f"/>
<circle cx="216.64" cy="445.29" r="1.75" fill="#d8448f"/>
<circle cx="211.26" cy="450.07" r="1.75" fill="#d8448f"/>
<circle cx="210.95" cy="441.95" r="1.75" fill="#d8448f"/>
<circle cx="232.19" cy="435.15" r="1.75" fill="#d8448f"/>
<circle cx="210.94" cy="439.25" r="1.75" fill="#d8448f"/>
<circle cx="225.46" cy="435.77" r="1.75" fill="#d8448f"/>
<circle cx="228.89" cy="436.7" r="1.75" fill="#d8448f"/>
<circle cx="213.2" cy="435.6" r="1.75" fill="#d8448f"/>
<circle cx="208.95" cy="449.85" r="1.75" fill="#d8448f"/>
<circle cx="217.06" cy="452.49" r="1.75" fill="#d8448f"/>
<circle cx="220.17" cy="446.81" r="1.75" fill="#d8448f"/>
<circle cx="209.26" cy="444.93" r="1.75" fill="#d8448f"/>
<circle cx="220.75" cy="449.09" r="1.75" fill="#d8448f"/>
<circle cx="220.54" cy="434.77" r="1.75" fill="#d8448f"/>
<circle cx="207.78" cy="455" r="1.75" fill="#d8448f"/>
<circle cx="213.96" cy="448.01" r="1.75" fill="#d8448f"/>
<circle cx="213.14" cy="450.92" r="1.75" fill="#d8448f"/>
<circle cx="207.68" cy="446.2" r="1.75" fill="#d8448f"/>
<circle cx="207.76" cy="448.34" r="1.75" fill="#d8448f"/>
<circle cx="207.64" cy="445.86" r="1.75" fill="#d8448f"/>
<circle cx="209.01" cy="447.08" r="1.75" fill="#d8448f"/>
<circle cx="220.04" cy="434.13" r="1.75" fill="#d8448f"/>
<circle cx="208.9" cy="452.52" r="1.75" fill="#d8448f"/>
<circle cx="213.69" cy="446.19" r="1.75" fill="#d8448f"/>
<circle cx="224.83" cy="437.85" r="1.75" fill="#d8448f"/>
<circle cx="225.45" cy="438.93" r="1.75" fill="#d8448f"/>
<circle cx="216.91" cy="449.57" r="1.75" fill="#d8448f"/>
<circle cx="225.69" cy="442.29" r="1.75" fill="#d8448f"/>
<circle cx="219.74" cy="440.27" r="1.75" fill="#d8448f"/>
<circle cx="219.47" cy="436.78" r="1.75" fill="#d8448f"/>
<circle cx="215.4" cy="454.77" r="1.75" fill="#d8448f"/>
<circle cx="210.92" cy="450.33" r="1.75" fill="#d8448f"/>
<circle cx="217.19" cy="436.7" r="1.75" fill="#d8448f"/>
<circle cx="228.28" cy="441.69" r="1.75" fill="#d8448f"/>
<circle cx="212.34" cy="435.24" r="1.75" fill="#d8448f"/>
<circle cx="211.74" cy="447.27" r="1.75" fill="#d8448f"/>
<circle cx="215.27" cy="438.6" r="1.75" fill="#d8448f"/>
<circle cx="211.29" cy="448.86" r="1.75" fill="#d8448f"/>
<circle cx="227.27" cy="444.56" r="1.75" fill="#d8448f"/>
<circle cx="220.24" cy="445.14" r="1.75" fill="#d8448f"/>
<circle cx="217.58" cy="453.06" r="1.75" fill="#d8448f"/>
<circle cx="218.46" cy="435.12" r="1.75" fill="#d8448f"/>
<circle cx="215.61" cy="439.46" r="1.75" fill="#d8448f"/>
<circle cx="211" cy="448.59" r="1.75" fill="#d8448f"/>
<circle cx="210.49" cy="439.7" r="1.75" fill="#d8448f"/>
<circle cx="208.81" cy="448.24" r="1.75" fill="#d8448f"/>
<circle cx="230.6" cy="433.54" r="1.75" fill="#d8448f"/>
<circle cx="210.12" cy="458.25" r="1.75" fill="#d8448f"/>
<circle cx="217.29" cy="451.98" r="1.75" fill="#d8448f"/>
<circle cx="225.9" cy="440.77" r="1.75" fill="#d8448f"/>
<circle cx="223.49" cy="447.94" r="1.75" fill="#d8448f"/>
<circle cx="220.98" cy="445.62" r="1.75" fill="#d8448f"/>
<circle cx="221.65" cy="444.85" r="1.75" fill="#d8448f"/>
<circle cx="219.07" cy="443.91" r="1.75" fill="#d8448f"/>
<circle cx="213.57" cy="449.72" r="1.75" fill="#d8448f"/>
<circle cx="231.8" cy="433.84" r="1.75" fill="#d8448f"/>
<circle cx="230.68" cy="440.9" r="1.75" fill="#d8448f"/>
<circle cx="212.34" cy="451.21" r="1.75" fill="#d8448f"/>
<circle cx="216.18" cy="439.25" r="1.75" fill="#d8448f"/>
<circle cx="206.22" cy="451.83" r="1.75" fill="#d8448f"/>
<circle cx="197.27" cy="470.18" r="1.75" fill="#d8448f"/>
<circle cx="206.5" cy="450.22" r="1.75" fill="#d8448f"/>
<circle cx="190.39" cy="468.42" r="1.75" fill="#d8448f"/>
<circle cx="198.68" cy="467.47" r="1.75" fill="#d8448f"/>
<circle cx="191.22" cy="470.77" r="1.75" fill="#d8448f"/>
<circle cx="195.54" cy="466.49" r="1.75" fill="#d8448f"/>
<circle cx="195.71" cy="469.44" r="1.75" fill="#d8448f"/>
<circle cx="195.43" cy="462.37" r="1.75" fill="#d8448f"/>
<circle cx="200.45" cy="458.47" r="1.75" fill="#d8448f"/>
<circle cx="190.83" cy="474.68" r="1.75" fill="#d8448f"/>
<circle cx="204.92" cy="457.31" r="1.75" fill="#d8448f"/>
<circle cx="200.57" cy="464.34" r="1.75" fill="#d8448f"/>
<circle cx="197.06" cy="470.3" r="1.75" fill="#d8448f"/>
<circle cx="198.68" cy="468.29" r="1.75" fill="#d8448f"/>
<circle cx="215.49" cy="466.19" r="1.75" fill="#bdbdbd"/>
<circle cx="211.94" cy="463.37" r="1.75" fill="#bdbdbd"/>
<circle cx="216.51" cy="467.62" r="1.75" fill="#bdbdbd"/>
<circle cx="198.44" cy="486.4" r="1.75" fill="#bdbdbd"/>
<circle cx="217.74" cy="469.33" r="1.75" fill="#bdbdbd"/>
<circle cx="200.69" cy="482.9" r="1.75" fill="#bdbdbd"/>
<circle cx="194.77" cy="485.82" r="1.75" fill="#bdbdbd"/>
<circle cx="196.47" cy="482.1" r="1.75" fill="#bdbdbd"/>
<circle cx="203.32" cy="479.1" r="1.75" fill="#bdbdbd"/>
<circle cx="201.09" cy="479.94" r="1.75" fill="#bdbdbd"/>
<circle cx="195.81" cy="486.79" r="1.75" fill="#bdbdbd"/>
<circle cx="215.33" cy="464.32" r="1.75" fill="#bdbdbd"/>
<circle cx="206.04" cy="473.42" r="1.75" fill="#bdbdbd"/>
<circle cx="215.58" cy="468.47" r="1.75" fill="#bdbdbd"/>
<circle cx="213.9" cy="472.36" r="1.75" fill="#bdbdbd"/>
<circle cx="207.87" cy="477.81" r="1.75" fill="#bdbdbd"/>
<circle cx="197.59" cy="486.48" r="1.75" fill="#bdbdbd"/>
<circle cx="206.32" cy="477.58" r="1.75" fill="#bdbdbd"/>
<circle cx="212.67" cy="466.58" r="1.75" fill="#bdbdbd"/>
<circle cx="212.61" cy="462.59" r="1.75" fill="#bdbdbd"/>
<circle cx="204.57" cy="471.67" r="1.75" fill="#bdbdbd"/>
<circle cx="202.44" cy="479.04" r="1.75" fill="#bdbdbd"/>
<circle cx="202.69" cy="480.88" r="1.75" fill="#bdbdbd"/>
<circle cx="212.18" cy="473.16" r="1.75" fill="#bdbdbd"/>
<circle cx="211.48" cy="468.42" r="1.75" fill="#bdbdbd"/>
<circle cx="215.28" cy="471.97" r="1.75" fill="#bdbdbd"/>
<circle cx="212.7" cy="471.28" r="1.75" fill="#bdbdbd"/>
<circle cx="214.66" cy="465.18" r="1.75" fill="#bdbdbd"/>
<circle cx="216.72" cy="458.15" r="1.75" fill="#bdbdbd"/>
<circle cx="212.49" cy="465.46" r="1.75" fill="#bdbdbd"/>
<circle cx="218.08" cy="466.93" r="1.75" fill="#bdbdbd"/>
<circle cx="210.02" cy="475.41" r="1.75" fill="#bdbdbd"/>
<circle cx="200.45" cy="476.04" r="1.75" fill="#bdbdbd"/>
<circle cx="215.37" cy="465.72" r="1.75" fill="#bdbdbd"/>
<circle cx="206.19" cy="470.73" r="1.75" fill="#bdbdbd"/>
<circle cx="218.87" cy="465.32" r="1.75" fill="#bdbdbd"/>
<circle cx="204.32" cy="481.2" r="1.75" fill="#bdbdbd"/>
<circle cx="215.56" cy="466.12" r="1.75" fill="#bdbdbd"/>
<circle cx="216.47" cy="466.53" r="1.75" fill="#bdbdbd"/>
<circle cx="200.14" cy="478.26" r="1.75" fill="#bdbdbd"/>
<circle cx="217.33" cy="457.95" r="1.75" fill="#bdbdbd"/>
<circle cx="204.52" cy="479.35" r="1.75" fill="#bdbdbd"/>
<circle cx="211.92" cy="464.16" r="1.75" fill="#bdbdbd"/>
<circle cx="214.39" cy="470.25" r="1.75" fill="#bdbdbd"/>
<circle cx="218.13" cy="462.21" r="1.75" fill="#bdbdbd"/>
<circle cx="198.1" cy="478.61" r="1.75" fill="#bdbdbd"/>
<circle cx="207.42" cy="478" r="1.75" fill="#bdbdbd"/>
<circle cx="205.64" cy="478.6" r="1.75" fill="#bdbdbd"/>
<circle cx="216.69" cy="457.79" r="1.75" fill="#bdbdbd"/>
<circle cx="217.11" cy="471.03" r="1.75" fill="#bdbdbd"/>
<circle cx="218.11" cy="462.96" r="1.75" fill="#bdbdbd"/>
<circle cx="216.17" cy="465.03" r="1.75" fill="#bdbdbd"/>
<circle cx="216.77" cy="467.9" r="1.75" fill="#bdbdbd"/>
<circle cx="217.48" cy="469.94" r="1.75" fill="#bdbdbd"/>
<circle cx="202.52" cy="477.39" r="1.75" fill="#bdbdbd"/>
<circle cx="216.21" cy="464.72" r="1.75" fill="#bdbdbd"/>
<circle cx="218.55" cy="467.3" r="1.75" fill="#bdbdbd"/>
<circle cx="216.85" cy="467.43" r="1.75" fill="#bdbdbd"/>
<circle cx="209.1" cy="473.64" r="1.75" fill="#bdbdbd"/>
<circle cx="198.98" cy="479.12" r="1.75" fill="#bdbdbd"/>
<circle cx="205.11" cy="477.96" r="1.75" fill="#bdbdbd"/>
<circle cx="217.07" cy="469.03" r="1.75" fill="#bdbdbd"/>
<circle cx="217.86" cy="461.11" r="1.75" fill="#bdbdbd"/>
<circle cx="212.94" cy="465.57" r="1.75" fill="#bdbdbd"/>
<circle cx="198.2" cy="481.62" r="1.75" fill="#bdbdbd"/>
<circle cx="194.94" cy="484.1" r="1.75" fill="#bdbdbd"/>
<circle cx="212.23" cy="469.05" r="1.75" fill="#bdbdbd"/>
<circle cx="200.29" cy="481.52" r="1.75" fill="#bdbdbd"/>
<circle cx="214.5" cy="462.67" r="1.75" fill="#bdbdbd"/>
<circle cx="214.74" cy="471.16" r="1.75" fill="#bdbdbd"/>
<circle cx="200.25" cy="482.85" r="1.75" fill="#bdbdbd"/>
<circle cx="217.09" cy="457.1" r="1.75" fill="#bdbdbd"/>
<circle cx="206.31" cy="469.37" r="1.75" fill="#bdbdbd"/>
<circle cx="205.31" cy="472.05" r="1.75" fill="#bdbdbd"/>
<circle cx="217.01" cy="460.55" r="1.75" fill="#bdbdbd"/>
<circle cx="217.76" cy="470.49" r="1.75" fill="#bdbdbd"/>
<circle cx="205.06" cy="478.19" r="1.75" fill="#bdbdbd"/>
<circle cx="198.66" cy="481.52" r="1.75" fill="#bdbdbd"/>
<circle cx="208.43" cy="475.35" r="1.75" fill="#bdbdbd"/>
<circle cx="203.52" cy="474.46" r="1.75" fill="#bdbdbd"/>
<circle cx="201.93" cy="475.05" r="1.75" fill="#bdbdbd"/>
<circle cx="216.24" cy="463.76" r="1.75" fill="#bdbdbd"/>
<circle cx="209.72" cy="473.27" r="1.75" fill="#bdbdbd"/>
<circle cx="206.56" cy="472.11" r="1.75" fill="#bdbdbd"/>
<circle cx="203.4" cy="476.15" r="1.75" fill="#bdbdbd"/>
<circle cx="195.97" cy="485.25" r="1.75" fill="#bdbdbd"/>
<circle cx="211.12" cy="473.52" r="1.75" fill="#bdbdbd"/>
<circle cx="216.1" cy="470.86" r="1.75" fill="#bdbdbd"/>
<circle cx="206.69" cy="472.12" r="1.75" fill="#bdbdbd"/>
<circle cx="212.88" cy="466.67" r="1.75" fill="#bdbdbd"/>
<circle cx="212.2" cy="468.33" r="1.75" fill="#bdbdbd"/>
<circle cx="211.98" cy="475.66" r="1.75" fill="#bdbdbd"/>
<circle cx="219.76" cy="463.63" r="1.75" fill="#bdbdbd"/>
<circle cx="213.36" cy="474.9" r="1.75" fill="#bdbdbd"/>
<circle cx="210.71" cy="465.69" r="1.75" fill="#bdbdbd"/>
<circle cx="198.86" cy="484.42" r="1.75" fill="#bdbdbd"/>
<circle cx="202.08" cy="485.77" r="1.75" fill="#bdbdbd"/>
<circle cx="198.36" cy="487.22" r="1.75" fill="#bdbdbd"/>
<circle cx="196.96" cy="482.13" r="1.75" fill="#bdbdbd"/>
<circle cx="199.35" cy="484.59" r="1.75" fill="#bdbdbd"/>
<circle cx="204.9" cy="474.13" r="1.75" fill="#bdbdbd"/>
<circle cx="215.02" cy="468.35" r="1.75" fill="#bdbdbd"/>
<circle cx="211.38" cy="474.15" r="1.75" fill="#bdbdbd"/>
<circle cx="214.75" cy="470.88" r="1.75" fill="#bdbdbd"/>
<circle cx="210.8" cy="467.25" r="1.75" fill="#bdbdbd"/>
<circle cx="207.73" cy="472.51" r="1.75" fill="#bdbdbd"/>
<circle cx="211.14" cy="472.39" r="1.75" fill="#bdbdbd"/>
<circle cx="218.42" cy="465.92" r="1.75" fill="#bdbdbd"/>
<circle cx="218.84" cy="461.33" r="1.75" fill="#bdbdbd"/>
<circle cx="206.76" cy="469.83" r="1.75" fill="#bdbdbd"/>
<circle cx="211.62" cy="468.72" r="1.75" fill="#bdbdbd"/>
<circle cx="210.09" cy="474.48" r="1.75" fill="#bdbdbd"/>
<circle cx="217.36" cy="462.45" r="1.75" fill="#bdbdbd"/>
<circle cx="207.5" cy="472.38" r="1.75" fill="#bdbdbd"/>
<circle cx="212.37" cy="467.66" r="1.75" fill="#bdbdbd"/>
<circle cx="207.46" cy="474.18" r="1.75" fill="#bdbdbd"/>
<circle cx="194.81" cy="485.85" r="1.75" fill="#bdbdbd"/>
<circle cx="214.96" cy="460.07" r="1.75" fill="#bdbdbd"/>
<circle cx="211.12" cy="464.11" r="1.75" fill="#bdbdbd"/>
<circle cx="200.99" cy="483.2" r="1.75" fill="#bdbdbd"/>
<circle cx="200.97" cy="486.52" r="1.75" fill="#bdbdbd"/>
<circle cx="206.5" cy="478.42" r="1.75" fill="#bdbdbd"/>
<circle cx="211.31" cy="473.02" r="1.75" fill="#bdbdbd"/>
<circle cx="217.54" cy="459.06" r="1.75" fill="#bdbdbd"/>
<circle cx="201.58" cy="477.86" r="1.75" fill="#bdbdbd"/>
<circle cx="206.12" cy="476.6" r="1.75" fill="#bdbdbd"/>
<circle cx="212.44" cy="473.02" r="1.75" fill="#bdbdbd"/>
<circle cx="198.74" cy="482.42" r="1.75" fill="#bdbdbd"/>
<circle cx="199.15" cy="479.05" r="1.75" fill="#bdbdbd"/>
<circle cx="212.82" cy="465.67" r="1.75" fill="#bdbdbd"/>
<line x1="183.4" y1="497.5" x2="290.8" y2="384.7" stroke="#000" stroke-width="1.6" stroke-dasharray="4.6 2.6"/>
<line x1="183.4" y1="493.89" x2="290.8" y2="373.31" stroke="#000" stroke-width="1.6"/>
</g>
<rect x="254.9" y="437.5" width="33.4" height="57" rx="1.5" fill="#fff" fill-opacity="0.85" stroke="#d4d4d4" stroke-width="0.7"/>
<circle cx="262.6" cy="442.2" r="1.65" fill="#3a7ab8"/>
<text x="272.4" y="444.2" font-size="5.8" style="stroke:none" fill="#333">MF</text>
<circle cx="262.6" cy="450.1" r="1.65" fill="#3ec8f0"/>
<text x="272.4" y="452.1" font-size="5.8" style="stroke:none" fill="#333">ENF</text>
<circle cx="262.6" cy="458" r="1.65" fill="#12a050"/>
<text x="272.4" y="460" font-size="5.8" style="stroke:none" fill="#333">Grass</text>
<circle cx="262.6" cy="465.9" r="1.65" fill="#e2c04c"/>
<text x="272.4" y="467.9" font-size="5.8" style="stroke:none" fill="#333">DBF</text>
<circle cx="262.6" cy="473.8" r="1.65" fill="#f8909a"/>
<text x="272.4" y="475.8" font-size="5.8" style="stroke:none" fill="#333">Crop</text>
<circle cx="262.6" cy="481.7" r="1.65" fill="#e06aa6"/>
<text x="272.4" y="483.7" font-size="5.8" style="stroke:none" fill="#333">EBF</text>
<circle cx="262.6" cy="489.6" r="1.65" fill="#e2dcdc"/>
<text x="272.4" y="491.6" font-size="5.8" style="stroke:none" fill="#333">Shrub</text>
<text x="185.6" y="393.5" font-size="8.3">R<tspan font-size="5.5" dy="-3.2">2</tspan><tspan dy="3.2"> = 0.81</tspan></text>
<text x="185.6" y="402" font-size="8.3">RMSE = 0.93</text>
<text x="185.6" y="410.6" font-size="8.3">MD = 0.47</text>
<text x="185.6" y="419.3" font-size="8.3"><tspan font-style="italic">n</tspan> = 2675</text>
<rect x="183.4" y="384.7" width="107.4" height="112.8" fill="none" stroke="#2a2a2a" stroke-width="1.15"/>
<line x1="183.4" y1="497.5" x2="183.4" y2="500.5" stroke="#222" stroke-width="0.9"/>
<line x1="180.4" y1="497.5" x2="183.4" y2="497.5" stroke="#222" stroke-width="0.9"/>
<text x="183.4" y="510.7" font-size="9.8" text-anchor="middle">0</text>
<text x="177.1" y="500.9" font-size="9.8" text-anchor="end">0</text>
<line x1="204.88" y1="497.5" x2="204.88" y2="500.5" stroke="#222" stroke-width="0.9"/>
<line x1="180.4" y1="474.94" x2="183.4" y2="474.94" stroke="#222" stroke-width="0.9"/>
<text x="204.88" y="510.7" font-size="9.8" text-anchor="middle">2</text>
<text x="177.1" y="478.34" font-size="9.8" text-anchor="end">2</text>
<line x1="226.36" y1="497.5" x2="226.36" y2="500.5" stroke="#222" stroke-width="0.9"/>
<line x1="180.4" y1="452.38" x2="183.4" y2="452.38" stroke="#222" stroke-width="0.9"/>
<text x="226.36" y="510.7" font-size="9.8" text-anchor="middle">4</text>
<text x="177.1" y="455.78" font-size="9.8" text-anchor="end">4</text>
<line x1="247.84" y1="497.5" x2="247.84" y2="500.5" stroke="#222" stroke-width="0.9"/>
<line x1="180.4" y1="429.82" x2="183.4" y2="429.82" stroke="#222" stroke-width="0.9"/>
<text x="247.84" y="510.7" font-size="9.8" text-anchor="middle">6</text>
<text x="177.1" y="433.22" font-size="9.8" text-anchor="end">6</text>
<line x1="269.32" y1="497.5" x2="269.32" y2="500.5" stroke="#222" stroke-width="0.9"/>
<line x1="180.4" y1="407.26" x2="183.4" y2="407.26" stroke="#222" stroke-width="0.9"/>
<text x="269.32" y="510.7" font-size="9.8" text-anchor="middle">8</text>
<text x="177.1" y="410.66" font-size="9.8" text-anchor="end">8</text>
<line x1="290.8" y1="497.5" x2="290.8" y2="500.5" stroke="#222" stroke-width="0.9"/>
<line x1="180.4" y1="384.7" x2="183.4" y2="384.7" stroke="#222" stroke-width="0.9"/>
<text x="290.8" y="510.7" font-size="9.8" text-anchor="middle">10</text>
<text x="177.1" y="388.1" font-size="9.8" text-anchor="end">10</text>
<text x="237.4" y="521" font-size="10.3" text-anchor="middle">LAI reference map</text>
<text transform="translate(164.4,441.4) rotate(-90)" font-size="10.2" text-anchor="middle" xml:space="preserve">reprocessed MODIS</text>
<text x="183.6" y="378.9" font-size="11">(h)</text>
<g clip-path="url(#c8)">
<polygon points="336,486.22 338.69,483.4 341.37,480.58 344.06,477.76 346.74,474.94 349.43,472.12 352.11,469.3 354.8,466.48 357.48,463.66 360.17,460.84 362.85,458.02 365.54,455.2 368.22,452.38 370.9,449.56 373.59,446.74 376.27,443.92 378.96,441.1 381.64,438.28 384.33,435.46 387.01,432.64 389.7,429.82 392.38,426.44 395.07,423.05 397.75,419.67 400.44,416.28 403.12,412.9 405.81,409.52 408.5,406.13 411.18,402.75 413.87,399.36 416.55,395.98 419.24,392.6 421.92,389.21 424.61,385.83 427.29,382.44 429.98,379.06 432.66,375.68 435.35,372.29 438.03,368.91 440.72,365.52 443.4,362.14 443.4,407.26 440.72,409.52 438.03,411.77 435.35,414.03 432.66,416.28 429.98,418.54 427.29,420.8 424.61,423.05 421.92,425.31 419.24,427.56 416.55,429.82 413.87,432.08 411.18,434.33 408.5,436.59 405.81,438.84 403.12,441.1 400.44,443.36 397.75,445.61 395.07,447.87 392.38,450.12 389.7,452.38 387.01,455.2 384.33,458.02 381.64,460.84 378.96,463.66 376.27,466.48 373.59,469.3 370.9,472.12 368.22,474.94 365.54,477.76 362.85,480.58 360.17,483.4 357.48,486.22 354.8,489.04 352.11,491.86 349.43,494.68 346.74,497.5 344.06,500.32 341.37,503.14 338.69,505.96 336,508.78" fill="#bce8fb"/>
<path d="M336,486.22 L389.7,429.82 L443.4,362.14" fill="none" stroke="#9fb0f5" stroke-opacity="0.62" stroke-width="3" stroke-dasharray="22.5 7 3 7" stroke-dashoffset="21.6"/>
<path d="M336,508.78 L389.7,452.38 L443.4,407.26" fill="none" stroke="#9fb0f5" stroke-opacity="0.62" stroke-width="3" stroke-dasharray="22.5 7 3 7" stroke-dashoffset="0.7"/>
<circle cx="360.26" cy="466.7" r="1.75" fill="#2c78b6"/>
<circle cx="376.21" cy="442.74" r="1.75" fill="#2c78b6"/>
<circle cx="351.02" cy="473.22" r="1.75" fill="#2c78b6"/>
<circle cx="374.9" cy="452.86" r="1.75" fill="#2c78b6"/>
<circle cx="384.85" cy="432.46" r="1.75" fill="#2c78b6"/>
<circle cx="383.18" cy="435.31" r="1.75" fill="#2c78b6"/>
<circle cx="353.76" cy="474.95" r="1.75" fill="#2c78b6"/>
<circle cx="385.81" cy="432.25" r="1.75" fill="#2c78b6"/>
<circle cx="394.25" cy="434.16" r="1.75" fill="#2c78b6"/>
<circle cx="359.78" cy="463.64" r="1.75" fill="#2c78b6"/>
<circle cx="369.74" cy="461.92" r="1.75" fill="#2c78b6"/>
<circle cx="383.53" cy="428.65" r="1.75" fill="#2c78b6"/>
<circle cx="372.06" cy="449.16" r="1.75" fill="#2c78b6"/>
<circle cx="385.6" cy="428.26" r="1.75" fill="#2c78b6"/>
<circle cx="389.46" cy="433.05" r="1.75" fill="#2c78b6"/>
<circle cx="367.45" cy="461.81" r="1.75" fill="#2c78b6"/>
<circle cx="378.42" cy="443.44" r="1.75" fill="#2c78b6"/>
<circle cx="354.19" cy="475.77" r="1.75" fill="#2c78b6"/>
<circle cx="347.71" cy="468.83" r="1.75" fill="#2c78b6"/>
<circle cx="389.77" cy="437.38" r="1.75" fill="#2c78b6"/>
<circle cx="345.37" cy="471.07" r="1.75" fill="#2c78b6"/>
<circle cx="378.41" cy="443.11" r="1.75" fill="#2c78b6"/>
<circle cx="390.69" cy="427.67" r="1.75" fill="#2c78b6"/>
<circle cx="359.08" cy="465.19" r="1.75" fill="#2c78b6"/>
<circle cx="364.02" cy="453.05" r="1.75" fill="#2c78b6"/>
<circle cx="360.85" cy="454.61" r="1.75" fill="#2c78b6"/>
<circle cx="379.49" cy="438.37" r="1.75" fill="#2c78b6"/>
<circle cx="384.48" cy="432.2" r="1.75" fill="#2c78b6"/>
<circle cx="368.06" cy="455.7" r="1.75" fill="#2c78b6"/>
<circle cx="356.69" cy="465.99" r="1.75" fill="#2c78b6"/>
<circle cx="374.67" cy="460.03" r="1.75" fill="#2c78b6"/>
<circle cx="375.43" cy="442.17" r="1.75" fill="#2c78b6"/>
<circle cx="376.21" cy="446.06" r="1.75" fill="#2c78b6"/>
<circle cx="386.66" cy="439.25" r="1.75" fill="#2c78b6"/>
<circle cx="379.18" cy="457.38" r="1.75" fill="#2c78b6"/>
<circle cx="360.2" cy="466.93" r="1.75" fill="#2c78b6"/>
<circle cx="370.02" cy="451.84" r="1.75" fill="#2c78b6"/>
<circle cx="389.14" cy="431.95" r="1.75" fill="#2c78b6"/>
<circle cx="379.11" cy="437.95" r="1.75" fill="#2c78b6"/>
<circle cx="369.81" cy="453.24" r="1.75" fill="#2c78b6"/>
<circle cx="360.02" cy="451.05" r="1.75" fill="#2c78b6"/>
<circle cx="387.5" cy="421.57" r="1.75" fill="#2c78b6"/>
<circle cx="387.24" cy="445.45" r="1.75" fill="#2c78b6"/>
<circle cx="382.7" cy="434.92" r="1.75" fill="#2c78b6"/>
<circle cx="389.78" cy="428.02" r="1.75" fill="#2c78b6"/>
<circle cx="371.48" cy="468.71" r="1.75" fill="#2c78b6"/>
<circle cx="371.52" cy="458.52" r="1.75" fill="#2c78b6"/>
<circle cx="364.83" cy="444.79" r="1.75" fill="#2c78b6"/>
<circle cx="372.99" cy="449.78" r="1.75" fill="#2c78b6"/>
<circle cx="344.93" cy="476.92" r="1.75" fill="#2c78b6"/>
<circle cx="361.89" cy="458.33" r="1.75" fill="#2c78b6"/>
<circle cx="375.91" cy="459" r="1.75" fill="#2c78b6"/>
<circle cx="371.16" cy="448.09" r="1.75" fill="#2c78b6"/>
<circle cx="389.96" cy="430.52" r="1.75" fill="#2c78b6"/>
<circle cx="385.61" cy="436.29" r="1.75" fill="#2c78b6"/>
<circle cx="392.36" cy="428.18" r="1.75" fill="#2c78b6"/>
<circle cx="392.7" cy="431.84" r="1.75" fill="#2c78b6"/>
<circle cx="352.03" cy="464.57" r="1.75" fill="#2c78b6"/>
<circle cx="384.44" cy="443.37" r="1.75" fill="#2c78b6"/>
<circle cx="371.67" cy="454.37" r="1.75" fill="#2c78b6"/>
<circle cx="383.83" cy="441.42" r="1.75" fill="#2c78b6"/>
<circle cx="362.42" cy="452.2" r="1.75" fill="#2c78b6"/>
<circle cx="378.61" cy="441.49" r="1.75" fill="#2c78b6"/>
<circle cx="369.61" cy="450.28" r="1.75" fill="#2c78b6"/>
<circle cx="377.46" cy="442.16" r="1.75" fill="#2c78b6"/>
<circle cx="386.42" cy="440.31" r="1.75" fill="#2c78b6"/>
<circle cx="363.24" cy="461.85" r="1.75" fill="#2c78b6"/>
<circle cx="363.52" cy="444.42" r="1.75" fill="#2c78b6"/>
<circle cx="396.06" cy="432.78" r="1.75" fill="#2c78b6"/>
<circle cx="367.92" cy="444.68" r="1.75" fill="#2c78b6"/>
<circle cx="383.01" cy="435.34" r="1.75" fill="#2c78b6"/>
<circle cx="369.39" cy="445.12" r="1.75" fill="#2c78b6"/>
<circle cx="381.74" cy="440.83" r="1.75" fill="#2c78b6"/>
<circle cx="371.59" cy="441.42" r="1.75" fill="#2c78b6"/>
<circle cx="369.25" cy="466.68" r="1.75" fill="#2c78b6"/>
<circle cx="376.26" cy="448.64" r="1.75" fill="#2c78b6"/>
<circle cx="378.48" cy="448.84" r="1.75" fill="#2c78b6"/>
<circle cx="373.54" cy="443.69" r="1.75" fill="#2c78b6"/>
<circle cx="382.58" cy="446.06" r="1.75" fill="#2c78b6"/>
<circle cx="379.14" cy="446.75" r="1.75" fill="#2c78b6"/>
<circle cx="365.29" cy="455.26" r="1.75" fill="#2c78b6"/>
<circle cx="388.29" cy="425.69" r="1.75" fill="#2c78b6"/>
<circle cx="363.97" cy="456.1" r="1.75" fill="#2c78b6"/>
<circle cx="394.4" cy="432.95" r="1.75" fill="#2c78b6"/>
<circle cx="374.13" cy="443.94" r="1.75" fill="#2c78b6"/>
<circle cx="377.18" cy="447.91" r="1.75" fill="#2c78b6"/>
<circle cx="376.35" cy="441.06" r="1.75" fill="#2c78b6"/>
<circle cx="379.42" cy="444.67" r="1.75" fill="#2c78b6"/>
<circle cx="367.24" cy="445.2" r="1.75" fill="#2c78b6"/>
<circle cx="389.96" cy="442.02" r="1.75" fill="#2c78b6"/>
<circle cx="339.62" cy="490.8" r="1.75" fill="#2c78b6"/>
<circle cx="388.92" cy="429.03" r="1.75" fill="#2c78b6"/>
<circle cx="344.6" cy="485.55" r="1.75" fill="#2c78b6"/>
<circle cx="371.78" cy="446.71" r="1.75" fill="#2c78b6"/>
<circle cx="356.96" cy="474.37" r="1.75" fill="#2c78b6"/>
<circle cx="358.53" cy="463.09" r="1.75" fill="#2c78b6"/>
<circle cx="377.14" cy="454.34" r="1.75" fill="#2c78b6"/>
<circle cx="383.95" cy="431.21" r="1.75" fill="#2c78b6"/>
<circle cx="378.3" cy="435.34" r="1.75" fill="#2c78b6"/>
<circle cx="390.07" cy="438.34" r="1.75" fill="#2c78b6"/>
<circle cx="379.87" cy="454.02" r="1.75" fill="#2c78b6"/>
<circle cx="378.39" cy="436.56" r="1.75" fill="#2c78b6"/>
<circle cx="360.12" cy="468.9" r="1.75" fill="#2c78b6"/>
<circle cx="371" cy="450.19" r="1.75" fill="#2c78b6"/>
<circle cx="371.07" cy="451.37" r="1.75" fill="#2c78b6"/>
<circle cx="388.82" cy="437.75" r="1.75" fill="#2c78b6"/>
<circle cx="350.99" cy="464.13" r="1.75" fill="#2c78b6"/>
<circle cx="355.37" cy="470.79" r="1.75" fill="#2c78b6"/>
<circle cx="376.57" cy="452.66" r="1.75" fill="#2c78b6"/>
<circle cx="350.76" cy="467.09" r="1.75" fill="#2c78b6"/>
<circle cx="374.1" cy="440.35" r="1.75" fill="#2c78b6"/>
<circle cx="394.87" cy="425.04" r="1.75" fill="#2c78b6"/>
<circle cx="365.65" cy="449.98" r="1.75" fill="#2c78b6"/>
<circle cx="354.29" cy="464.57" r="1.75" fill="#2c78b6"/>
<circle cx="399.66" cy="431.19" r="1.75" fill="#2c78b6"/>
<circle cx="364.86" cy="444.39" r="1.75" fill="#2c78b6"/>
<circle cx="364.87" cy="450.07" r="1.75" fill="#2c78b6"/>
<circle cx="369.67" cy="465.22" r="1.75" fill="#2c78b6"/>
<circle cx="377.59" cy="440.86" r="1.75" fill="#2c78b6"/>
<circle cx="382.89" cy="437.54" r="1.75" fill="#2c78b6"/>
<circle cx="365.75" cy="449.67" r="1.75" fill="#2c78b6"/>
<circle cx="387.49" cy="435.53" r="1.75" fill="#2c78b6"/>
<circle cx="379.88" cy="438.04" r="1.75" fill="#2c78b6"/>
<circle cx="358.61" cy="473.84" r="1.75" fill="#2c78b6"/>
<circle cx="371.25" cy="448.65" r="1.75" fill="#2c78b6"/>
<circle cx="369.15" cy="458.37" r="1.75" fill="#2c78b6"/>
<circle cx="384.33" cy="436.04" r="1.75" fill="#2c78b6"/>
<circle cx="390.63" cy="427.78" r="1.75" fill="#2c78b6"/>
<circle cx="366.85" cy="455.73" r="1.75" fill="#2c78b6"/>
<circle cx="372.06" cy="440.69" r="1.75" fill="#2c78b6"/>
<circle cx="373.22" cy="440.97" r="1.75" fill="#2c78b6"/>
<circle cx="373.33" cy="443.3" r="1.75" fill="#2c78b6"/>
<circle cx="366.77" cy="457.37" r="1.75" fill="#2c78b6"/>
<circle cx="382.23" cy="427.12" r="1.75" fill="#2c78b6"/>
<circle cx="380.25" cy="438.65" r="1.75" fill="#2c78b6"/>
<circle cx="395.09" cy="430.99" r="1.75" fill="#2c78b6"/>
<circle cx="369.5" cy="442.62" r="1.75" fill="#2c78b6"/>
<circle cx="389.31" cy="428.51" r="1.75" fill="#2c78b6"/>
<circle cx="364.95" cy="470.87" r="1.75" fill="#2c78b6"/>
<circle cx="379.64" cy="439.12" r="1.75" fill="#2c78b6"/>
<circle cx="369.13" cy="461.68" r="1.75" fill="#2c78b6"/>
<circle cx="366.22" cy="454.15" r="1.75" fill="#2c78b6"/>
<circle cx="369.01" cy="458.87" r="1.75" fill="#2c78b6"/>
<circle cx="393.24" cy="426.59" r="1.75" fill="#2c78b6"/>
<circle cx="373.22" cy="447.85" r="1.75" fill="#2c78b6"/>
<circle cx="389" cy="441.53" r="1.75" fill="#2c78b6"/>
<circle cx="388.52" cy="439.03" r="1.75" fill="#2c78b6"/>
<circle cx="381.46" cy="439.5" r="1.75" fill="#2c78b6"/>
<circle cx="397.46" cy="433.27" r="1.75" fill="#2c78b6"/>
<circle cx="372.15" cy="452.89" r="1.75" fill="#2c78b6"/>
<circle cx="391.78" cy="431.32" r="1.75" fill="#2c78b6"/>
<circle cx="357.03" cy="454.21" r="1.75" fill="#2c78b6"/>
<circle cx="376.7" cy="455.54" r="1.75" fill="#2c78b6"/>
<circle cx="379.82" cy="437.05" r="1.75" fill="#2c78b6"/>
<circle cx="394.09" cy="446.3" r="1.75" fill="#2c78b6"/>
<circle cx="382.34" cy="428.64" r="1.75" fill="#2c78b6"/>
<circle cx="374.17" cy="466.48" r="1.75" fill="#2c78b6"/>
<circle cx="384.67" cy="441.52" r="1.75" fill="#2c78b6"/>
<circle cx="391.75" cy="438.14" r="1.75" fill="#2c78b6"/>
<circle cx="343.95" cy="433.77" r="1.75" fill="#2c78b6"/>
<circle cx="345.77" cy="441.55" r="1.75" fill="#2c78b6"/>
<circle cx="352" cy="441.55" r="1.75" fill="#2c78b6"/>
<circle cx="368.01" cy="427.23" r="1.75" fill="#2c78b6"/>
<circle cx="370.58" cy="427.23" r="1.75" fill="#2c78b6"/>
<circle cx="360.38" cy="480.58" r="1.75" fill="#2c78b6"/>
<circle cx="346.95" cy="490.51" r="1.75" fill="#2c78b6"/>
<circle cx="400.44" cy="436.59" r="1.75" fill="#2c78b6"/>
<circle cx="402.59" cy="439.97" r="1.75" fill="#2c78b6"/>
<circle cx="370.92" cy="451.29" r="1.75" fill="#2ec6ee"/>
<circle cx="357.35" cy="462.73" r="1.75" fill="#2ec6ee"/>
<circle cx="381.65" cy="443.07" r="1.75" fill="#2ec6ee"/>
<circle cx="355.42" cy="461.52" r="1.75" fill="#2ec6ee"/>
<circle cx="384.19" cy="433.79" r="1.75" fill="#2ec6ee"/>
<circle cx="379.09" cy="440.15" r="1.75" fill="#2ec6ee"/>
<circle cx="360.84" cy="463.4" r="1.75" fill="#2ec6ee"/>
<circle cx="349.76" cy="466.92" r="1.75" fill="#2ec6ee"/>
<circle cx="356.04" cy="471.74" r="1.75" fill="#2ec6ee"/>
<circle cx="366.82" cy="446.66" r="1.75" fill="#2ec6ee"/>
<circle cx="354.03" cy="475.59" r="1.75" fill="#2ec6ee"/>
<circle cx="377.75" cy="449.12" r="1.75" fill="#2ec6ee"/>
<circle cx="390.27" cy="432.27" r="1.75" fill="#2ec6ee"/>
<circle cx="383.94" cy="431.7" r="1.75" fill="#2ec6ee"/>
<circle cx="376.62" cy="443.62" r="1.75" fill="#2ec6ee"/>
<circle cx="370.58" cy="451.69" r="1.75" fill="#2ec6ee"/>
<circle cx="379.63" cy="442.68" r="1.75" fill="#2ec6ee"/>
<circle cx="357.42" cy="467.03" r="1.75" fill="#2ec6ee"/>
<circle cx="369.92" cy="449.39" r="1.75" fill="#2ec6ee"/>
<circle cx="368.01" cy="458.11" r="1.75" fill="#2ec6ee"/>
<circle cx="392.6" cy="434.2" r="1.75" fill="#2ec6ee"/>
<circle cx="383.04" cy="437.1" r="1.75" fill="#2ec6ee"/>
<circle cx="379.7" cy="445.8" r="1.75" fill="#2ec6ee"/>
<circle cx="367.03" cy="454.93" r="1.75" fill="#2ec6ee"/>
<circle cx="346.32" cy="480.52" r="1.75" fill="#2ec6ee"/>
<circle cx="365.33" cy="458.22" r="1.75" fill="#2ec6ee"/>
<circle cx="374.46" cy="444.86" r="1.75" fill="#2ec6ee"/>
<circle cx="376.56" cy="452.05" r="1.75" fill="#2ec6ee"/>
<circle cx="363.27" cy="469.07" r="1.75" fill="#2ec6ee"/>
<circle cx="355.07" cy="478.01" r="1.75" fill="#2ec6ee"/>
<circle cx="366.03" cy="450.19" r="1.75" fill="#2ec6ee"/>
<circle cx="365.63" cy="466.31" r="1.75" fill="#2ec6ee"/>
<circle cx="378.92" cy="440.5" r="1.75" fill="#2ec6ee"/>
<circle cx="367.42" cy="451.89" r="1.75" fill="#2ec6ee"/>
<circle cx="394.6" cy="428.57" r="1.75" fill="#2ec6ee"/>
<circle cx="394.97" cy="430.46" r="1.75" fill="#2ec6ee"/>
<circle cx="359.52" cy="471.97" r="1.75" fill="#2ec6ee"/>
<circle cx="367.29" cy="452.96" r="1.75" fill="#2ec6ee"/>
<circle cx="380.17" cy="447.34" r="1.75" fill="#2ec6ee"/>
<circle cx="362.41" cy="461.77" r="1.75" fill="#2ec6ee"/>
<circle cx="387.45" cy="430.6" r="1.75" fill="#2ec6ee"/>
<circle cx="352.49" cy="475.86" r="1.75" fill="#2ec6ee"/>
<circle cx="362.5" cy="460.89" r="1.75" fill="#2ec6ee"/>
<circle cx="372.22" cy="452.46" r="1.75" fill="#2ec6ee"/>
<circle cx="398.68" cy="430.35" r="1.75" fill="#2ec6ee"/>
<circle cx="389.54" cy="431.09" r="1.75" fill="#2ec6ee"/>
<circle cx="371.12" cy="449.2" r="1.75" fill="#2ec6ee"/>
<circle cx="377.43" cy="450.47" r="1.75" fill="#2ec6ee"/>
<circle cx="371" cy="448.15" r="1.75" fill="#2ec6ee"/>
<circle cx="362.61" cy="453.16" r="1.75" fill="#2ec6ee"/>
<circle cx="364.46" cy="460.4" r="1.75" fill="#2ec6ee"/>
<circle cx="349.03" cy="465.92" r="1.75" fill="#2ec6ee"/>
<circle cx="392.41" cy="427.96" r="1.75" fill="#2ec6ee"/>
<circle cx="390.98" cy="427.99" r="1.75" fill="#2ec6ee"/>
<circle cx="364.78" cy="462.45" r="1.75" fill="#2ec6ee"/>
<circle cx="369.79" cy="455.39" r="1.75" fill="#2ec6ee"/>
<circle cx="380.34" cy="428.08" r="1.75" fill="#2ec6ee"/>
<circle cx="348.01" cy="476.42" r="1.75" fill="#2ec6ee"/>
<circle cx="369.89" cy="448.57" r="1.75" fill="#2ec6ee"/>
<circle cx="374.52" cy="452.92" r="1.75" fill="#2ec6ee"/>
<circle cx="402.2" cy="422.38" r="1.75" fill="#2ec6ee"/>
<circle cx="356.74" cy="476.12" r="1.75" fill="#2ec6ee"/>
<circle cx="353.26" cy="475.55" r="1.75" fill="#2ec6ee"/>
<circle cx="382.18" cy="447.28" r="1.75" fill="#2ec6ee"/>
<circle cx="388.07" cy="427.39" r="1.75" fill="#2ec6ee"/>
<circle cx="372.42" cy="445.82" r="1.75" fill="#2ec6ee"/>
<circle cx="386.35" cy="437.53" r="1.75" fill="#2ec6ee"/>
<circle cx="378.35" cy="440.41" r="1.75" fill="#2ec6ee"/>
<circle cx="376.35" cy="445.38" r="1.75" fill="#2ec6ee"/>
<circle cx="347.42" cy="472.8" r="1.75" fill="#2ec6ee"/>
<circle cx="357.83" cy="464.3" r="1.75" fill="#2ec6ee"/>
<circle cx="350.92" cy="472.04" r="1.75" fill="#2ec6ee"/>
<circle cx="372.87" cy="459.77" r="1.75" fill="#2ec6ee"/>
<circle cx="366.67" cy="461.78" r="1.75" fill="#2ec6ee"/>
<circle cx="379.13" cy="437.6" r="1.75" fill="#2ec6ee"/>
<circle cx="398.05" cy="430.18" r="1.75" fill="#2ec6ee"/>
<circle cx="383.55" cy="430.56" r="1.75" fill="#2ec6ee"/>
<circle cx="362.42" cy="459.09" r="1.75" fill="#2ec6ee"/>
<circle cx="340.63" cy="487.56" r="1.75" fill="#13a052"/>
<circle cx="341.53" cy="488.15" r="1.75" fill="#13a052"/>
<circle cx="339.77" cy="485.15" r="1.75" fill="#13a052"/>
<circle cx="340.58" cy="488.12" r="1.75" fill="#13a052"/>
<circle cx="339.38" cy="486.65" r="1.75" fill="#13a052"/>
<circle cx="339.41" cy="485.12" r="1.75" fill="#13a052"/>
<circle cx="340.37" cy="488.58" r="1.75" fill="#13a052"/>
<circle cx="340.68" cy="490.56" r="1.75" fill="#13a052"/>
<circle cx="365.99" cy="449.94" r="1.75" fill="#dcbc3e"/>
<circle cx="387.02" cy="432.28" r="1.75" fill="#dcbc3e"/>
<circle cx="345.09" cy="487.44" r="1.75" fill="#dcbc3e"/>
<circle cx="371.87" cy="457.8" r="1.75" fill="#dcbc3e"/>
<circle cx="371.5" cy="457.03" r="1.75" fill="#dcbc3e"/>
<circle cx="390.47" cy="435.86" r="1.75" fill="#dcbc3e"/>
<circle cx="346.76" cy="478.15" r="1.75" fill="#dcbc3e"/>
<circle cx="370.99" cy="461.58" r="1.75" fill="#dcbc3e"/>
<circle cx="379.71" cy="448.9" r="1.75" fill="#dcbc3e"/>
<circle cx="389.7" cy="423.78" r="1.75" fill="#dcbc3e"/>
<circle cx="365.73" cy="452.51" r="1.75" fill="#dcbc3e"/>
<circle cx="363.57" cy="460.89" r="1.75" fill="#dcbc3e"/>
<circle cx="394.15" cy="424.97" r="1.75" fill="#dcbc3e"/>
<circle cx="379.48" cy="449.29" r="1.75" fill="#dcbc3e"/>
<circle cx="366.23" cy="462.21" r="1.75" fill="#dcbc3e"/>
<circle cx="364.1" cy="468.03" r="1.75" fill="#dcbc3e"/>
<circle cx="362.88" cy="456.76" r="1.75" fill="#dcbc3e"/>
<circle cx="360.8" cy="460.49" r="1.75" fill="#dcbc3e"/>
<circle cx="384.27" cy="430.52" r="1.75" fill="#dcbc3e"/>
<circle cx="360.87" cy="471.83" r="1.75" fill="#dcbc3e"/>
<circle cx="383.24" cy="443.66" r="1.75" fill="#dcbc3e"/>
<circle cx="370.63" cy="453.1" r="1.75" fill="#dcbc3e"/>
<circle cx="381.73" cy="439.39" r="1.75" fill="#dcbc3e"/>
<circle cx="374.24" cy="440.35" r="1.75" fill="#dcbc3e"/>
<circle cx="376.34" cy="451.56" r="1.75" fill="#dcbc3e"/>
<circle cx="345.84" cy="487.36" r="1.75" fill="#dcbc3e"/>
<circle cx="377.97" cy="443.79" r="1.75" fill="#dcbc3e"/>
<circle cx="373.65" cy="440.57" r="1.75" fill="#dcbc3e"/>
<circle cx="373.89" cy="448.14" r="1.75" fill="#dcbc3e"/>
<circle cx="374.7" cy="450.44" r="1.75" fill="#dcbc3e"/>
<circle cx="385.72" cy="435.02" r="1.75" fill="#dcbc3e"/>
<circle cx="363.91" cy="462.2" r="1.75" fill="#dcbc3e"/>
<circle cx="344.68" cy="474.98" r="1.75" fill="#dcbc3e"/>
<circle cx="391.15" cy="440.82" r="1.75" fill="#dcbc3e"/>
<circle cx="379.82" cy="441.44" r="1.75" fill="#dcbc3e"/>
<circle cx="376.22" cy="452.8" r="1.75" fill="#dcbc3e"/>
<circle cx="385.18" cy="447.08" r="1.75" fill="#dcbc3e"/>
<circle cx="388.77" cy="440.76" r="1.75" fill="#dcbc3e"/>
<circle cx="372.43" cy="461.1" r="1.75" fill="#dcbc3e"/>
<circle cx="384.96" cy="436.76" r="1.75" fill="#dcbc3e"/>
<circle cx="351.34" cy="479.4" r="1.75" fill="#dcbc3e"/>
<circle cx="356.8" cy="480.26" r="1.75" fill="#dcbc3e"/>
<circle cx="369.79" cy="458.16" r="1.75" fill="#dcbc3e"/>
<circle cx="359.09" cy="467.13" r="1.75" fill="#dcbc3e"/>
<circle cx="379.29" cy="443.11" r="1.75" fill="#dcbc3e"/>
<circle cx="346.36" cy="484.09" r="1.75" fill="#dcbc3e"/>
<circle cx="374.26" cy="456.96" r="1.75" fill="#dcbc3e"/>
<circle cx="345.1" cy="483.05" r="1.75" fill="#dcbc3e"/>
<circle cx="375.51" cy="450.76" r="1.75" fill="#dcbc3e"/>
<circle cx="392.04" cy="430.78" r="1.75" fill="#dcbc3e"/>
<circle cx="382.9" cy="437.38" r="1.75" fill="#dcbc3e"/>
<circle cx="346.76" cy="488.63" r="1.75" fill="#dcbc3e"/>
<circle cx="383.27" cy="439.07" r="1.75" fill="#dcbc3e"/>
<circle cx="371.28" cy="455.16" r="1.75" fill="#dcbc3e"/>
<circle cx="375.33" cy="452.29" r="1.75" fill="#dcbc3e"/>
<circle cx="388.79" cy="437.81" r="1.75" fill="#dcbc3e"/>
<circle cx="356.77" cy="469.78" r="1.75" fill="#dcbc3e"/>
<circle cx="380.26" cy="442.97" r="1.75" fill="#dcbc3e"/>
<circle cx="376.5" cy="444.33" r="1.75" fill="#dcbc3e"/>
<circle cx="378.03" cy="445.05" r="1.75" fill="#dcbc3e"/>
<circle cx="352.63" cy="472.97" r="1.75" fill="#dcbc3e"/>
<circle cx="380.28" cy="458.13" r="1.75" fill="#dcbc3e"/>
<circle cx="366.74" cy="449.29" r="1.75" fill="#dcbc3e"/>
<circle cx="395" cy="434.74" r="1.75" fill="#dcbc3e"/>
<circle cx="358.72" cy="473.89" r="1.75" fill="#dcbc3e"/>
<circle cx="372.66" cy="466.51" r="1.75" fill="#dcbc3e"/>
<circle cx="387.06" cy="433.56" r="1.75" fill="#dcbc3e"/>
<circle cx="358.43" cy="467.76" r="1.75" fill="#dcbc3e"/>
<circle cx="367.34" cy="456.11" r="1.75" fill="#dcbc3e"/>
<circle cx="351.12" cy="474.76" r="1.75" fill="#dcbc3e"/>
<circle cx="361.5" cy="459.89" r="1.75" fill="#dcbc3e"/>
<circle cx="347.92" cy="483.4" r="1.75" fill="#dcbc3e"/>
<circle cx="355.96" cy="475.55" r="1.75" fill="#dcbc3e"/>
<circle cx="371.97" cy="440.03" r="1.75" fill="#dcbc3e"/>
<circle cx="383.19" cy="437.24" r="1.75" fill="#dcbc3e"/>
<circle cx="363.67" cy="466.54" r="1.75" fill="#dcbc3e"/>
<circle cx="367.32" cy="461.26" r="1.75" fill="#dcbc3e"/>
<circle cx="381.8" cy="439.78" r="1.75" fill="#dcbc3e"/>
<circle cx="378.71" cy="449.71" r="1.75" fill="#dcbc3e"/>
<circle cx="380.84" cy="444.5" r="1.75" fill="#dcbc3e"/>
<circle cx="357.92" cy="474.85" r="1.75" fill="#dcbc3e"/>
<circle cx="382.84" cy="455.89" r="1.75" fill="#dcbc3e"/>
<circle cx="350.96" cy="472.27" r="1.75" fill="#dcbc3e"/>
<circle cx="396.26" cy="421.89" r="1.75" fill="#dcbc3e"/>
<circle cx="359.89" cy="462.63" r="1.75" fill="#dcbc3e"/>
<circle cx="386" cy="449.65" r="1.75" fill="#dcbc3e"/>
<circle cx="356.98" cy="461.45" r="1.75" fill="#dcbc3e"/>
<circle cx="379.8" cy="446.92" r="1.75" fill="#f7808a"/>
<circle cx="355.37" cy="473.38" r="1.75" fill="#f7808a"/>
<circle cx="384.4" cy="448.63" r="1.75" fill="#f7808a"/>
<circle cx="372.26" cy="456.66" r="1.75" fill="#f7808a"/>
<circle cx="367.05" cy="447.98" r="1.75" fill="#f7808a"/>
<circle cx="358.2" cy="467.8" r="1.75" fill="#f7808a"/>
<circle cx="361.9" cy="454.25" r="1.75" fill="#f7808a"/>
<circle cx="360.87" cy="474.58" r="1.75" fill="#f7808a"/>
<circle cx="370.93" cy="457.47" r="1.75" fill="#f7808a"/>
<circle cx="381.72" cy="441.44" r="1.75" fill="#f7808a"/>
<circle cx="387.08" cy="443.07" r="1.75" fill="#f7808a"/>
<circle cx="372.23" cy="450.17" r="1.75" fill="#f7808a"/>
<circle cx="351.35" cy="479.27" r="1.75" fill="#f7808a"/>
<circle cx="365.65" cy="463.36" r="1.75" fill="#f7808a"/>
<circle cx="375.4" cy="456.5" r="1.75" fill="#f7808a"/>
<circle cx="380.42" cy="453.78" r="1.75" fill="#f7808a"/>
<circle cx="370.13" cy="459.96" r="1.75" fill="#f7808a"/>
<circle cx="376.43" cy="455.7" r="1.75" fill="#f7808a"/>
<circle cx="375.4" cy="455.17" r="1.75" fill="#f7808a"/>
<circle cx="386.45" cy="438.48" r="1.75" fill="#f7808a"/>
<circle cx="365.97" cy="463.44" r="1.75" fill="#f7808a"/>
<circle cx="387.4" cy="434.35" r="1.75" fill="#f7808a"/>
<circle cx="367.51" cy="466.13" r="1.75" fill="#f7808a"/>
<circle cx="365.39" cy="462.38" r="1.75" fill="#f7808a"/>
<circle cx="392.83" cy="445.84" r="1.75" fill="#f7808a"/>
<circle cx="384.71" cy="436.73" r="1.75" fill="#f7808a"/>
<circle cx="355.59" cy="468.74" r="1.75" fill="#f7808a"/>
<circle cx="391.01" cy="429.36" r="1.75" fill="#f7808a"/>
<circle cx="396.55" cy="426.06" r="1.75" fill="#f7808a"/>
<circle cx="377.92" cy="450.91" r="1.75" fill="#f7808a"/>
<circle cx="363.2" cy="469.3" r="1.75" fill="#f7808a"/>
<circle cx="344.62" cy="487.03" r="1.75" fill="#f7808a"/>
<circle cx="382.31" cy="447.42" r="1.75" fill="#f7808a"/>
<circle cx="366.5" cy="460.5" r="1.75" fill="#f7808a"/>
<circle cx="367.7" cy="464.17" r="1.75" fill="#f7808a"/>
<circle cx="362.45" cy="475.22" r="1.75" fill="#f7808a"/>
<circle cx="392.29" cy="429.54" r="1.75" fill="#f7808a"/>
<circle cx="372.9" cy="456.12" r="1.75" fill="#f7808a"/>
<circle cx="367.7" cy="463.52" r="1.75" fill="#f7808a"/>
<circle cx="360.09" cy="464.13" r="1.75" fill="#f7808a"/>
<circle cx="374.97" cy="455.41" r="1.75" fill="#f7808a"/>
<circle cx="364.07" cy="468.08" r="1.75" fill="#f7808a"/>
<circle cx="385.93" cy="437.26" r="1.75" fill="#f7808a"/>
<circle cx="390.76" cy="439.43" r="1.75" fill="#f7808a"/>
<circle cx="393.14" cy="431.5" r="1.75" fill="#f7808a"/>
<circle cx="378.23" cy="450.03" r="1.75" fill="#f7808a"/>
<circle cx="371.35" cy="459.34" r="1.75" fill="#f7808a"/>
<circle cx="373.49" cy="459.8" r="1.75" fill="#f7808a"/>
<circle cx="397.08" cy="425.02" r="1.75" fill="#f7808a"/>
<circle cx="366.36" cy="465.08" r="1.75" fill="#f7808a"/>
<circle cx="394.53" cy="421.46" r="1.75" fill="#f7808a"/>
<circle cx="373.62" cy="451.47" r="1.75" fill="#f7808a"/>
<circle cx="394.1" cy="431.56" r="1.75" fill="#f7808a"/>
<circle cx="382.61" cy="439.73" r="1.75" fill="#f7808a"/>
<circle cx="365.23" cy="472.92" r="1.75" fill="#f7808a"/>
<circle cx="380.88" cy="449.21" r="1.75" fill="#f7808a"/>
<circle cx="363.65" cy="459.37" r="1.75" fill="#f7808a"/>
<circle cx="339.95" cy="489.91" r="1.75" fill="#f7808a"/>
<circle cx="382.86" cy="441.23" r="1.75" fill="#f7808a"/>
<circle cx="386.87" cy="441.24" r="1.75" fill="#f7808a"/>
<circle cx="360.97" cy="466.18" r="1.75" fill="#f7808a"/>
<circle cx="358.89" cy="476.06" r="1.75" fill="#f7808a"/>
<circle cx="396.99" cy="432.58" r="1.75" fill="#f7808a"/>
<circle cx="383.19" cy="448.7" r="1.75" fill="#f7808a"/>
<circle cx="367.53" cy="467.02" r="1.75" fill="#f7808a"/>
<circle cx="387.61" cy="434.68" r="1.75" fill="#f7808a"/>
<circle cx="385.62" cy="441.03" r="1.75" fill="#f7808a"/>
<circle cx="381.89" cy="446.51" r="1.75" fill="#f7808a"/>
<circle cx="375.1" cy="447.73" r="1.75" fill="#f7808a"/>
<circle cx="355.47" cy="479.11" r="1.75" fill="#f7808a"/>
<circle cx="365.37" cy="471.72" r="1.75" fill="#f7808a"/>
<circle cx="360.64" cy="470.52" r="1.75" fill="#f7808a"/>
<circle cx="377.6" cy="458.52" r="1.75" fill="#f7808a"/>
<circle cx="395.81" cy="435.29" r="1.75" fill="#f7808a"/>
<circle cx="380.02" cy="446.15" r="1.75" fill="#f7808a"/>
<circle cx="382.34" cy="436.01" r="1.75" fill="#f7808a"/>
<circle cx="374.13" cy="455.88" r="1.75" fill="#f7808a"/>
<circle cx="365.16" cy="465.97" r="1.75" fill="#f7808a"/>
<circle cx="380.8" cy="448.39" r="1.75" fill="#f7808a"/>
<circle cx="398.9" cy="421.77" r="1.75" fill="#f7808a"/>
<circle cx="382.01" cy="446.64" r="1.75" fill="#f7808a"/>
<circle cx="376.63" cy="451.1" r="1.75" fill="#f7808a"/>
<circle cx="372.73" cy="455.79" r="1.75" fill="#f7808a"/>
<circle cx="392.57" cy="439.62" r="1.75" fill="#f7808a"/>
<circle cx="374.36" cy="459.69" r="1.75" fill="#f7808a"/>
<circle cx="380.8" cy="439.7" r="1.75" fill="#f7808a"/>
<circle cx="365.74" cy="461.19" r="1.75" fill="#f7808a"/>
<circle cx="383.39" cy="444.12" r="1.75" fill="#f7808a"/>
<circle cx="354.21" cy="475.37" r="1.75" fill="#f7808a"/>
<circle cx="366.89" cy="459.2" r="1.75" fill="#f7808a"/>
<circle cx="398.39" cy="426.29" r="1.75" fill="#f7808a"/>
<circle cx="389.34" cy="438.35" r="1.75" fill="#f7808a"/>
<circle cx="359.73" cy="459.36" r="1.75" fill="#f7808a"/>
<circle cx="385.07" cy="441.33" r="1.75" fill="#f7808a"/>
<circle cx="372.03" cy="457.5" r="1.75" fill="#f7808a"/>
<circle cx="378.68" cy="438.4" r="1.75" fill="#f7808a"/>
<circle cx="382.83" cy="444.63" r="1.75" fill="#f7808a"/>
<circle cx="359.02" cy="466.22" r="1.75" fill="#f7808a"/>
<circle cx="382.44" cy="443.72" r="1.75" fill="#f7808a"/>
<circle cx="380.49" cy="450.74" r="1.75" fill="#f7808a"/>
<circle cx="384.08" cy="446.64" r="1.75" fill="#f7808a"/>
<circle cx="365.42" cy="452.83" r="1.75" fill="#f7808a"/>
<circle cx="387.76" cy="437.79" r="1.75" fill="#f7808a"/>
<circle cx="377.05" cy="449.16" r="1.75" fill="#f7808a"/>
<circle cx="361.29" cy="464.33" r="1.75" fill="#f7808a"/>
<circle cx="394.78" cy="439.82" r="1.75" fill="#f7808a"/>
<circle cx="359.32" cy="468.68" r="1.75" fill="#f7808a"/>
<circle cx="372.01" cy="454.08" r="1.75" fill="#f7808a"/>
<circle cx="367.35" cy="457.57" r="1.75" fill="#f7808a"/>
<circle cx="397.25" cy="431.06" r="1.75" fill="#f7808a"/>
<circle cx="344.84" cy="477.36" r="1.75" fill="#f7808a"/>
<circle cx="358.41" cy="470" r="1.75" fill="#f7808a"/>
<circle cx="382.24" cy="443.59" r="1.75" fill="#f7808a"/>
<circle cx="367.22" cy="465.76" r="1.75" fill="#f7808a"/>
<circle cx="360.58" cy="465.25" r="1.75" fill="#f7808a"/>
<circle cx="400.91" cy="424.1" r="1.75" fill="#f7808a"/>
<circle cx="351.62" cy="475.51" r="1.75" fill="#f7808a"/>
<circle cx="384.17" cy="446.49" r="1.75" fill="#f7808a"/>
<circle cx="364.43" cy="466.97" r="1.75" fill="#f7808a"/>
<circle cx="358.43" cy="474.28" r="1.75" fill="#f7808a"/>
<circle cx="393.87" cy="432.67" r="1.75" fill="#f7808a"/>
<circle cx="388" cy="441.77" r="1.75" fill="#f7808a"/>
<circle cx="369.92" cy="457.46" r="1.75" fill="#f7808a"/>
<circle cx="362.69" cy="470.51" r="1.75" fill="#f7808a"/>
<circle cx="388.99" cy="436.49" r="1.75" fill="#f7808a"/>
<circle cx="379.48" cy="438.44" r="1.75" fill="#f7808a"/>
<circle cx="351.46" cy="471.05" r="1.75" fill="#f7808a"/>
<circle cx="383.5" cy="450.77" r="1.75" fill="#f7808a"/>
<circle cx="348.61" cy="475.87" r="1.75" fill="#f7808a"/>
<circle cx="363.66" cy="469.5" r="1.75" fill="#f7808a"/>
<circle cx="391.65" cy="428.54" r="1.75" fill="#f7808a"/>
<circle cx="366.02" cy="451.69" r="1.75" fill="#f7808a"/>
<circle cx="388.75" cy="436.98" r="1.75" fill="#f7808a"/>
<circle cx="372.54" cy="457.66" r="1.75" fill="#f7808a"/>
<circle cx="370.96" cy="464.47" r="1.75" fill="#f7808a"/>
<circle cx="377.88" cy="453.34" r="1.75" fill="#f7808a"/>
<circle cx="384.44" cy="444.3" r="1.75" fill="#f7808a"/>
<circle cx="374.89" cy="444.48" r="1.75" fill="#f7808a"/>
<circle cx="392.67" cy="442.33" r="1.75" fill="#d8448f"/>
<circle cx="385.98" cy="449.14" r="1.75" fill="#d8448f"/>
<circle cx="395.32" cy="425.23" r="1.75" fill="#d8448f"/>
<circle cx="386.21" cy="444.07" r="1.75" fill="#d8448f"/>
<circle cx="365.62" cy="459.63" r="1.75" fill="#d8448f"/>
<circle cx="389.66" cy="439.2" r="1.75" fill="#d8448f"/>
<circle cx="366.67" cy="459.35" r="1.75" fill="#d8448f"/>
<circle cx="392.09" cy="436.76" r="1.75" fill="#d8448f"/>
<circle cx="376.19" cy="447.96" r="1.75" fill="#d8448f"/>
<circle cx="385.24" cy="444.57" r="1.75" fill="#d8448f"/>
<circle cx="397.61" cy="423.25" r="1.75" fill="#d8448f"/>
<circle cx="402.69" cy="424.58" r="1.75" fill="#d8448f"/>
<circle cx="377.65" cy="458.59" r="1.75" fill="#d8448f"/>
<circle cx="382.62" cy="443.99" r="1.75" fill="#d8448f"/>
<circle cx="368.08" cy="452.95" r="1.75" fill="#d8448f"/>
<circle cx="381.65" cy="447.12" r="1.75" fill="#d8448f"/>
<circle cx="397.98" cy="436.47" r="1.75" fill="#d8448f"/>
<circle cx="368.73" cy="458.18" r="1.75" fill="#d8448f"/>
<circle cx="365.98" cy="462.42" r="1.75" fill="#d8448f"/>
<circle cx="389.04" cy="435.4" r="1.75" fill="#d8448f"/>
<circle cx="386.97" cy="442.12" r="1.75" fill="#d8448f"/>
<circle cx="390.71" cy="439.27" r="1.75" fill="#d8448f"/>
<circle cx="389.25" cy="440.67" r="1.75" fill="#d8448f"/>
<circle cx="373.47" cy="452.99" r="1.75" fill="#d8448f"/>
<circle cx="389.37" cy="439" r="1.75" fill="#d8448f"/>
<circle cx="390.33" cy="430.33" r="1.75" fill="#d8448f"/>
<circle cx="380.1" cy="446.58" r="1.75" fill="#d8448f"/>
<circle cx="379.63" cy="453.81" r="1.75" fill="#d8448f"/>
<circle cx="388.86" cy="445.66" r="1.75" fill="#d8448f"/>
<circle cx="389.75" cy="431.82" r="1.75" fill="#d8448f"/>
<circle cx="380.48" cy="445.86" r="1.75" fill="#d8448f"/>
<circle cx="383.66" cy="445.59" r="1.75" fill="#d8448f"/>
<circle cx="388.86" cy="441.6" r="1.75" fill="#d8448f"/>
<circle cx="383.95" cy="443.78" r="1.75" fill="#d8448f"/>
<circle cx="377.29" cy="443.83" r="1.75" fill="#d8448f"/>
<circle cx="397.09" cy="434.2" r="1.75" fill="#d8448f"/>
<circle cx="388.51" cy="445.47" r="1.75" fill="#d8448f"/>
<circle cx="380.34" cy="447.33" r="1.75" fill="#d8448f"/>
<circle cx="379.36" cy="447.29" r="1.75" fill="#d8448f"/>
<circle cx="390.27" cy="426.31" r="1.75" fill="#d8448f"/>
<circle cx="380.25" cy="446.67" r="1.75" fill="#d8448f"/>
<circle cx="381.28" cy="446.64" r="1.75" fill="#d8448f"/>
<circle cx="397.04" cy="433.05" r="1.75" fill="#d8448f"/>
<circle cx="391.55" cy="432.92" r="1.75" fill="#d8448f"/>
<circle cx="388.22" cy="433.39" r="1.75" fill="#d8448f"/>
<circle cx="376.13" cy="450.69" r="1.75" fill="#d8448f"/>
<circle cx="375.55" cy="451.77" r="1.75" fill="#d8448f"/>
<circle cx="396.02" cy="440.02" r="1.75" fill="#d8448f"/>
<circle cx="393.52" cy="432.11" r="1.75" fill="#d8448f"/>
<circle cx="383.07" cy="442.79" r="1.75" fill="#d8448f"/>
<circle cx="374.67" cy="451.94" r="1.75" fill="#d8448f"/>
<circle cx="391.87" cy="426.43" r="1.75" fill="#d8448f"/>
<circle cx="386.65" cy="445.63" r="1.75" fill="#d8448f"/>
<circle cx="381.32" cy="448.61" r="1.75" fill="#d8448f"/>
<circle cx="386.88" cy="440" r="1.75" fill="#d8448f"/>
<circle cx="374.75" cy="452.14" r="1.75" fill="#d8448f"/>
<circle cx="374.64" cy="453.92" r="1.75" fill="#d8448f"/>
<circle cx="386.06" cy="434.27" r="1.75" fill="#d8448f"/>
<circle cx="377.02" cy="456.31" r="1.75" fill="#d8448f"/>
<circle cx="384.72" cy="442.99" r="1.75" fill="#d8448f"/>
<circle cx="397.74" cy="436.43" r="1.75" fill="#d8448f"/>
<circle cx="392.97" cy="435.88" r="1.75" fill="#d8448f"/>
<circle cx="376.55" cy="457.12" r="1.75" fill="#d8448f"/>
<circle cx="383.65" cy="446.73" r="1.75" fill="#d8448f"/>
<circle cx="379.94" cy="446.68" r="1.75" fill="#d8448f"/>
<circle cx="380.05" cy="446.99" r="1.75" fill="#d8448f"/>
<circle cx="376.11" cy="444.01" r="1.75" fill="#d8448f"/>
<circle cx="379.73" cy="438.76" r="1.75" fill="#d8448f"/>
<circle cx="386.33" cy="448.51" r="1.75" fill="#d8448f"/>
<circle cx="374.06" cy="459.28" r="1.75" fill="#d8448f"/>
<circle cx="387.76" cy="436.87" r="1.75" fill="#d8448f"/>
<circle cx="382.6" cy="445.74" r="1.75" fill="#d8448f"/>
<circle cx="379.96" cy="457.3" r="1.75" fill="#d8448f"/>
<circle cx="382.48" cy="439.64" r="1.75" fill="#d8448f"/>
<circle cx="364.57" cy="464.47" r="1.75" fill="#d8448f"/>
<circle cx="391.5" cy="440.2" r="1.75" fill="#d8448f"/>
<circle cx="388.36" cy="440.75" r="1.75" fill="#d8448f"/>
<circle cx="369.51" cy="460.41" r="1.75" fill="#d8448f"/>
<circle cx="380.44" cy="458.33" r="1.75" fill="#d8448f"/>
<circle cx="361.47" cy="469.19" r="1.75" fill="#d8448f"/>
<circle cx="390.38" cy="442.74" r="1.75" fill="#d8448f"/>
<circle cx="394.61" cy="435.31" r="1.75" fill="#d8448f"/>
<circle cx="374.54" cy="458.81" r="1.75" fill="#d8448f"/>
<circle cx="388.23" cy="439.16" r="1.75" fill="#d8448f"/>
<circle cx="392.54" cy="428.96" r="1.75" fill="#d8448f"/>
<circle cx="394.95" cy="432.01" r="1.75" fill="#d8448f"/>
<circle cx="361.7" cy="471.18" r="1.75" fill="#d8448f"/>
<circle cx="373.67" cy="457.64" r="1.75" fill="#d8448f"/>
<circle cx="379.03" cy="453.71" r="1.75" fill="#d8448f"/>
<circle cx="376.11" cy="448.03" r="1.75" fill="#d8448f"/>
<circle cx="384.02" cy="445.63" r="1.75" fill="#d8448f"/>
<circle cx="372.77" cy="456.05" r="1.75" fill="#d8448f"/>
<circle cx="374.99" cy="461.63" r="1.75" fill="#d8448f"/>
<circle cx="391.96" cy="434.43" r="1.75" fill="#d8448f"/>
<circle cx="390.26" cy="436.02" r="1.75" fill="#d8448f"/>
<circle cx="376.19" cy="452.43" r="1.75" fill="#d8448f"/>
<circle cx="392.36" cy="438.54" r="1.75" fill="#d8448f"/>
<circle cx="398.23" cy="425.5" r="1.75" fill="#d8448f"/>
<circle cx="387.4" cy="437.64" r="1.75" fill="#d8448f"/>
<circle cx="388.98" cy="437.43" r="1.75" fill="#d8448f"/>
<circle cx="368.54" cy="461.96" r="1.75" fill="#d8448f"/>
<circle cx="380.89" cy="445.39" r="1.75" fill="#d8448f"/>
<circle cx="379.71" cy="443.99" r="1.75" fill="#d8448f"/>
<circle cx="387.11" cy="439.55" r="1.75" fill="#d8448f"/>
<circle cx="375.62" cy="444.08" r="1.75" fill="#d8448f"/>
<circle cx="371.56" cy="452.65" r="1.75" fill="#d8448f"/>
<circle cx="365.05" cy="453.57" r="1.75" fill="#d8448f"/>
<circle cx="383.17" cy="439.47" r="1.75" fill="#d8448f"/>
<circle cx="393.17" cy="427.38" r="1.75" fill="#d8448f"/>
<circle cx="403.92" cy="426.99" r="1.75" fill="#d8448f"/>
<circle cx="384.63" cy="446.33" r="1.75" fill="#d8448f"/>
<circle cx="380.45" cy="457.04" r="1.75" fill="#d8448f"/>
<circle cx="384.61" cy="445.48" r="1.75" fill="#d8448f"/>
<circle cx="381.29" cy="442.56" r="1.75" fill="#d8448f"/>
<circle cx="383.29" cy="441.33" r="1.75" fill="#d8448f"/>
<circle cx="388.79" cy="445.25" r="1.75" fill="#d8448f"/>
<circle cx="374.31" cy="449.73" r="1.75" fill="#d8448f"/>
<circle cx="383.77" cy="443.87" r="1.75" fill="#d8448f"/>
<circle cx="344.27" cy="466.03" r="1.75" fill="#f7808a"/>
<circle cx="354.98" cy="478.21" r="1.75" fill="#bdbdbd"/>
<circle cx="350.18" cy="479.01" r="1.75" fill="#bdbdbd"/>
<circle cx="352.1" cy="479.77" r="1.75" fill="#bdbdbd"/>
<circle cx="347.73" cy="483.63" r="1.75" fill="#bdbdbd"/>
<circle cx="354.12" cy="478.6" r="1.75" fill="#bdbdbd"/>
<circle cx="349.95" cy="481.56" r="1.75" fill="#bdbdbd"/>
<circle cx="355.07" cy="474.39" r="1.75" fill="#bdbdbd"/>
<circle cx="357.6" cy="473" r="1.75" fill="#bdbdbd"/>
<circle cx="353.24" cy="477.09" r="1.75" fill="#bdbdbd"/>
<circle cx="355" cy="478.29" r="1.75" fill="#bdbdbd"/>
<circle cx="354.07" cy="477.86" r="1.75" fill="#bdbdbd"/>
<circle cx="351.14" cy="481.46" r="1.75" fill="#bdbdbd"/>
<circle cx="354.35" cy="477.24" r="1.75" fill="#bdbdbd"/>
<circle cx="359.37" cy="471.6" r="1.75" fill="#bdbdbd"/>
<circle cx="351.65" cy="477.27" r="1.75" fill="#bdbdbd"/>
<line x1="336" y1="497.5" x2="443.4" y2="384.7" stroke="#000" stroke-width="1.6" stroke-dasharray="4.6 2.6"/>
<line x1="336" y1="496.15" x2="443.4" y2="378.16" stroke="#000" stroke-width="1.6"/>
</g>
<rect x="407.5" y="437.5" width="33.4" height="57" rx="1.5" fill="#fff" fill-opacity="0.85" stroke="#d4d4d4" stroke-width="0.7"/>
<circle cx="415.2" cy="442.2" r="1.65" fill="#3a7ab8"/>
<text x="425" y="444.2" font-size="5.8" style="stroke:none" fill="#333">MF</text>
<circle cx="415.2" cy="450.1" r="1.65" fill="#3ec8f0"/>
<text x="425" y="452.1" font-size="5.8" style="stroke:none" fill="#333">ENF</text>
<circle cx="415.2" cy="458" r="1.65" fill="#12a050"/>
<text x="425" y="460" font-size="5.8" style="stroke:none" fill="#333">Grass</text>
<circle cx="415.2" cy="465.9" r="1.65" fill="#e2c04c"/>
<text x="425" y="467.9" font-size="5.8" style="stroke:none" fill="#333">DBF</text>
<circle cx="415.2" cy="473.8" r="1.65" fill="#f8909a"/>
<text x="425" y="475.8" font-size="5.8" style="stroke:none" fill="#333">Crop</text>
<circle cx="415.2" cy="481.7" r="1.65" fill="#e06aa6"/>
<text x="425" y="483.7" font-size="5.8" style="stroke:none" fill="#333">EBF</text>
<circle cx="415.2" cy="489.6" r="1.65" fill="#e2dcdc"/>
<text x="425" y="491.6" font-size="5.8" style="stroke:none" fill="#333">Shrub</text>
<text x="338.2" y="393.5" font-size="8.3">R<tspan font-size="5.5" dy="-3.2">2</tspan><tspan dy="3.2"> = 0.94</tspan></text>
<text x="338.2" y="402" font-size="8.3">RMSE = 0.52</text>
<text x="338.2" y="410.6" font-size="8.3">MD = 0.29</text>
<text x="338.2" y="419.3" font-size="8.3"><tspan font-style="italic">n</tspan> = 2675</text>
<rect x="336" y="384.7" width="107.4" height="112.8" fill="none" stroke="#2a2a2a" stroke-width="1.15"/>
<line x1="336" y1="497.5" x2="336" y2="500.5" stroke="#222" stroke-width="0.9"/>
<line x1="333" y1="497.5" x2="336" y2="497.5" stroke="#222" stroke-width="0.9"/>
<text x="336" y="510.7" font-size="9.8" text-anchor="middle">0</text>
<text x="329.7" y="500.9" font-size="9.8" text-anchor="end">0</text>
<line x1="357.48" y1="497.5" x2="357.48" y2="500.5" stroke="#222" stroke-width="0.9"/>
<line x1="333" y1="474.94" x2="336" y2="474.94" stroke="#222" stroke-width="0.9"/>
<text x="357.48" y="510.7" font-size="9.8" text-anchor="middle">2</text>
<text x="329.7" y="478.34" font-size="9.8" text-anchor="end">2</text>
<line x1="378.96" y1="497.5" x2="378.96" y2="500.5" stroke="#222" stroke-width="0.9"/>
<line x1="333" y1="452.38" x2="336" y2="452.38" stroke="#222" stroke-width="0.9"/>
<text x="378.96" y="510.7" font-size="9.8" text-anchor="middle">4</text>
<text x="329.7" y="455.78" font-size="9.8" text-anchor="end">4</text>
<line x1="400.44" y1="497.5" x2="400.44" y2="500.5" stroke="#222" stroke-width="0.9"/>
<line x1="333" y1="429.82" x2="336" y2="429.82" stroke="#222" stroke-width="0.9"/>
<text x="400.44" y="510.7" font-size="9.8" text-anchor="middle">6</text>
<text x="329.7" y="433.22" font-size="9.8" text-anchor="end">6</text>
<line x1="421.92" y1="497.5" x2="421.92" y2="500.5" stroke="#222" stroke-width="0.9"/>
<line x1="333" y1="407.26" x2="336" y2="407.26" stroke="#222" stroke-width="0.9"/>
<text x="421.92" y="510.7" font-size="9.8" text-anchor="middle">8</text>
<text x="329.7" y="410.66" font-size="9.8" text-anchor="end">8</text>
<line x1="443.4" y1="497.5" x2="443.4" y2="500.5" stroke="#222" stroke-width="0.9"/>
<line x1="333" y1="384.7" x2="336" y2="384.7" stroke="#222" stroke-width="0.9"/>
<text x="443.4" y="510.7" font-size="9.8" text-anchor="middle">10</text>
<text x="329.7" y="388.1" font-size="9.8" text-anchor="end">10</text>
<text x="390" y="521" font-size="10.3" text-anchor="middle">MCD15A2H C6.1</text>
<text transform="translate(317,441.4) rotate(-90)" font-size="10.2" text-anchor="middle" xml:space="preserve">reprocessed MODIS</text>
<text x="336.2" y="378.9" font-size="11">(i)</text>
<line x1="97.5" y1="547.2" x2="377.5" y2="547.2" stroke="#b0b0b0" stroke-width="1"/>
<rect x="97.5" y="533.7" width="280" height="12.8" fill="#fff" stroke="#707070" stroke-width="1"/>
<line x1="135.6" y1="540.2" x2="158" y2="540.2" stroke="#000" stroke-width="1.2" stroke-dasharray="3.3 3.05"/>
<text x="164.3" y="543" font-size="8">1:1 line</text>
<line x1="245" y1="540.2" x2="262.8" y2="540.2" stroke="#000" stroke-width="1.2"/>
<text x="271.4" y="543" font-size="8.1">linear fitted line</text>
</svg></body></html>
